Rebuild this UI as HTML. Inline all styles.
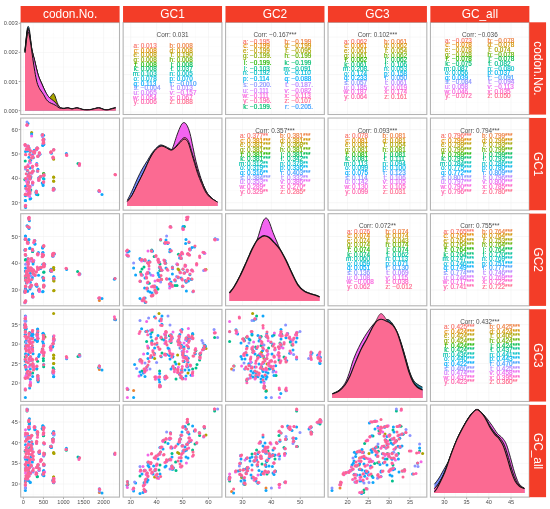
<!DOCTYPE html>
<html><head><meta charset="utf-8"><title>ggpairs</title>
<style>html,body{margin:0;padding:0;background:#fff}svg{display:block}</style>
</head><body>
<svg width="550" height="509" viewBox="0 0 550 509" font-family="Liberation Sans, Arial, sans-serif">
<rect width="550" height="509" fill="#fff"/>
<g><line x1="23.4" y1="22.4" x2="23.4" y2="114.5" stroke="#eeeeee" stroke-width="0.5"/><line x1="33.42" y1="22.4" x2="33.42" y2="114.5" stroke="#f6f6f6" stroke-width="0.3"/><line x1="43.45" y1="22.4" x2="43.45" y2="114.5" stroke="#eeeeee" stroke-width="0.5"/><line x1="53.48" y1="22.4" x2="53.48" y2="114.5" stroke="#f6f6f6" stroke-width="0.3"/><line x1="63.5" y1="22.4" x2="63.5" y2="114.5" stroke="#eeeeee" stroke-width="0.5"/><line x1="73.53" y1="22.4" x2="73.53" y2="114.5" stroke="#f6f6f6" stroke-width="0.3"/><line x1="83.55" y1="22.4" x2="83.55" y2="114.5" stroke="#eeeeee" stroke-width="0.5"/><line x1="93.57" y1="22.4" x2="93.57" y2="114.5" stroke="#f6f6f6" stroke-width="0.3"/><line x1="103.6" y1="22.4" x2="103.6" y2="114.5" stroke="#eeeeee" stroke-width="0.5"/><line x1="113.62" y1="22.4" x2="113.62" y2="114.5" stroke="#f6f6f6" stroke-width="0.3"/><line x1="20.7" y1="110.6" x2="119.5" y2="110.6" stroke="#eeeeee" stroke-width="0.5"/><line x1="20.7" y1="96.05" x2="119.5" y2="96.05" stroke="#f6f6f6" stroke-width="0.3"/><line x1="20.7" y1="81.5" x2="119.5" y2="81.5" stroke="#eeeeee" stroke-width="0.5"/><line x1="20.7" y1="66.95" x2="119.5" y2="66.95" stroke="#f6f6f6" stroke-width="0.3"/><line x1="20.7" y1="52.4" x2="119.5" y2="52.4" stroke="#eeeeee" stroke-width="0.5"/><line x1="20.7" y1="37.85" x2="119.5" y2="37.85" stroke="#f6f6f6" stroke-width="0.3"/><line x1="20.7" y1="23.3" x2="119.5" y2="23.3" stroke="#eeeeee" stroke-width="0.5"/></g>
<g><line x1="130.7" y1="22.4" x2="130.7" y2="114.5" stroke="#eeeeee" stroke-width="0.5"/><line x1="143.66" y1="22.4" x2="143.66" y2="114.5" stroke="#f6f6f6" stroke-width="0.3"/><line x1="156.63" y1="22.4" x2="156.63" y2="114.5" stroke="#eeeeee" stroke-width="0.5"/><line x1="169.59" y1="22.4" x2="169.59" y2="114.5" stroke="#f6f6f6" stroke-width="0.3"/><line x1="182.56" y1="22.4" x2="182.56" y2="114.5" stroke="#eeeeee" stroke-width="0.5"/><line x1="195.52" y1="22.4" x2="195.52" y2="114.5" stroke="#f6f6f6" stroke-width="0.3"/><line x1="208.49" y1="22.4" x2="208.49" y2="114.5" stroke="#eeeeee" stroke-width="0.5"/><line x1="123.14" y1="112.1" x2="221.94" y2="112.1" stroke="#eeeeee" stroke-width="0.5"/><line x1="123.14" y1="102.72" x2="221.94" y2="102.72" stroke="#f6f6f6" stroke-width="0.3"/><line x1="123.14" y1="93.35" x2="221.94" y2="93.35" stroke="#eeeeee" stroke-width="0.5"/><line x1="123.14" y1="83.97" x2="221.94" y2="83.97" stroke="#f6f6f6" stroke-width="0.3"/><line x1="123.14" y1="74.6" x2="221.94" y2="74.6" stroke="#eeeeee" stroke-width="0.5"/><line x1="123.14" y1="65.22" x2="221.94" y2="65.22" stroke="#f6f6f6" stroke-width="0.3"/><line x1="123.14" y1="55.85" x2="221.94" y2="55.85" stroke="#eeeeee" stroke-width="0.5"/><line x1="123.14" y1="46.47" x2="221.94" y2="46.47" stroke="#f6f6f6" stroke-width="0.3"/><line x1="123.14" y1="37.1" x2="221.94" y2="37.1" stroke="#eeeeee" stroke-width="0.5"/><line x1="123.14" y1="27.72" x2="221.94" y2="27.72" stroke="#f6f6f6" stroke-width="0.3"/></g>
<g><line x1="227.95" y1="22.4" x2="227.95" y2="114.5" stroke="#f6f6f6" stroke-width="0.3"/><line x1="242.4" y1="22.4" x2="242.4" y2="114.5" stroke="#eeeeee" stroke-width="0.5"/><line x1="256.85" y1="22.4" x2="256.85" y2="114.5" stroke="#f6f6f6" stroke-width="0.3"/><line x1="271.3" y1="22.4" x2="271.3" y2="114.5" stroke="#eeeeee" stroke-width="0.5"/><line x1="285.75" y1="22.4" x2="285.75" y2="114.5" stroke="#f6f6f6" stroke-width="0.3"/><line x1="300.2" y1="22.4" x2="300.2" y2="114.5" stroke="#eeeeee" stroke-width="0.5"/><line x1="314.65" y1="22.4" x2="314.65" y2="114.5" stroke="#f6f6f6" stroke-width="0.3"/><line x1="225.58" y1="112.1" x2="324.38" y2="112.1" stroke="#eeeeee" stroke-width="0.5"/><line x1="225.58" y1="102.72" x2="324.38" y2="102.72" stroke="#f6f6f6" stroke-width="0.3"/><line x1="225.58" y1="93.35" x2="324.38" y2="93.35" stroke="#eeeeee" stroke-width="0.5"/><line x1="225.58" y1="83.97" x2="324.38" y2="83.97" stroke="#f6f6f6" stroke-width="0.3"/><line x1="225.58" y1="74.6" x2="324.38" y2="74.6" stroke="#eeeeee" stroke-width="0.5"/><line x1="225.58" y1="65.22" x2="324.38" y2="65.22" stroke="#f6f6f6" stroke-width="0.3"/><line x1="225.58" y1="55.85" x2="324.38" y2="55.85" stroke="#eeeeee" stroke-width="0.5"/><line x1="225.58" y1="46.47" x2="324.38" y2="46.47" stroke="#f6f6f6" stroke-width="0.3"/><line x1="225.58" y1="37.1" x2="324.38" y2="37.1" stroke="#eeeeee" stroke-width="0.5"/><line x1="225.58" y1="27.72" x2="324.38" y2="27.72" stroke="#f6f6f6" stroke-width="0.3"/></g>
<g><line x1="337.1" y1="22.4" x2="337.1" y2="114.5" stroke="#f6f6f6" stroke-width="0.3"/><line x1="347.5" y1="22.4" x2="347.5" y2="114.5" stroke="#eeeeee" stroke-width="0.5"/><line x1="357.9" y1="22.4" x2="357.9" y2="114.5" stroke="#f6f6f6" stroke-width="0.3"/><line x1="368.3" y1="22.4" x2="368.3" y2="114.5" stroke="#eeeeee" stroke-width="0.5"/><line x1="378.7" y1="22.4" x2="378.7" y2="114.5" stroke="#f6f6f6" stroke-width="0.3"/><line x1="389.1" y1="22.4" x2="389.1" y2="114.5" stroke="#eeeeee" stroke-width="0.5"/><line x1="399.5" y1="22.4" x2="399.5" y2="114.5" stroke="#f6f6f6" stroke-width="0.3"/><line x1="409.9" y1="22.4" x2="409.9" y2="114.5" stroke="#eeeeee" stroke-width="0.5"/><line x1="420.3" y1="22.4" x2="420.3" y2="114.5" stroke="#f6f6f6" stroke-width="0.3"/><line x1="328.02" y1="112.1" x2="426.82" y2="112.1" stroke="#eeeeee" stroke-width="0.5"/><line x1="328.02" y1="102.72" x2="426.82" y2="102.72" stroke="#f6f6f6" stroke-width="0.3"/><line x1="328.02" y1="93.35" x2="426.82" y2="93.35" stroke="#eeeeee" stroke-width="0.5"/><line x1="328.02" y1="83.97" x2="426.82" y2="83.97" stroke="#f6f6f6" stroke-width="0.3"/><line x1="328.02" y1="74.6" x2="426.82" y2="74.6" stroke="#eeeeee" stroke-width="0.5"/><line x1="328.02" y1="65.22" x2="426.82" y2="65.22" stroke="#f6f6f6" stroke-width="0.3"/><line x1="328.02" y1="55.85" x2="426.82" y2="55.85" stroke="#eeeeee" stroke-width="0.5"/><line x1="328.02" y1="46.47" x2="426.82" y2="46.47" stroke="#f6f6f6" stroke-width="0.3"/><line x1="328.02" y1="37.1" x2="426.82" y2="37.1" stroke="#eeeeee" stroke-width="0.5"/><line x1="328.02" y1="27.72" x2="426.82" y2="27.72" stroke="#f6f6f6" stroke-width="0.3"/></g>
<g><line x1="433.3" y1="22.4" x2="433.3" y2="114.5" stroke="#f6f6f6" stroke-width="0.3"/><line x1="444.4" y1="22.4" x2="444.4" y2="114.5" stroke="#eeeeee" stroke-width="0.5"/><line x1="455.5" y1="22.4" x2="455.5" y2="114.5" stroke="#f6f6f6" stroke-width="0.3"/><line x1="466.6" y1="22.4" x2="466.6" y2="114.5" stroke="#eeeeee" stroke-width="0.5"/><line x1="477.7" y1="22.4" x2="477.7" y2="114.5" stroke="#f6f6f6" stroke-width="0.3"/><line x1="488.8" y1="22.4" x2="488.8" y2="114.5" stroke="#eeeeee" stroke-width="0.5"/><line x1="499.9" y1="22.4" x2="499.9" y2="114.5" stroke="#f6f6f6" stroke-width="0.3"/><line x1="511" y1="22.4" x2="511" y2="114.5" stroke="#eeeeee" stroke-width="0.5"/><line x1="522.1" y1="22.4" x2="522.1" y2="114.5" stroke="#f6f6f6" stroke-width="0.3"/><line x1="430.46" y1="112.1" x2="529.26" y2="112.1" stroke="#eeeeee" stroke-width="0.5"/><line x1="430.46" y1="102.72" x2="529.26" y2="102.72" stroke="#f6f6f6" stroke-width="0.3"/><line x1="430.46" y1="93.35" x2="529.26" y2="93.35" stroke="#eeeeee" stroke-width="0.5"/><line x1="430.46" y1="83.97" x2="529.26" y2="83.97" stroke="#f6f6f6" stroke-width="0.3"/><line x1="430.46" y1="74.6" x2="529.26" y2="74.6" stroke="#eeeeee" stroke-width="0.5"/><line x1="430.46" y1="65.22" x2="529.26" y2="65.22" stroke="#f6f6f6" stroke-width="0.3"/><line x1="430.46" y1="55.85" x2="529.26" y2="55.85" stroke="#eeeeee" stroke-width="0.5"/><line x1="430.46" y1="46.47" x2="529.26" y2="46.47" stroke="#f6f6f6" stroke-width="0.3"/><line x1="430.46" y1="37.1" x2="529.26" y2="37.1" stroke="#eeeeee" stroke-width="0.5"/><line x1="430.46" y1="27.72" x2="529.26" y2="27.72" stroke="#f6f6f6" stroke-width="0.3"/></g>
<g><line x1="23.4" y1="118.05" x2="23.4" y2="210.15" stroke="#eeeeee" stroke-width="0.5"/><line x1="33.42" y1="118.05" x2="33.42" y2="210.15" stroke="#f6f6f6" stroke-width="0.3"/><line x1="43.45" y1="118.05" x2="43.45" y2="210.15" stroke="#eeeeee" stroke-width="0.5"/><line x1="53.48" y1="118.05" x2="53.48" y2="210.15" stroke="#f6f6f6" stroke-width="0.3"/><line x1="63.5" y1="118.05" x2="63.5" y2="210.15" stroke="#eeeeee" stroke-width="0.5"/><line x1="73.53" y1="118.05" x2="73.53" y2="210.15" stroke="#f6f6f6" stroke-width="0.3"/><line x1="83.55" y1="118.05" x2="83.55" y2="210.15" stroke="#eeeeee" stroke-width="0.5"/><line x1="93.57" y1="118.05" x2="93.57" y2="210.15" stroke="#f6f6f6" stroke-width="0.3"/><line x1="103.6" y1="118.05" x2="103.6" y2="210.15" stroke="#eeeeee" stroke-width="0.5"/><line x1="113.62" y1="118.05" x2="113.62" y2="210.15" stroke="#f6f6f6" stroke-width="0.3"/><line x1="20.7" y1="202.7" x2="119.5" y2="202.7" stroke="#eeeeee" stroke-width="0.5"/><line x1="20.7" y1="190.51" x2="119.5" y2="190.51" stroke="#f6f6f6" stroke-width="0.3"/><line x1="20.7" y1="178.33" x2="119.5" y2="178.33" stroke="#eeeeee" stroke-width="0.5"/><line x1="20.7" y1="166.14" x2="119.5" y2="166.14" stroke="#f6f6f6" stroke-width="0.3"/><line x1="20.7" y1="153.96" x2="119.5" y2="153.96" stroke="#eeeeee" stroke-width="0.5"/><line x1="20.7" y1="141.77" x2="119.5" y2="141.77" stroke="#f6f6f6" stroke-width="0.3"/><line x1="20.7" y1="129.59" x2="119.5" y2="129.59" stroke="#eeeeee" stroke-width="0.5"/></g>
<g><line x1="130.7" y1="118.05" x2="130.7" y2="210.15" stroke="#eeeeee" stroke-width="0.5"/><line x1="143.66" y1="118.05" x2="143.66" y2="210.15" stroke="#f6f6f6" stroke-width="0.3"/><line x1="156.63" y1="118.05" x2="156.63" y2="210.15" stroke="#eeeeee" stroke-width="0.5"/><line x1="169.59" y1="118.05" x2="169.59" y2="210.15" stroke="#f6f6f6" stroke-width="0.3"/><line x1="182.56" y1="118.05" x2="182.56" y2="210.15" stroke="#eeeeee" stroke-width="0.5"/><line x1="195.52" y1="118.05" x2="195.52" y2="210.15" stroke="#f6f6f6" stroke-width="0.3"/><line x1="208.49" y1="118.05" x2="208.49" y2="210.15" stroke="#eeeeee" stroke-width="0.5"/><line x1="123.14" y1="202.7" x2="221.94" y2="202.7" stroke="#eeeeee" stroke-width="0.5"/><line x1="123.14" y1="190.51" x2="221.94" y2="190.51" stroke="#f6f6f6" stroke-width="0.3"/><line x1="123.14" y1="178.33" x2="221.94" y2="178.33" stroke="#eeeeee" stroke-width="0.5"/><line x1="123.14" y1="166.14" x2="221.94" y2="166.14" stroke="#f6f6f6" stroke-width="0.3"/><line x1="123.14" y1="153.96" x2="221.94" y2="153.96" stroke="#eeeeee" stroke-width="0.5"/><line x1="123.14" y1="141.77" x2="221.94" y2="141.77" stroke="#f6f6f6" stroke-width="0.3"/><line x1="123.14" y1="129.59" x2="221.94" y2="129.59" stroke="#eeeeee" stroke-width="0.5"/></g>
<g><line x1="227.95" y1="118.05" x2="227.95" y2="210.15" stroke="#f6f6f6" stroke-width="0.3"/><line x1="242.4" y1="118.05" x2="242.4" y2="210.15" stroke="#eeeeee" stroke-width="0.5"/><line x1="256.85" y1="118.05" x2="256.85" y2="210.15" stroke="#f6f6f6" stroke-width="0.3"/><line x1="271.3" y1="118.05" x2="271.3" y2="210.15" stroke="#eeeeee" stroke-width="0.5"/><line x1="285.75" y1="118.05" x2="285.75" y2="210.15" stroke="#f6f6f6" stroke-width="0.3"/><line x1="300.2" y1="118.05" x2="300.2" y2="210.15" stroke="#eeeeee" stroke-width="0.5"/><line x1="314.65" y1="118.05" x2="314.65" y2="210.15" stroke="#f6f6f6" stroke-width="0.3"/><line x1="225.58" y1="202.7" x2="324.38" y2="202.7" stroke="#eeeeee" stroke-width="0.5"/><line x1="225.58" y1="190.51" x2="324.38" y2="190.51" stroke="#f6f6f6" stroke-width="0.3"/><line x1="225.58" y1="178.33" x2="324.38" y2="178.33" stroke="#eeeeee" stroke-width="0.5"/><line x1="225.58" y1="166.14" x2="324.38" y2="166.14" stroke="#f6f6f6" stroke-width="0.3"/><line x1="225.58" y1="153.96" x2="324.38" y2="153.96" stroke="#eeeeee" stroke-width="0.5"/><line x1="225.58" y1="141.77" x2="324.38" y2="141.77" stroke="#f6f6f6" stroke-width="0.3"/><line x1="225.58" y1="129.59" x2="324.38" y2="129.59" stroke="#eeeeee" stroke-width="0.5"/></g>
<g><line x1="337.1" y1="118.05" x2="337.1" y2="210.15" stroke="#f6f6f6" stroke-width="0.3"/><line x1="347.5" y1="118.05" x2="347.5" y2="210.15" stroke="#eeeeee" stroke-width="0.5"/><line x1="357.9" y1="118.05" x2="357.9" y2="210.15" stroke="#f6f6f6" stroke-width="0.3"/><line x1="368.3" y1="118.05" x2="368.3" y2="210.15" stroke="#eeeeee" stroke-width="0.5"/><line x1="378.7" y1="118.05" x2="378.7" y2="210.15" stroke="#f6f6f6" stroke-width="0.3"/><line x1="389.1" y1="118.05" x2="389.1" y2="210.15" stroke="#eeeeee" stroke-width="0.5"/><line x1="399.5" y1="118.05" x2="399.5" y2="210.15" stroke="#f6f6f6" stroke-width="0.3"/><line x1="409.9" y1="118.05" x2="409.9" y2="210.15" stroke="#eeeeee" stroke-width="0.5"/><line x1="420.3" y1="118.05" x2="420.3" y2="210.15" stroke="#f6f6f6" stroke-width="0.3"/><line x1="328.02" y1="202.7" x2="426.82" y2="202.7" stroke="#eeeeee" stroke-width="0.5"/><line x1="328.02" y1="190.51" x2="426.82" y2="190.51" stroke="#f6f6f6" stroke-width="0.3"/><line x1="328.02" y1="178.33" x2="426.82" y2="178.33" stroke="#eeeeee" stroke-width="0.5"/><line x1="328.02" y1="166.14" x2="426.82" y2="166.14" stroke="#f6f6f6" stroke-width="0.3"/><line x1="328.02" y1="153.96" x2="426.82" y2="153.96" stroke="#eeeeee" stroke-width="0.5"/><line x1="328.02" y1="141.77" x2="426.82" y2="141.77" stroke="#f6f6f6" stroke-width="0.3"/><line x1="328.02" y1="129.59" x2="426.82" y2="129.59" stroke="#eeeeee" stroke-width="0.5"/></g>
<g><line x1="433.3" y1="118.05" x2="433.3" y2="210.15" stroke="#f6f6f6" stroke-width="0.3"/><line x1="444.4" y1="118.05" x2="444.4" y2="210.15" stroke="#eeeeee" stroke-width="0.5"/><line x1="455.5" y1="118.05" x2="455.5" y2="210.15" stroke="#f6f6f6" stroke-width="0.3"/><line x1="466.6" y1="118.05" x2="466.6" y2="210.15" stroke="#eeeeee" stroke-width="0.5"/><line x1="477.7" y1="118.05" x2="477.7" y2="210.15" stroke="#f6f6f6" stroke-width="0.3"/><line x1="488.8" y1="118.05" x2="488.8" y2="210.15" stroke="#eeeeee" stroke-width="0.5"/><line x1="499.9" y1="118.05" x2="499.9" y2="210.15" stroke="#f6f6f6" stroke-width="0.3"/><line x1="511" y1="118.05" x2="511" y2="210.15" stroke="#eeeeee" stroke-width="0.5"/><line x1="522.1" y1="118.05" x2="522.1" y2="210.15" stroke="#f6f6f6" stroke-width="0.3"/><line x1="430.46" y1="202.7" x2="529.26" y2="202.7" stroke="#eeeeee" stroke-width="0.5"/><line x1="430.46" y1="190.51" x2="529.26" y2="190.51" stroke="#f6f6f6" stroke-width="0.3"/><line x1="430.46" y1="178.33" x2="529.26" y2="178.33" stroke="#eeeeee" stroke-width="0.5"/><line x1="430.46" y1="166.14" x2="529.26" y2="166.14" stroke="#f6f6f6" stroke-width="0.3"/><line x1="430.46" y1="153.96" x2="529.26" y2="153.96" stroke="#eeeeee" stroke-width="0.5"/><line x1="430.46" y1="141.77" x2="529.26" y2="141.77" stroke="#f6f6f6" stroke-width="0.3"/><line x1="430.46" y1="129.59" x2="529.26" y2="129.59" stroke="#eeeeee" stroke-width="0.5"/></g>
<g><line x1="23.4" y1="213.7" x2="23.4" y2="305.8" stroke="#eeeeee" stroke-width="0.5"/><line x1="33.42" y1="213.7" x2="33.42" y2="305.8" stroke="#f6f6f6" stroke-width="0.3"/><line x1="43.45" y1="213.7" x2="43.45" y2="305.8" stroke="#eeeeee" stroke-width="0.5"/><line x1="53.48" y1="213.7" x2="53.48" y2="305.8" stroke="#f6f6f6" stroke-width="0.3"/><line x1="63.5" y1="213.7" x2="63.5" y2="305.8" stroke="#eeeeee" stroke-width="0.5"/><line x1="73.53" y1="213.7" x2="73.53" y2="305.8" stroke="#f6f6f6" stroke-width="0.3"/><line x1="83.55" y1="213.7" x2="83.55" y2="305.8" stroke="#eeeeee" stroke-width="0.5"/><line x1="93.57" y1="213.7" x2="93.57" y2="305.8" stroke="#f6f6f6" stroke-width="0.3"/><line x1="103.6" y1="213.7" x2="103.6" y2="305.8" stroke="#eeeeee" stroke-width="0.5"/><line x1="113.62" y1="213.7" x2="113.62" y2="305.8" stroke="#f6f6f6" stroke-width="0.3"/><line x1="20.7" y1="303.38" x2="119.5" y2="303.38" stroke="#f6f6f6" stroke-width="0.3"/><line x1="20.7" y1="290" x2="119.5" y2="290" stroke="#eeeeee" stroke-width="0.5"/><line x1="20.7" y1="276.62" x2="119.5" y2="276.62" stroke="#f6f6f6" stroke-width="0.3"/><line x1="20.7" y1="263.25" x2="119.5" y2="263.25" stroke="#eeeeee" stroke-width="0.5"/><line x1="20.7" y1="249.88" x2="119.5" y2="249.88" stroke="#f6f6f6" stroke-width="0.3"/><line x1="20.7" y1="236.5" x2="119.5" y2="236.5" stroke="#eeeeee" stroke-width="0.5"/><line x1="20.7" y1="223.12" x2="119.5" y2="223.12" stroke="#f6f6f6" stroke-width="0.3"/></g>
<g><line x1="130.7" y1="213.7" x2="130.7" y2="305.8" stroke="#eeeeee" stroke-width="0.5"/><line x1="143.66" y1="213.7" x2="143.66" y2="305.8" stroke="#f6f6f6" stroke-width="0.3"/><line x1="156.63" y1="213.7" x2="156.63" y2="305.8" stroke="#eeeeee" stroke-width="0.5"/><line x1="169.59" y1="213.7" x2="169.59" y2="305.8" stroke="#f6f6f6" stroke-width="0.3"/><line x1="182.56" y1="213.7" x2="182.56" y2="305.8" stroke="#eeeeee" stroke-width="0.5"/><line x1="195.52" y1="213.7" x2="195.52" y2="305.8" stroke="#f6f6f6" stroke-width="0.3"/><line x1="208.49" y1="213.7" x2="208.49" y2="305.8" stroke="#eeeeee" stroke-width="0.5"/><line x1="123.14" y1="303.38" x2="221.94" y2="303.38" stroke="#f6f6f6" stroke-width="0.3"/><line x1="123.14" y1="290" x2="221.94" y2="290" stroke="#eeeeee" stroke-width="0.5"/><line x1="123.14" y1="276.62" x2="221.94" y2="276.62" stroke="#f6f6f6" stroke-width="0.3"/><line x1="123.14" y1="263.25" x2="221.94" y2="263.25" stroke="#eeeeee" stroke-width="0.5"/><line x1="123.14" y1="249.88" x2="221.94" y2="249.88" stroke="#f6f6f6" stroke-width="0.3"/><line x1="123.14" y1="236.5" x2="221.94" y2="236.5" stroke="#eeeeee" stroke-width="0.5"/><line x1="123.14" y1="223.12" x2="221.94" y2="223.12" stroke="#f6f6f6" stroke-width="0.3"/></g>
<g><line x1="227.95" y1="213.7" x2="227.95" y2="305.8" stroke="#f6f6f6" stroke-width="0.3"/><line x1="242.4" y1="213.7" x2="242.4" y2="305.8" stroke="#eeeeee" stroke-width="0.5"/><line x1="256.85" y1="213.7" x2="256.85" y2="305.8" stroke="#f6f6f6" stroke-width="0.3"/><line x1="271.3" y1="213.7" x2="271.3" y2="305.8" stroke="#eeeeee" stroke-width="0.5"/><line x1="285.75" y1="213.7" x2="285.75" y2="305.8" stroke="#f6f6f6" stroke-width="0.3"/><line x1="300.2" y1="213.7" x2="300.2" y2="305.8" stroke="#eeeeee" stroke-width="0.5"/><line x1="314.65" y1="213.7" x2="314.65" y2="305.8" stroke="#f6f6f6" stroke-width="0.3"/><line x1="225.58" y1="303.38" x2="324.38" y2="303.38" stroke="#f6f6f6" stroke-width="0.3"/><line x1="225.58" y1="290" x2="324.38" y2="290" stroke="#eeeeee" stroke-width="0.5"/><line x1="225.58" y1="276.62" x2="324.38" y2="276.62" stroke="#f6f6f6" stroke-width="0.3"/><line x1="225.58" y1="263.25" x2="324.38" y2="263.25" stroke="#eeeeee" stroke-width="0.5"/><line x1="225.58" y1="249.88" x2="324.38" y2="249.88" stroke="#f6f6f6" stroke-width="0.3"/><line x1="225.58" y1="236.5" x2="324.38" y2="236.5" stroke="#eeeeee" stroke-width="0.5"/><line x1="225.58" y1="223.12" x2="324.38" y2="223.12" stroke="#f6f6f6" stroke-width="0.3"/></g>
<g><line x1="337.1" y1="213.7" x2="337.1" y2="305.8" stroke="#f6f6f6" stroke-width="0.3"/><line x1="347.5" y1="213.7" x2="347.5" y2="305.8" stroke="#eeeeee" stroke-width="0.5"/><line x1="357.9" y1="213.7" x2="357.9" y2="305.8" stroke="#f6f6f6" stroke-width="0.3"/><line x1="368.3" y1="213.7" x2="368.3" y2="305.8" stroke="#eeeeee" stroke-width="0.5"/><line x1="378.7" y1="213.7" x2="378.7" y2="305.8" stroke="#f6f6f6" stroke-width="0.3"/><line x1="389.1" y1="213.7" x2="389.1" y2="305.8" stroke="#eeeeee" stroke-width="0.5"/><line x1="399.5" y1="213.7" x2="399.5" y2="305.8" stroke="#f6f6f6" stroke-width="0.3"/><line x1="409.9" y1="213.7" x2="409.9" y2="305.8" stroke="#eeeeee" stroke-width="0.5"/><line x1="420.3" y1="213.7" x2="420.3" y2="305.8" stroke="#f6f6f6" stroke-width="0.3"/><line x1="328.02" y1="303.38" x2="426.82" y2="303.38" stroke="#f6f6f6" stroke-width="0.3"/><line x1="328.02" y1="290" x2="426.82" y2="290" stroke="#eeeeee" stroke-width="0.5"/><line x1="328.02" y1="276.62" x2="426.82" y2="276.62" stroke="#f6f6f6" stroke-width="0.3"/><line x1="328.02" y1="263.25" x2="426.82" y2="263.25" stroke="#eeeeee" stroke-width="0.5"/><line x1="328.02" y1="249.88" x2="426.82" y2="249.88" stroke="#f6f6f6" stroke-width="0.3"/><line x1="328.02" y1="236.5" x2="426.82" y2="236.5" stroke="#eeeeee" stroke-width="0.5"/><line x1="328.02" y1="223.12" x2="426.82" y2="223.12" stroke="#f6f6f6" stroke-width="0.3"/></g>
<g><line x1="433.3" y1="213.7" x2="433.3" y2="305.8" stroke="#f6f6f6" stroke-width="0.3"/><line x1="444.4" y1="213.7" x2="444.4" y2="305.8" stroke="#eeeeee" stroke-width="0.5"/><line x1="455.5" y1="213.7" x2="455.5" y2="305.8" stroke="#f6f6f6" stroke-width="0.3"/><line x1="466.6" y1="213.7" x2="466.6" y2="305.8" stroke="#eeeeee" stroke-width="0.5"/><line x1="477.7" y1="213.7" x2="477.7" y2="305.8" stroke="#f6f6f6" stroke-width="0.3"/><line x1="488.8" y1="213.7" x2="488.8" y2="305.8" stroke="#eeeeee" stroke-width="0.5"/><line x1="499.9" y1="213.7" x2="499.9" y2="305.8" stroke="#f6f6f6" stroke-width="0.3"/><line x1="511" y1="213.7" x2="511" y2="305.8" stroke="#eeeeee" stroke-width="0.5"/><line x1="522.1" y1="213.7" x2="522.1" y2="305.8" stroke="#f6f6f6" stroke-width="0.3"/><line x1="430.46" y1="303.38" x2="529.26" y2="303.38" stroke="#f6f6f6" stroke-width="0.3"/><line x1="430.46" y1="290" x2="529.26" y2="290" stroke="#eeeeee" stroke-width="0.5"/><line x1="430.46" y1="276.62" x2="529.26" y2="276.62" stroke="#f6f6f6" stroke-width="0.3"/><line x1="430.46" y1="263.25" x2="529.26" y2="263.25" stroke="#eeeeee" stroke-width="0.5"/><line x1="430.46" y1="249.88" x2="529.26" y2="249.88" stroke="#f6f6f6" stroke-width="0.3"/><line x1="430.46" y1="236.5" x2="529.26" y2="236.5" stroke="#eeeeee" stroke-width="0.5"/><line x1="430.46" y1="223.12" x2="529.26" y2="223.12" stroke="#f6f6f6" stroke-width="0.3"/></g>
<g><line x1="23.4" y1="309.35" x2="23.4" y2="401.45" stroke="#eeeeee" stroke-width="0.5"/><line x1="33.42" y1="309.35" x2="33.42" y2="401.45" stroke="#f6f6f6" stroke-width="0.3"/><line x1="43.45" y1="309.35" x2="43.45" y2="401.45" stroke="#eeeeee" stroke-width="0.5"/><line x1="53.48" y1="309.35" x2="53.48" y2="401.45" stroke="#f6f6f6" stroke-width="0.3"/><line x1="63.5" y1="309.35" x2="63.5" y2="401.45" stroke="#eeeeee" stroke-width="0.5"/><line x1="73.53" y1="309.35" x2="73.53" y2="401.45" stroke="#f6f6f6" stroke-width="0.3"/><line x1="83.55" y1="309.35" x2="83.55" y2="401.45" stroke="#eeeeee" stroke-width="0.5"/><line x1="93.57" y1="309.35" x2="93.57" y2="401.45" stroke="#f6f6f6" stroke-width="0.3"/><line x1="103.6" y1="309.35" x2="103.6" y2="401.45" stroke="#eeeeee" stroke-width="0.5"/><line x1="113.62" y1="309.35" x2="113.62" y2="401.45" stroke="#f6f6f6" stroke-width="0.3"/><line x1="20.7" y1="392.73" x2="119.5" y2="392.73" stroke="#f6f6f6" stroke-width="0.3"/><line x1="20.7" y1="383" x2="119.5" y2="383" stroke="#eeeeee" stroke-width="0.5"/><line x1="20.7" y1="373.27" x2="119.5" y2="373.27" stroke="#f6f6f6" stroke-width="0.3"/><line x1="20.7" y1="363.55" x2="119.5" y2="363.55" stroke="#eeeeee" stroke-width="0.5"/><line x1="20.7" y1="353.82" x2="119.5" y2="353.82" stroke="#f6f6f6" stroke-width="0.3"/><line x1="20.7" y1="344.1" x2="119.5" y2="344.1" stroke="#eeeeee" stroke-width="0.5"/><line x1="20.7" y1="334.38" x2="119.5" y2="334.38" stroke="#f6f6f6" stroke-width="0.3"/><line x1="20.7" y1="324.65" x2="119.5" y2="324.65" stroke="#eeeeee" stroke-width="0.5"/><line x1="20.7" y1="314.93" x2="119.5" y2="314.93" stroke="#f6f6f6" stroke-width="0.3"/></g>
<g><line x1="130.7" y1="309.35" x2="130.7" y2="401.45" stroke="#eeeeee" stroke-width="0.5"/><line x1="143.66" y1="309.35" x2="143.66" y2="401.45" stroke="#f6f6f6" stroke-width="0.3"/><line x1="156.63" y1="309.35" x2="156.63" y2="401.45" stroke="#eeeeee" stroke-width="0.5"/><line x1="169.59" y1="309.35" x2="169.59" y2="401.45" stroke="#f6f6f6" stroke-width="0.3"/><line x1="182.56" y1="309.35" x2="182.56" y2="401.45" stroke="#eeeeee" stroke-width="0.5"/><line x1="195.52" y1="309.35" x2="195.52" y2="401.45" stroke="#f6f6f6" stroke-width="0.3"/><line x1="208.49" y1="309.35" x2="208.49" y2="401.45" stroke="#eeeeee" stroke-width="0.5"/><line x1="123.14" y1="392.73" x2="221.94" y2="392.73" stroke="#f6f6f6" stroke-width="0.3"/><line x1="123.14" y1="383" x2="221.94" y2="383" stroke="#eeeeee" stroke-width="0.5"/><line x1="123.14" y1="373.27" x2="221.94" y2="373.27" stroke="#f6f6f6" stroke-width="0.3"/><line x1="123.14" y1="363.55" x2="221.94" y2="363.55" stroke="#eeeeee" stroke-width="0.5"/><line x1="123.14" y1="353.82" x2="221.94" y2="353.82" stroke="#f6f6f6" stroke-width="0.3"/><line x1="123.14" y1="344.1" x2="221.94" y2="344.1" stroke="#eeeeee" stroke-width="0.5"/><line x1="123.14" y1="334.38" x2="221.94" y2="334.38" stroke="#f6f6f6" stroke-width="0.3"/><line x1="123.14" y1="324.65" x2="221.94" y2="324.65" stroke="#eeeeee" stroke-width="0.5"/><line x1="123.14" y1="314.93" x2="221.94" y2="314.93" stroke="#f6f6f6" stroke-width="0.3"/></g>
<g><line x1="227.95" y1="309.35" x2="227.95" y2="401.45" stroke="#f6f6f6" stroke-width="0.3"/><line x1="242.4" y1="309.35" x2="242.4" y2="401.45" stroke="#eeeeee" stroke-width="0.5"/><line x1="256.85" y1="309.35" x2="256.85" y2="401.45" stroke="#f6f6f6" stroke-width="0.3"/><line x1="271.3" y1="309.35" x2="271.3" y2="401.45" stroke="#eeeeee" stroke-width="0.5"/><line x1="285.75" y1="309.35" x2="285.75" y2="401.45" stroke="#f6f6f6" stroke-width="0.3"/><line x1="300.2" y1="309.35" x2="300.2" y2="401.45" stroke="#eeeeee" stroke-width="0.5"/><line x1="314.65" y1="309.35" x2="314.65" y2="401.45" stroke="#f6f6f6" stroke-width="0.3"/><line x1="225.58" y1="392.73" x2="324.38" y2="392.73" stroke="#f6f6f6" stroke-width="0.3"/><line x1="225.58" y1="383" x2="324.38" y2="383" stroke="#eeeeee" stroke-width="0.5"/><line x1="225.58" y1="373.27" x2="324.38" y2="373.27" stroke="#f6f6f6" stroke-width="0.3"/><line x1="225.58" y1="363.55" x2="324.38" y2="363.55" stroke="#eeeeee" stroke-width="0.5"/><line x1="225.58" y1="353.82" x2="324.38" y2="353.82" stroke="#f6f6f6" stroke-width="0.3"/><line x1="225.58" y1="344.1" x2="324.38" y2="344.1" stroke="#eeeeee" stroke-width="0.5"/><line x1="225.58" y1="334.38" x2="324.38" y2="334.38" stroke="#f6f6f6" stroke-width="0.3"/><line x1="225.58" y1="324.65" x2="324.38" y2="324.65" stroke="#eeeeee" stroke-width="0.5"/><line x1="225.58" y1="314.93" x2="324.38" y2="314.93" stroke="#f6f6f6" stroke-width="0.3"/></g>
<g><line x1="337.1" y1="309.35" x2="337.1" y2="401.45" stroke="#f6f6f6" stroke-width="0.3"/><line x1="347.5" y1="309.35" x2="347.5" y2="401.45" stroke="#eeeeee" stroke-width="0.5"/><line x1="357.9" y1="309.35" x2="357.9" y2="401.45" stroke="#f6f6f6" stroke-width="0.3"/><line x1="368.3" y1="309.35" x2="368.3" y2="401.45" stroke="#eeeeee" stroke-width="0.5"/><line x1="378.7" y1="309.35" x2="378.7" y2="401.45" stroke="#f6f6f6" stroke-width="0.3"/><line x1="389.1" y1="309.35" x2="389.1" y2="401.45" stroke="#eeeeee" stroke-width="0.5"/><line x1="399.5" y1="309.35" x2="399.5" y2="401.45" stroke="#f6f6f6" stroke-width="0.3"/><line x1="409.9" y1="309.35" x2="409.9" y2="401.45" stroke="#eeeeee" stroke-width="0.5"/><line x1="420.3" y1="309.35" x2="420.3" y2="401.45" stroke="#f6f6f6" stroke-width="0.3"/><line x1="328.02" y1="392.73" x2="426.82" y2="392.73" stroke="#f6f6f6" stroke-width="0.3"/><line x1="328.02" y1="383" x2="426.82" y2="383" stroke="#eeeeee" stroke-width="0.5"/><line x1="328.02" y1="373.27" x2="426.82" y2="373.27" stroke="#f6f6f6" stroke-width="0.3"/><line x1="328.02" y1="363.55" x2="426.82" y2="363.55" stroke="#eeeeee" stroke-width="0.5"/><line x1="328.02" y1="353.82" x2="426.82" y2="353.82" stroke="#f6f6f6" stroke-width="0.3"/><line x1="328.02" y1="344.1" x2="426.82" y2="344.1" stroke="#eeeeee" stroke-width="0.5"/><line x1="328.02" y1="334.38" x2="426.82" y2="334.38" stroke="#f6f6f6" stroke-width="0.3"/><line x1="328.02" y1="324.65" x2="426.82" y2="324.65" stroke="#eeeeee" stroke-width="0.5"/><line x1="328.02" y1="314.93" x2="426.82" y2="314.93" stroke="#f6f6f6" stroke-width="0.3"/></g>
<g><line x1="433.3" y1="309.35" x2="433.3" y2="401.45" stroke="#f6f6f6" stroke-width="0.3"/><line x1="444.4" y1="309.35" x2="444.4" y2="401.45" stroke="#eeeeee" stroke-width="0.5"/><line x1="455.5" y1="309.35" x2="455.5" y2="401.45" stroke="#f6f6f6" stroke-width="0.3"/><line x1="466.6" y1="309.35" x2="466.6" y2="401.45" stroke="#eeeeee" stroke-width="0.5"/><line x1="477.7" y1="309.35" x2="477.7" y2="401.45" stroke="#f6f6f6" stroke-width="0.3"/><line x1="488.8" y1="309.35" x2="488.8" y2="401.45" stroke="#eeeeee" stroke-width="0.5"/><line x1="499.9" y1="309.35" x2="499.9" y2="401.45" stroke="#f6f6f6" stroke-width="0.3"/><line x1="511" y1="309.35" x2="511" y2="401.45" stroke="#eeeeee" stroke-width="0.5"/><line x1="522.1" y1="309.35" x2="522.1" y2="401.45" stroke="#f6f6f6" stroke-width="0.3"/><line x1="430.46" y1="392.73" x2="529.26" y2="392.73" stroke="#f6f6f6" stroke-width="0.3"/><line x1="430.46" y1="383" x2="529.26" y2="383" stroke="#eeeeee" stroke-width="0.5"/><line x1="430.46" y1="373.27" x2="529.26" y2="373.27" stroke="#f6f6f6" stroke-width="0.3"/><line x1="430.46" y1="363.55" x2="529.26" y2="363.55" stroke="#eeeeee" stroke-width="0.5"/><line x1="430.46" y1="353.82" x2="529.26" y2="353.82" stroke="#f6f6f6" stroke-width="0.3"/><line x1="430.46" y1="344.1" x2="529.26" y2="344.1" stroke="#eeeeee" stroke-width="0.5"/><line x1="430.46" y1="334.38" x2="529.26" y2="334.38" stroke="#f6f6f6" stroke-width="0.3"/><line x1="430.46" y1="324.65" x2="529.26" y2="324.65" stroke="#eeeeee" stroke-width="0.5"/><line x1="430.46" y1="314.93" x2="529.26" y2="314.93" stroke="#f6f6f6" stroke-width="0.3"/></g>
<g><line x1="23.4" y1="405" x2="23.4" y2="497.1" stroke="#eeeeee" stroke-width="0.5"/><line x1="33.42" y1="405" x2="33.42" y2="497.1" stroke="#f6f6f6" stroke-width="0.3"/><line x1="43.45" y1="405" x2="43.45" y2="497.1" stroke="#eeeeee" stroke-width="0.5"/><line x1="53.48" y1="405" x2="53.48" y2="497.1" stroke="#f6f6f6" stroke-width="0.3"/><line x1="63.5" y1="405" x2="63.5" y2="497.1" stroke="#eeeeee" stroke-width="0.5"/><line x1="73.53" y1="405" x2="73.53" y2="497.1" stroke="#f6f6f6" stroke-width="0.3"/><line x1="83.55" y1="405" x2="83.55" y2="497.1" stroke="#eeeeee" stroke-width="0.5"/><line x1="93.57" y1="405" x2="93.57" y2="497.1" stroke="#f6f6f6" stroke-width="0.3"/><line x1="103.6" y1="405" x2="103.6" y2="497.1" stroke="#eeeeee" stroke-width="0.5"/><line x1="113.62" y1="405" x2="113.62" y2="497.1" stroke="#f6f6f6" stroke-width="0.3"/><line x1="20.7" y1="494.33" x2="119.5" y2="494.33" stroke="#f6f6f6" stroke-width="0.3"/><line x1="20.7" y1="484" x2="119.5" y2="484" stroke="#eeeeee" stroke-width="0.5"/><line x1="20.7" y1="473.67" x2="119.5" y2="473.67" stroke="#f6f6f6" stroke-width="0.3"/><line x1="20.7" y1="463.33" x2="119.5" y2="463.33" stroke="#eeeeee" stroke-width="0.5"/><line x1="20.7" y1="453" x2="119.5" y2="453" stroke="#f6f6f6" stroke-width="0.3"/><line x1="20.7" y1="442.66" x2="119.5" y2="442.66" stroke="#eeeeee" stroke-width="0.5"/><line x1="20.7" y1="432.32" x2="119.5" y2="432.32" stroke="#f6f6f6" stroke-width="0.3"/><line x1="20.7" y1="421.99" x2="119.5" y2="421.99" stroke="#eeeeee" stroke-width="0.5"/><line x1="20.7" y1="411.65" x2="119.5" y2="411.65" stroke="#f6f6f6" stroke-width="0.3"/></g>
<g><line x1="130.7" y1="405" x2="130.7" y2="497.1" stroke="#eeeeee" stroke-width="0.5"/><line x1="143.66" y1="405" x2="143.66" y2="497.1" stroke="#f6f6f6" stroke-width="0.3"/><line x1="156.63" y1="405" x2="156.63" y2="497.1" stroke="#eeeeee" stroke-width="0.5"/><line x1="169.59" y1="405" x2="169.59" y2="497.1" stroke="#f6f6f6" stroke-width="0.3"/><line x1="182.56" y1="405" x2="182.56" y2="497.1" stroke="#eeeeee" stroke-width="0.5"/><line x1="195.52" y1="405" x2="195.52" y2="497.1" stroke="#f6f6f6" stroke-width="0.3"/><line x1="208.49" y1="405" x2="208.49" y2="497.1" stroke="#eeeeee" stroke-width="0.5"/><line x1="123.14" y1="494.33" x2="221.94" y2="494.33" stroke="#f6f6f6" stroke-width="0.3"/><line x1="123.14" y1="484" x2="221.94" y2="484" stroke="#eeeeee" stroke-width="0.5"/><line x1="123.14" y1="473.67" x2="221.94" y2="473.67" stroke="#f6f6f6" stroke-width="0.3"/><line x1="123.14" y1="463.33" x2="221.94" y2="463.33" stroke="#eeeeee" stroke-width="0.5"/><line x1="123.14" y1="453" x2="221.94" y2="453" stroke="#f6f6f6" stroke-width="0.3"/><line x1="123.14" y1="442.66" x2="221.94" y2="442.66" stroke="#eeeeee" stroke-width="0.5"/><line x1="123.14" y1="432.32" x2="221.94" y2="432.32" stroke="#f6f6f6" stroke-width="0.3"/><line x1="123.14" y1="421.99" x2="221.94" y2="421.99" stroke="#eeeeee" stroke-width="0.5"/><line x1="123.14" y1="411.65" x2="221.94" y2="411.65" stroke="#f6f6f6" stroke-width="0.3"/></g>
<g><line x1="227.95" y1="405" x2="227.95" y2="497.1" stroke="#f6f6f6" stroke-width="0.3"/><line x1="242.4" y1="405" x2="242.4" y2="497.1" stroke="#eeeeee" stroke-width="0.5"/><line x1="256.85" y1="405" x2="256.85" y2="497.1" stroke="#f6f6f6" stroke-width="0.3"/><line x1="271.3" y1="405" x2="271.3" y2="497.1" stroke="#eeeeee" stroke-width="0.5"/><line x1="285.75" y1="405" x2="285.75" y2="497.1" stroke="#f6f6f6" stroke-width="0.3"/><line x1="300.2" y1="405" x2="300.2" y2="497.1" stroke="#eeeeee" stroke-width="0.5"/><line x1="314.65" y1="405" x2="314.65" y2="497.1" stroke="#f6f6f6" stroke-width="0.3"/><line x1="225.58" y1="494.33" x2="324.38" y2="494.33" stroke="#f6f6f6" stroke-width="0.3"/><line x1="225.58" y1="484" x2="324.38" y2="484" stroke="#eeeeee" stroke-width="0.5"/><line x1="225.58" y1="473.67" x2="324.38" y2="473.67" stroke="#f6f6f6" stroke-width="0.3"/><line x1="225.58" y1="463.33" x2="324.38" y2="463.33" stroke="#eeeeee" stroke-width="0.5"/><line x1="225.58" y1="453" x2="324.38" y2="453" stroke="#f6f6f6" stroke-width="0.3"/><line x1="225.58" y1="442.66" x2="324.38" y2="442.66" stroke="#eeeeee" stroke-width="0.5"/><line x1="225.58" y1="432.32" x2="324.38" y2="432.32" stroke="#f6f6f6" stroke-width="0.3"/><line x1="225.58" y1="421.99" x2="324.38" y2="421.99" stroke="#eeeeee" stroke-width="0.5"/><line x1="225.58" y1="411.65" x2="324.38" y2="411.65" stroke="#f6f6f6" stroke-width="0.3"/></g>
<g><line x1="337.1" y1="405" x2="337.1" y2="497.1" stroke="#f6f6f6" stroke-width="0.3"/><line x1="347.5" y1="405" x2="347.5" y2="497.1" stroke="#eeeeee" stroke-width="0.5"/><line x1="357.9" y1="405" x2="357.9" y2="497.1" stroke="#f6f6f6" stroke-width="0.3"/><line x1="368.3" y1="405" x2="368.3" y2="497.1" stroke="#eeeeee" stroke-width="0.5"/><line x1="378.7" y1="405" x2="378.7" y2="497.1" stroke="#f6f6f6" stroke-width="0.3"/><line x1="389.1" y1="405" x2="389.1" y2="497.1" stroke="#eeeeee" stroke-width="0.5"/><line x1="399.5" y1="405" x2="399.5" y2="497.1" stroke="#f6f6f6" stroke-width="0.3"/><line x1="409.9" y1="405" x2="409.9" y2="497.1" stroke="#eeeeee" stroke-width="0.5"/><line x1="420.3" y1="405" x2="420.3" y2="497.1" stroke="#f6f6f6" stroke-width="0.3"/><line x1="328.02" y1="494.33" x2="426.82" y2="494.33" stroke="#f6f6f6" stroke-width="0.3"/><line x1="328.02" y1="484" x2="426.82" y2="484" stroke="#eeeeee" stroke-width="0.5"/><line x1="328.02" y1="473.67" x2="426.82" y2="473.67" stroke="#f6f6f6" stroke-width="0.3"/><line x1="328.02" y1="463.33" x2="426.82" y2="463.33" stroke="#eeeeee" stroke-width="0.5"/><line x1="328.02" y1="453" x2="426.82" y2="453" stroke="#f6f6f6" stroke-width="0.3"/><line x1="328.02" y1="442.66" x2="426.82" y2="442.66" stroke="#eeeeee" stroke-width="0.5"/><line x1="328.02" y1="432.32" x2="426.82" y2="432.32" stroke="#f6f6f6" stroke-width="0.3"/><line x1="328.02" y1="421.99" x2="426.82" y2="421.99" stroke="#eeeeee" stroke-width="0.5"/><line x1="328.02" y1="411.65" x2="426.82" y2="411.65" stroke="#f6f6f6" stroke-width="0.3"/></g>
<g><line x1="433.3" y1="405" x2="433.3" y2="497.1" stroke="#f6f6f6" stroke-width="0.3"/><line x1="444.4" y1="405" x2="444.4" y2="497.1" stroke="#eeeeee" stroke-width="0.5"/><line x1="455.5" y1="405" x2="455.5" y2="497.1" stroke="#f6f6f6" stroke-width="0.3"/><line x1="466.6" y1="405" x2="466.6" y2="497.1" stroke="#eeeeee" stroke-width="0.5"/><line x1="477.7" y1="405" x2="477.7" y2="497.1" stroke="#f6f6f6" stroke-width="0.3"/><line x1="488.8" y1="405" x2="488.8" y2="497.1" stroke="#eeeeee" stroke-width="0.5"/><line x1="499.9" y1="405" x2="499.9" y2="497.1" stroke="#f6f6f6" stroke-width="0.3"/><line x1="511" y1="405" x2="511" y2="497.1" stroke="#eeeeee" stroke-width="0.5"/><line x1="522.1" y1="405" x2="522.1" y2="497.1" stroke="#f6f6f6" stroke-width="0.3"/><line x1="430.46" y1="494.33" x2="529.26" y2="494.33" stroke="#f6f6f6" stroke-width="0.3"/><line x1="430.46" y1="484" x2="529.26" y2="484" stroke="#eeeeee" stroke-width="0.5"/><line x1="430.46" y1="473.67" x2="529.26" y2="473.67" stroke="#f6f6f6" stroke-width="0.3"/><line x1="430.46" y1="463.33" x2="529.26" y2="463.33" stroke="#eeeeee" stroke-width="0.5"/><line x1="430.46" y1="453" x2="529.26" y2="453" stroke="#f6f6f6" stroke-width="0.3"/><line x1="430.46" y1="442.66" x2="529.26" y2="442.66" stroke="#eeeeee" stroke-width="0.5"/><line x1="430.46" y1="432.32" x2="529.26" y2="432.32" stroke="#f6f6f6" stroke-width="0.3"/><line x1="430.46" y1="421.99" x2="529.26" y2="421.99" stroke="#eeeeee" stroke-width="0.5"/><line x1="430.46" y1="411.65" x2="529.26" y2="411.65" stroke="#f6f6f6" stroke-width="0.3"/></g>
<g>
<path d="M25,50C25.17,48.33 25.63,43.47 26,40C26.37,36.53 26.83,31.47 27.2,29.2C27.57,26.93 27.83,26.33 28.2,26.4C28.57,26.47 28.97,27.17 29.4,29.6C29.83,32.03 30.37,37.6 30.8,41C31.23,44.4 31.37,46.67 32,50C32.63,53.33 33.57,56.73 34.6,61C35.63,65.27 36.97,71.67 38.2,75.6C39.43,79.53 40.77,81.73 42,84.6C43.23,87.47 44.4,90.43 45.6,92.8C46.8,95.17 48.13,97.37 49.2,98.8C50.27,100.23 51.03,100.6 52,101.4C52.97,102.2 54.1,102.83 55,103.6C55.9,104.37 56.53,105.27 57.4,106C58.27,106.73 59.1,107.57 60.2,108C61.3,108.43 62.7,108.6 64,108.6C65.3,108.6 66.67,107.93 68,108C69.33,108.07 70.5,109 72,109C73.5,109 75.33,107.93 77,108C78.67,108.07 80.33,109.1 82,109.4C83.67,109.7 85.33,109.8 87,109.8C88.67,109.8 90.33,109.67 92,109.4C93.67,109.13 95.67,108.4 97,108.2C98.33,108 98.83,107.97 100,108.2C101.17,108.43 102.67,109.33 104,109.6C105.33,109.87 106.67,109.93 108,109.8C109.33,109.67 110.73,109.1 112,108.8C113.27,108.5 115,108.13 115.6,108L115.6,110.4L25,110.4Z" fill="#1C9FE8"/><path d="M25,50C25.17,48.33 25.63,43.47 26,40C26.37,36.53 26.83,31.47 27.2,29.2C27.57,26.93 27.83,26.33 28.2,26.4C28.57,26.47 28.97,27.17 29.4,29.6C29.83,32.03 30.37,37.6 30.8,41C31.23,44.4 31.37,46.67 32,50C32.63,53.33 33.57,56.73 34.6,61C35.63,65.27 36.97,71.67 38.2,75.6C39.43,79.53 40.77,81.73 42,84.6C43.23,87.47 44.4,90.43 45.6,92.8C46.8,95.17 48.13,97.37 49.2,98.8C50.27,100.23 51.03,100.6 52,101.4C52.97,102.2 54.1,102.83 55,103.6C55.9,104.37 56.53,105.27 57.4,106C58.27,106.73 59.1,107.57 60.2,108C61.3,108.43 62.7,108.6 64,108.6C65.3,108.6 66.67,107.93 68,108C69.33,108.07 70.5,109 72,109C73.5,109 75.33,107.93 77,108C78.67,108.07 80.33,109.1 82,109.4C83.67,109.7 85.33,109.8 87,109.8C88.67,109.8 90.33,109.67 92,109.4C93.67,109.13 95.67,108.4 97,108.2C98.33,108 98.83,107.97 100,108.2C101.17,108.43 102.67,109.33 104,109.6C105.33,109.87 106.67,109.93 108,109.8C109.33,109.67 110.73,109.1 112,108.8C113.27,108.5 115,108.13 115.6,108" fill="none" stroke="#141414" stroke-width="0.9" stroke-linejoin="round"/>
<path d="M25,52C25.17,50.4 25.63,45.73 26,42.4C26.37,39.07 26.83,34.27 27.2,32C27.57,29.73 27.83,28.73 28.2,28.8C28.57,28.87 29,30.4 29.4,32.4C29.8,34.4 30.2,38 30.6,40.8C31,43.6 31.13,45.97 31.8,49.2C32.47,52.43 33.53,55.93 34.6,60.2C35.67,64.47 36.97,70.83 38.2,74.8C39.43,78.77 40.77,81.1 42,84C43.23,86.9 44.43,89.93 45.6,92.2C46.77,94.47 47.97,97.13 49,97.6C50.03,98.07 51.07,95.7 51.8,95C52.53,94.3 52.87,93.23 53.4,93.4C53.93,93.57 54.47,94.77 55,96C55.53,97.23 56.1,99.4 56.6,100.8C57.1,102.2 57.37,103.27 58,104.4C58.63,105.53 59.4,106.9 60.4,107.6C61.4,108.3 62.73,108.53 64,108.6C65.27,108.67 66.67,107.93 68,108C69.33,108.07 70.5,109 72,109C73.5,109 75.33,107.93 77,108C78.67,108.07 80.33,109.1 82,109.4C83.67,109.7 85.33,109.8 87,109.8C88.67,109.8 90.33,109.67 92,109.4C93.67,109.13 95.67,108.4 97,108.2C98.33,108 98.83,107.97 100,108.2C101.17,108.43 102.67,109.33 104,109.6C105.33,109.87 106.67,109.93 108,109.8C109.33,109.67 110.73,109.1 112,108.8C113.27,108.5 115,108.13 115.6,108L115.6,110.4L25,110.4Z" fill="#A8A400"/><path d="M25,52C25.17,50.4 25.63,45.73 26,42.4C26.37,39.07 26.83,34.27 27.2,32C27.57,29.73 27.83,28.73 28.2,28.8C28.57,28.87 29,30.4 29.4,32.4C29.8,34.4 30.2,38 30.6,40.8C31,43.6 31.13,45.97 31.8,49.2C32.47,52.43 33.53,55.93 34.6,60.2C35.67,64.47 36.97,70.83 38.2,74.8C39.43,78.77 40.77,81.1 42,84C43.23,86.9 44.43,89.93 45.6,92.2C46.77,94.47 47.97,97.13 49,97.6C50.03,98.07 51.07,95.7 51.8,95C52.53,94.3 52.87,93.23 53.4,93.4C53.93,93.57 54.47,94.77 55,96C55.53,97.23 56.1,99.4 56.6,100.8C57.1,102.2 57.37,103.27 58,104.4C58.63,105.53 59.4,106.9 60.4,107.6C61.4,108.3 62.73,108.53 64,108.6C65.27,108.67 66.67,107.93 68,108C69.33,108.07 70.5,109 72,109C73.5,109 75.33,107.93 77,108C78.67,108.07 80.33,109.1 82,109.4C83.67,109.7 85.33,109.8 87,109.8C88.67,109.8 90.33,109.67 92,109.4C93.67,109.13 95.67,108.4 97,108.2C98.33,108 98.83,107.97 100,108.2C101.17,108.43 102.67,109.33 104,109.6C105.33,109.87 106.67,109.93 108,109.8C109.33,109.67 110.73,109.1 112,108.8C113.27,108.5 115,108.13 115.6,108" fill="none" stroke="#141414" stroke-width="0.9" stroke-linejoin="round"/>
<path d="M25,51.6C25.17,50.07 25.63,45.6 26,42.4C26.37,39.2 26.83,34.53 27.2,32.4C27.57,30.27 27.83,29.47 28.2,29.6C28.57,29.73 29,31.3 29.4,33.2C29.8,35.1 30.2,38.3 30.6,41C31,43.7 31.13,46.17 31.8,49.4C32.47,52.63 33.53,56.13 34.6,60.4C35.67,64.67 36.97,71.03 38.2,75C39.43,78.97 40.77,81.37 42,84.2C43.23,87.03 44.4,89.8 45.6,92C46.8,94.2 48.13,96.13 49.2,97.4C50.27,98.67 51.03,98.83 52,99.6C52.97,100.37 54.1,101.1 55,102C55.9,102.9 56.53,104.07 57.4,105C58.27,105.93 59.1,107.07 60.2,107.6C61.3,108.13 62.7,108.2 64,108.2C65.3,108.2 66.67,107.5 68,107.6C69.33,107.7 70.5,108.8 72,108.8C73.5,108.8 75.33,107.53 77,107.6C78.67,107.67 80.33,108.83 82,109.2C83.67,109.57 85.33,109.8 87,109.8C88.67,109.8 90.33,109.53 92,109.2C93.67,108.87 95.67,108.03 97,107.8C98.33,107.57 98.83,107.53 100,107.8C101.17,108.07 102.67,109.1 104,109.4C105.33,109.7 106.67,109.77 108,109.6C109.33,109.43 110.73,108.77 112,108.4C113.27,108.03 115,107.57 115.6,107.4L115.6,110.4L25,110.4Z" fill="#F364F0"/><path d="M25,51.6C25.17,50.07 25.63,45.6 26,42.4C26.37,39.2 26.83,34.53 27.2,32.4C27.57,30.27 27.83,29.47 28.2,29.6C28.57,29.73 29,31.3 29.4,33.2C29.8,35.1 30.2,38.3 30.6,41C31,43.7 31.13,46.17 31.8,49.4C32.47,52.63 33.53,56.13 34.6,60.4C35.67,64.67 36.97,71.03 38.2,75C39.43,78.97 40.77,81.37 42,84.2C43.23,87.03 44.4,89.8 45.6,92C46.8,94.2 48.13,96.13 49.2,97.4C50.27,98.67 51.03,98.83 52,99.6C52.97,100.37 54.1,101.1 55,102C55.9,102.9 56.53,104.07 57.4,105C58.27,105.93 59.1,107.07 60.2,107.6C61.3,108.13 62.7,108.2 64,108.2C65.3,108.2 66.67,107.5 68,107.6C69.33,107.7 70.5,108.8 72,108.8C73.5,108.8 75.33,107.53 77,107.6C78.67,107.67 80.33,108.83 82,109.2C83.67,109.57 85.33,109.8 87,109.8C88.67,109.8 90.33,109.53 92,109.2C93.67,108.87 95.67,108.03 97,107.8C98.33,107.57 98.83,107.53 100,107.8C101.17,108.07 102.67,109.1 104,109.4C105.33,109.7 106.67,109.77 108,109.6C109.33,109.43 110.73,108.77 112,108.4C113.27,108.03 115,107.57 115.6,107.4" fill="none" stroke="#141414" stroke-width="0.9" stroke-linejoin="round"/>
<path d="M25,53C25.17,51.43 25.63,46.63 26,43.6C26.37,40.57 26.83,36.73 27.2,34.8C27.57,32.87 27.83,31.8 28.2,32C28.57,32.2 28.93,33.7 29.4,36C29.87,38.3 30.43,42.03 31,45.8C31.57,49.57 32.17,54.33 32.8,58.6C33.43,62.87 34.1,67.43 34.8,71.4C35.5,75.37 36.2,79.5 37,82.4C37.8,85.3 38.7,87.07 39.6,88.8C40.5,90.53 41.6,91.6 42.4,92.8C43.2,94 43.73,94.87 44.4,96C45.07,97.13 45.57,98.53 46.4,99.6C47.23,100.67 48.23,101.63 49.4,102.4C50.57,103.17 52.2,103.6 53.4,104.2C54.6,104.8 55.6,105.37 56.6,106C57.6,106.63 58.17,107.57 59.4,108C60.63,108.43 62.57,108.6 64,108.6C65.43,108.6 66.67,107.93 68,108C69.33,108.07 70.5,109 72,109C73.5,109 75.33,107.93 77,108C78.67,108.07 80.33,109.1 82,109.4C83.67,109.7 85.33,109.8 87,109.8C88.67,109.8 90.33,109.67 92,109.4C93.67,109.13 95.67,108.4 97,108.2C98.33,108 98.83,107.97 100,108.2C101.17,108.43 102.67,109.33 104,109.6C105.33,109.87 106.67,109.93 108,109.8C109.33,109.67 110.73,109.1 112,108.8C113.27,108.5 115,108.13 115.6,108L115.6,110.4L25,110.4Z" fill="#FB6A92"/><path d="M25,53C25.17,51.43 25.63,46.63 26,43.6C26.37,40.57 26.83,36.73 27.2,34.8C27.57,32.87 27.83,31.8 28.2,32C28.57,32.2 28.93,33.7 29.4,36C29.87,38.3 30.43,42.03 31,45.8C31.57,49.57 32.17,54.33 32.8,58.6C33.43,62.87 34.1,67.43 34.8,71.4C35.5,75.37 36.2,79.5 37,82.4C37.8,85.3 38.7,87.07 39.6,88.8C40.5,90.53 41.6,91.6 42.4,92.8C43.2,94 43.73,94.87 44.4,96C45.07,97.13 45.57,98.53 46.4,99.6C47.23,100.67 48.23,101.63 49.4,102.4C50.57,103.17 52.2,103.6 53.4,104.2C54.6,104.8 55.6,105.37 56.6,106C57.6,106.63 58.17,107.57 59.4,108C60.63,108.43 62.57,108.6 64,108.6C65.43,108.6 66.67,107.93 68,108C69.33,108.07 70.5,109 72,109C73.5,109 75.33,107.93 77,108C78.67,108.07 80.33,109.1 82,109.4C83.67,109.7 85.33,109.8 87,109.8C88.67,109.8 90.33,109.67 92,109.4C93.67,109.13 95.67,108.4 97,108.2C98.33,108 98.83,107.97 100,108.2C101.17,108.43 102.67,109.33 104,109.6C105.33,109.87 106.67,109.93 108,109.8C109.33,109.67 110.73,109.1 112,108.8C113.27,108.5 115,108.13 115.6,108" fill="none" stroke="#141414" stroke-width="1.0" stroke-linejoin="round"/>
<path d="M25,51.6C25.17,50 25.63,45.33 26,42C26.37,38.67 26.83,33.93 27.2,31.6C27.57,29.27 28.03,28.6 28.2,28" fill="none" stroke="#141414" stroke-width="1.3"/>
</g>
<g>
<path d="M127.4,200.2C128.1,198.8 129.97,195.33 131.6,191.8C133.23,188.27 135.43,182.8 137.2,179C138.97,175.2 140.5,172.07 142.2,169C143.9,165.93 145.67,163.4 147.4,160.6C149.13,157.8 150.67,154.7 152.6,152.2C154.53,149.7 157.27,146.73 159,145.6C160.73,144.47 161.33,144.97 163,145.4C164.67,145.83 167.5,147.53 169,148.2C170.5,148.87 170.83,149.6 172,149.4C173.17,149.2 174.67,148.17 176,147C177.33,145.83 178.67,143.9 180,142.4C181.33,140.9 182.83,138.63 184,138C185.17,137.37 186.17,137.77 187,138.6C187.83,139.43 188.1,140.53 189,143C189.9,145.47 191.3,150 192.4,153.4C193.5,156.8 194.57,160.07 195.6,163.4C196.63,166.73 197.43,170.07 198.6,173.4C199.77,176.73 201.27,180.3 202.6,183.4C203.93,186.5 205.27,189.73 206.6,192C207.93,194.27 209.37,195.67 210.6,197C211.83,198.33 212.87,199.17 214,200C215.13,200.83 216.83,201.67 217.4,202L217.4,206L127.4,206Z" fill="#6F83F5"/><path d="M127.4,200.2C128.1,198.8 129.97,195.33 131.6,191.8C133.23,188.27 135.43,182.8 137.2,179C138.97,175.2 140.5,172.07 142.2,169C143.9,165.93 145.67,163.4 147.4,160.6C149.13,157.8 150.67,154.7 152.6,152.2C154.53,149.7 157.27,146.73 159,145.6C160.73,144.47 161.33,144.97 163,145.4C164.67,145.83 167.5,147.53 169,148.2C170.5,148.87 170.83,149.6 172,149.4C173.17,149.2 174.67,148.17 176,147C177.33,145.83 178.67,143.9 180,142.4C181.33,140.9 182.83,138.63 184,138C185.17,137.37 186.17,137.77 187,138.6C187.83,139.43 188.1,140.53 189,143C189.9,145.47 191.3,150 192.4,153.4C193.5,156.8 194.57,160.07 195.6,163.4C196.63,166.73 197.43,170.07 198.6,173.4C199.77,176.73 201.27,180.3 202.6,183.4C203.93,186.5 205.27,189.73 206.6,192C207.93,194.27 209.37,195.67 210.6,197C211.83,198.33 212.87,199.17 214,200C215.13,200.83 216.83,201.67 217.4,202" fill="none" stroke="#141414" stroke-width="0.9" stroke-linejoin="round"/>
<path d="M127.4,201.4C128.17,200.4 130.23,198.4 132,195.4C133.77,192.4 136,187.4 138,183.4C140,179.4 142,175.57 144,171.4C146,167.23 148.17,161.9 150,158.4C151.83,154.9 153.33,152.4 155,150.4C156.67,148.4 158.5,147.03 160,146.4C161.5,145.77 162.5,146.1 164,146.6C165.5,147.1 167.67,148.93 169,149.4C170.33,149.87 170.67,151.8 172,149.4C173.33,147 175.5,139 177,135C178.5,131 179.83,127.47 181,125.4C182.17,123.33 183,122.6 184,122.6C185,122.6 186,123.6 187,125.4C188,127.2 189,129.73 190,133.4C191,137.07 192,142.73 193,147.4C194,152.07 194.83,156.73 196,161.4C197.17,166.07 198.67,171.13 200,175.4C201.33,179.67 202.77,184 204,187C205.23,190 206.23,191.67 207.4,193.4C208.57,195.13 209.9,196.3 211,197.4C212.1,198.5 212.93,199.23 214,200C215.07,200.77 216.83,201.67 217.4,202L217.4,206L127.4,206Z" fill="#F364F0"/><path d="M127.4,201.4C128.17,200.4 130.23,198.4 132,195.4C133.77,192.4 136,187.4 138,183.4C140,179.4 142,175.57 144,171.4C146,167.23 148.17,161.9 150,158.4C151.83,154.9 153.33,152.4 155,150.4C156.67,148.4 158.5,147.03 160,146.4C161.5,145.77 162.5,146.1 164,146.6C165.5,147.1 167.67,148.93 169,149.4C170.33,149.87 170.67,151.8 172,149.4C173.33,147 175.5,139 177,135C178.5,131 179.83,127.47 181,125.4C182.17,123.33 183,122.6 184,122.6C185,122.6 186,123.6 187,125.4C188,127.2 189,129.73 190,133.4C191,137.07 192,142.73 193,147.4C194,152.07 194.83,156.73 196,161.4C197.17,166.07 198.67,171.13 200,175.4C201.33,179.67 202.77,184 204,187C205.23,190 206.23,191.67 207.4,193.4C208.57,195.13 209.9,196.3 211,197.4C212.1,198.5 212.93,199.23 214,200C215.07,200.77 216.83,201.67 217.4,202" fill="none" stroke="#141414" stroke-width="0.9" stroke-linejoin="round"/>
<path d="M127.4,201.4C128.17,200.4 130.23,198.4 132,195.4C133.77,192.4 136,187.4 138,183.4C140,179.4 142,175.57 144,171.4C146,167.23 148.17,161.9 150,158.4C151.83,154.9 153.33,152.4 155,150.4C156.67,148.4 158.5,147.03 160,146.4C161.5,145.77 162.5,146.1 164,146.6C165.5,147.1 167.67,148.87 169,149.4C170.33,149.93 170.83,150.33 172,149.8C173.17,149.27 174.67,147.6 176,146.2C177.33,144.8 178.87,142.7 180,141.4C181.13,140.1 182,139.03 182.8,138.4C183.6,137.77 184.1,137.53 184.8,137.6C185.5,137.67 186.27,137.9 187,138.8C187.73,139.7 188.33,140.63 189.2,143C190.07,145.37 191.2,149.67 192.2,153C193.2,156.33 194.17,159.6 195.2,163C196.23,166.4 197.2,170 198.4,173.4C199.6,176.8 201.07,180.3 202.4,183.4C203.73,186.5 205.1,189.73 206.4,192C207.7,194.27 208.93,195.67 210.2,197C211.47,198.33 212.8,199.17 214,200C215.2,200.83 216.83,201.67 217.4,202L217.4,206L127.4,206Z" fill="#FF63B0"/><path d="M127.4,201.4C128.17,200.4 130.23,198.4 132,195.4C133.77,192.4 136,187.4 138,183.4C140,179.4 142,175.57 144,171.4C146,167.23 148.17,161.9 150,158.4C151.83,154.9 153.33,152.4 155,150.4C156.67,148.4 158.5,147.03 160,146.4C161.5,145.77 162.5,146.1 164,146.6C165.5,147.1 167.67,148.87 169,149.4C170.33,149.93 170.83,150.33 172,149.8C173.17,149.27 174.67,147.6 176,146.2C177.33,144.8 178.87,142.7 180,141.4C181.13,140.1 182,139.03 182.8,138.4C183.6,137.77 184.1,137.53 184.8,137.6C185.5,137.67 186.27,137.9 187,138.8C187.73,139.7 188.33,140.63 189.2,143C190.07,145.37 191.2,149.67 192.2,153C193.2,156.33 194.17,159.6 195.2,163C196.23,166.4 197.2,170 198.4,173.4C199.6,176.8 201.07,180.3 202.4,183.4C203.73,186.5 205.1,189.73 206.4,192C207.7,194.27 208.93,195.67 210.2,197C211.47,198.33 212.8,199.17 214,200C215.2,200.83 216.83,201.67 217.4,202" fill="none" stroke="#141414" stroke-width="0.9" stroke-linejoin="round"/>
<path d="M127.4,201.4C128.17,200.4 130.23,198.4 132,195.4C133.77,192.4 136,187.4 138,183.4C140,179.4 142,175.57 144,171.4C146,167.23 148.17,161.9 150,158.4C151.83,154.9 153.33,152.4 155,150.4C156.67,148.4 158.5,147.03 160,146.4C161.5,145.77 162.5,146.1 164,146.6C165.5,147.1 167.67,148.83 169,149.4C170.33,149.97 170.83,150.4 172,150C173.17,149.6 174.67,148.23 176,147C177.33,145.77 178.87,143.8 180,142.6C181.13,141.4 182,140.37 182.8,139.8C183.6,139.23 184.13,139.1 184.8,139.2C185.47,139.3 186.13,139.57 186.8,140.4C187.47,141.23 188,142.03 188.8,144.2C189.6,146.37 190.63,150.2 191.6,153.4C192.57,156.6 193.6,160.07 194.6,163.4C195.6,166.73 196.43,170.07 197.6,173.4C198.77,176.73 200.27,180.3 201.6,183.4C202.93,186.5 204.27,189.73 205.6,192C206.93,194.27 208.2,195.67 209.6,197C211,198.33 212.7,199.17 214,200C215.3,200.83 216.83,201.67 217.4,202L217.4,206L127.4,206Z" fill="#FB6A92"/><path d="M127.4,201.4C128.17,200.4 130.23,198.4 132,195.4C133.77,192.4 136,187.4 138,183.4C140,179.4 142,175.57 144,171.4C146,167.23 148.17,161.9 150,158.4C151.83,154.9 153.33,152.4 155,150.4C156.67,148.4 158.5,147.03 160,146.4C161.5,145.77 162.5,146.1 164,146.6C165.5,147.1 167.67,148.83 169,149.4C170.33,149.97 170.83,150.4 172,150C173.17,149.6 174.67,148.23 176,147C177.33,145.77 178.87,143.8 180,142.6C181.13,141.4 182,140.37 182.8,139.8C183.6,139.23 184.13,139.1 184.8,139.2C185.47,139.3 186.13,139.57 186.8,140.4C187.47,141.23 188,142.03 188.8,144.2C189.6,146.37 190.63,150.2 191.6,153.4C192.57,156.6 193.6,160.07 194.6,163.4C195.6,166.73 196.43,170.07 197.6,173.4C198.77,176.73 200.27,180.3 201.6,183.4C202.93,186.5 204.27,189.73 205.6,192C206.93,194.27 208.2,195.67 209.6,197C211,198.33 212.7,199.17 214,200C215.3,200.83 216.83,201.67 217.4,202" fill="none" stroke="#141414" stroke-width="1.0" stroke-linejoin="round"/>
</g>
<g>
<path d="M229.4,292.6C230.17,291.6 232.23,289.43 234,286.6C235.77,283.77 238,279.6 240,275.6C242,271.6 244,267.03 246,262.6C248,258.17 250.17,252.77 252,249C253.83,245.23 255.67,243.1 257,240C258.33,236.9 259,233.5 260,230.4C261,227.3 262,223.47 263,221.4C264,219.33 265,218 266,218C267,218 267.83,219 269,221.4C270.17,223.8 271.67,228.97 273,232.4C274.33,235.83 275.83,239.23 277,242C278.17,244.77 278.5,246 280,249C281.5,252 284,256 286,260C288,264 290,268.9 292,273C294,277.1 296,281.67 298,284.6C300,287.53 302,289.13 304,290.6C306,292.07 308,292.63 310,293.4C312,294.17 314.4,294.63 316,295.2C317.6,295.77 319,296.53 319.6,296.8L319.6,301L229.4,301Z" fill="#F364F0"/><path d="M229.4,292.6C230.17,291.6 232.23,289.43 234,286.6C235.77,283.77 238,279.6 240,275.6C242,271.6 244,267.03 246,262.6C248,258.17 250.17,252.77 252,249C253.83,245.23 255.67,243.1 257,240C258.33,236.9 259,233.5 260,230.4C261,227.3 262,223.47 263,221.4C264,219.33 265,218 266,218C267,218 267.83,219 269,221.4C270.17,223.8 271.67,228.97 273,232.4C274.33,235.83 275.83,239.23 277,242C278.17,244.77 278.5,246 280,249C281.5,252 284,256 286,260C288,264 290,268.9 292,273C294,277.1 296,281.67 298,284.6C300,287.53 302,289.13 304,290.6C306,292.07 308,292.63 310,293.4C312,294.17 314.4,294.63 316,295.2C317.6,295.77 319,296.53 319.6,296.8" fill="none" stroke="#141414" stroke-width="0.9" stroke-linejoin="round"/>
<path d="M229.4,293C230.17,292 232.23,289.83 234,287C235.77,284.17 238,280 240,276C242,272 244,267.43 246,263C248,258.57 250.17,253.17 252,249.4C253.83,245.63 255.33,242.57 257,240.4C258.67,238.23 260.67,237.17 262,236.4C263.33,235.63 263.83,235.63 265,235.8C266.17,235.97 267.5,236.3 269,237.4C270.5,238.5 272.17,240.4 274,242.4C275.83,244.4 278,246.4 280,249.4C282,252.4 284,256.4 286,260.4C288,264.4 290,269.3 292,273.4C294,277.5 296,282.07 298,285C300,287.93 302,289.57 304,291C306,292.43 308,292.87 310,293.6C312,294.33 314.4,294.83 316,295.4C317.6,295.97 319,296.73 319.6,297L319.6,301L229.4,301Z" fill="#FB6A92"/><path d="M229.4,293C230.17,292 232.23,289.83 234,287C235.77,284.17 238,280 240,276C242,272 244,267.43 246,263C248,258.57 250.17,253.17 252,249.4C253.83,245.63 255.33,242.57 257,240.4C258.67,238.23 260.67,237.17 262,236.4C263.33,235.63 263.83,235.63 265,235.8C266.17,235.97 267.5,236.3 269,237.4C270.5,238.5 272.17,240.4 274,242.4C275.83,244.4 278,246.4 280,249.4C282,252.4 284,256.4 286,260.4C288,264.4 290,269.3 292,273.4C294,277.5 296,282.07 298,285C300,287.93 302,289.57 304,291C306,292.43 308,292.87 310,293.6C312,294.33 314.4,294.83 316,295.4C317.6,295.97 319,296.73 319.6,297" fill="none" stroke="#141414" stroke-width="1.35" stroke-linejoin="round"/>
</g>
<g>
<path d="M332.4,394C333.5,393.5 336.9,392.5 339,391C341.1,389.5 343.17,387.5 345,385C346.83,382.5 348.33,379.6 350,376C351.67,372.4 353.17,367.83 355,363.4C356.83,358.97 359,353.57 361,349.4C363,345.23 365,342.23 367,338.4C369,334.57 371.33,329.33 373,326.4C374.67,323.47 375.67,322 377,320.8C378.33,319.6 379.67,319.4 381,319.2C382.33,319 383.67,319.47 385,319.6C386.33,319.73 387.67,319.2 389,320C390.33,320.8 391.67,322.4 393,324.4C394.33,326.4 395.6,328.73 397,332C398.4,335.27 399.97,339.67 401.4,344C402.83,348.33 404.23,353.4 405.6,358C406.97,362.6 408.27,367.87 409.6,371.6C410.93,375.33 412.2,378.23 413.6,380.4C415,382.57 416.53,383.5 418,384.6C419.47,385.7 421.67,386.6 422.4,387L422.4,398L332.4,398Z" fill="#1A7FA0"/><path d="M332.4,394C333.5,393.5 336.9,392.5 339,391C341.1,389.5 343.17,387.5 345,385C346.83,382.5 348.33,379.6 350,376C351.67,372.4 353.17,367.83 355,363.4C356.83,358.97 359,353.57 361,349.4C363,345.23 365,342.23 367,338.4C369,334.57 371.33,329.33 373,326.4C374.67,323.47 375.67,322 377,320.8C378.33,319.6 379.67,319.4 381,319.2C382.33,319 383.67,319.47 385,319.6C386.33,319.73 387.67,319.2 389,320C390.33,320.8 391.67,322.4 393,324.4C394.33,326.4 395.6,328.73 397,332C398.4,335.27 399.97,339.67 401.4,344C402.83,348.33 404.23,353.4 405.6,358C406.97,362.6 408.27,367.87 409.6,371.6C410.93,375.33 412.2,378.23 413.6,380.4C415,382.57 416.53,383.5 418,384.6C419.47,385.7 421.67,386.6 422.4,387" fill="none" stroke="#141414" stroke-width="0.9" stroke-linejoin="round"/>
<path d="M332.4,393.6C333.5,393.03 336.9,391.93 339,390.2C341.1,388.47 343.33,385.97 345,383.2C346.67,380.43 347.6,377.53 349,373.6C350.4,369.67 351.8,363.93 353.4,359.6C355,355.27 356.73,351.43 358.6,347.6C360.47,343.77 362.37,340.2 364.6,336.6C366.83,333 369.93,328.63 372,326C374.07,323.37 375.5,321.93 377,320.8C378.5,319.67 379.67,319.27 381,319.2C382.33,319.13 383.67,319.87 385,320.4C386.33,320.93 387.67,321.57 389,322.4C390.33,323.23 391.6,323.73 393,325.4C394.4,327.07 395.97,329.23 397.4,332.4C398.83,335.57 400.23,340.07 401.6,344.4C402.97,348.73 404.27,353.73 405.6,358.4C406.93,363.07 408.27,368.47 409.6,372.4C410.93,376.33 412.27,379.57 413.6,382C414.93,384.43 416.13,385.73 417.6,387C419.07,388.27 421.6,389.17 422.4,389.6L422.4,398L332.4,398Z" fill="#F364F0"/><path d="M332.4,393.6C333.5,393.03 336.9,391.93 339,390.2C341.1,388.47 343.33,385.97 345,383.2C346.67,380.43 347.6,377.53 349,373.6C350.4,369.67 351.8,363.93 353.4,359.6C355,355.27 356.73,351.43 358.6,347.6C360.47,343.77 362.37,340.2 364.6,336.6C366.83,333 369.93,328.63 372,326C374.07,323.37 375.5,321.93 377,320.8C378.5,319.67 379.67,319.27 381,319.2C382.33,319.13 383.67,319.87 385,320.4C386.33,320.93 387.67,321.57 389,322.4C390.33,323.23 391.6,323.73 393,325.4C394.4,327.07 395.97,329.23 397.4,332.4C398.83,335.57 400.23,340.07 401.6,344.4C402.97,348.73 404.27,353.73 405.6,358.4C406.93,363.07 408.27,368.47 409.6,372.4C410.93,376.33 412.27,379.57 413.6,382C414.93,384.43 416.13,385.73 417.6,387C419.07,388.27 421.6,389.17 422.4,389.6" fill="none" stroke="#141414" stroke-width="0.9" stroke-linejoin="round"/>
<path d="M332.4,394C333.5,393.5 336.9,392.5 339,391C341.1,389.5 343.17,387.5 345,385C346.83,382.5 348.33,379.6 350,376C351.67,372.4 353.17,367.83 355,363.4C356.83,358.97 359,353.57 361,349.4C363,345.23 365,342.23 367,338.4C369,334.57 371.5,329.33 373,326.4C374.5,323.47 375,322.67 376,320.8C377,318.93 378.1,316.4 379,315.2C379.9,314 380.57,313.47 381.4,313.6C382.23,313.73 383.07,314.87 384,316C384.93,317.13 386,319.27 387,320.4C388,321.53 389,321.97 390,322.8C391,323.63 391.83,323.8 393,325.4C394.17,327 395.67,329.23 397,332.4C398.33,335.57 399.67,340.07 401,344.4C402.33,348.73 403.67,353.73 405,358.4C406.33,363.07 407.67,368.47 409,372.4C410.33,376.33 411.67,379.57 413,382C414.33,384.43 415.43,385.67 417,387C418.57,388.33 421.5,389.5 422.4,390L422.4,398L332.4,398Z" fill="#FA68A6"/><path d="M332.4,394C333.5,393.5 336.9,392.5 339,391C341.1,389.5 343.17,387.5 345,385C346.83,382.5 348.33,379.6 350,376C351.67,372.4 353.17,367.83 355,363.4C356.83,358.97 359,353.57 361,349.4C363,345.23 365,342.23 367,338.4C369,334.57 371.5,329.33 373,326.4C374.5,323.47 375,322.67 376,320.8C377,318.93 378.1,316.4 379,315.2C379.9,314 380.57,313.47 381.4,313.6C382.23,313.73 383.07,314.87 384,316C384.93,317.13 386,319.27 387,320.4C388,321.53 389,321.97 390,322.8C391,323.63 391.83,323.8 393,325.4C394.17,327 395.67,329.23 397,332.4C398.33,335.57 399.67,340.07 401,344.4C402.33,348.73 403.67,353.73 405,358.4C406.33,363.07 407.67,368.47 409,372.4C410.33,376.33 411.67,379.57 413,382C414.33,384.43 415.43,385.67 417,387C418.57,388.33 421.5,389.5 422.4,390" fill="none" stroke="#141414" stroke-width="0.6" stroke-linejoin="round"/>
<path d="M332.4,394C333.5,393.5 336.9,392.5 339,391C341.1,389.5 343.17,387.5 345,385C346.83,382.5 348.33,379.6 350,376C351.67,372.4 353.17,367.83 355,363.4C356.83,358.97 359,353.57 361,349.4C363,345.23 365,342.23 367,338.4C369,334.57 371.33,329.33 373,326.4C374.67,323.47 375.67,322 377,320.8C378.33,319.6 379.67,319.27 381,319.2C382.33,319.13 383.67,319.87 385,320.4C386.33,320.93 387.67,321.57 389,322.4C390.33,323.23 391.67,323.73 393,325.4C394.33,327.07 395.67,329.23 397,332.4C398.33,335.57 399.67,340.07 401,344.4C402.33,348.73 403.67,353.73 405,358.4C406.33,363.07 407.67,368.47 409,372.4C410.33,376.33 411.67,379.57 413,382C414.33,384.43 415.43,385.67 417,387C418.57,388.33 421.5,389.5 422.4,390L422.4,398L332.4,398Z" fill="#FB6A92"/><path d="M332.4,394C333.5,393.5 336.9,392.5 339,391C341.1,389.5 343.17,387.5 345,385C346.83,382.5 348.33,379.6 350,376C351.67,372.4 353.17,367.83 355,363.4C356.83,358.97 359,353.57 361,349.4C363,345.23 365,342.23 367,338.4C369,334.57 371.33,329.33 373,326.4C374.67,323.47 375.67,322 377,320.8C378.33,319.6 379.67,319.27 381,319.2C382.33,319.13 383.67,319.87 385,320.4C386.33,320.93 387.67,321.57 389,322.4C390.33,323.23 391.67,323.73 393,325.4C394.33,327.07 395.67,329.23 397,332.4C398.33,335.57 399.67,340.07 401,344.4C402.33,348.73 403.67,353.73 405,358.4C406.33,363.07 407.67,368.47 409,372.4C410.33,376.33 411.67,379.57 413,382C414.33,384.43 415.43,385.67 417,387C418.57,388.33 421.5,389.5 422.4,390" fill="none" stroke="#141414" stroke-width="1.1" stroke-linejoin="round"/>
</g>
<g>
<path d="M434.4,484.2C435.17,483.17 437.23,480.8 439,478C440.77,475.2 443.33,470.37 445,467.4C446.67,464.43 447.67,463 449,460.2C450.33,457.4 451.67,454.07 453,450.6C454.33,447.13 455.33,443.27 457,439.4C458.67,435.53 461,431.07 463,427.4C465,423.73 467.17,420.07 469,417.4C470.83,414.73 472.6,412.67 474,411.4C475.4,410.13 476.23,409.63 477.4,409.8C478.57,409.97 479.73,411.13 481,412.4C482.27,413.67 483.5,415.07 485,417.4C486.5,419.73 488.33,423.73 490,426.4C491.67,429.07 493.33,431.4 495,433.4C496.67,435.4 498.5,436.4 500,438.4C501.5,440.4 502.67,442.23 504,445.4C505.33,448.57 506.67,453.13 508,457.4C509.33,461.67 510.67,467.07 512,471C513.33,474.93 514.67,478.5 516,481C517.33,483.5 518.6,484.77 520,486C521.4,487.23 523.67,488 524.4,488.4L524.4,493L434.4,493Z" fill="#6F83F5"/><path d="M434.4,484.2C435.17,483.17 437.23,480.8 439,478C440.77,475.2 443.33,470.37 445,467.4C446.67,464.43 447.67,463 449,460.2C450.33,457.4 451.67,454.07 453,450.6C454.33,447.13 455.33,443.27 457,439.4C458.67,435.53 461,431.07 463,427.4C465,423.73 467.17,420.07 469,417.4C470.83,414.73 472.6,412.67 474,411.4C475.4,410.13 476.23,409.63 477.4,409.8C478.57,409.97 479.73,411.13 481,412.4C482.27,413.67 483.5,415.07 485,417.4C486.5,419.73 488.33,423.73 490,426.4C491.67,429.07 493.33,431.4 495,433.4C496.67,435.4 498.5,436.4 500,438.4C501.5,440.4 502.67,442.23 504,445.4C505.33,448.57 506.67,453.13 508,457.4C509.33,461.67 510.67,467.07 512,471C513.33,474.93 514.67,478.5 516,481C517.33,483.5 518.6,484.77 520,486C521.4,487.23 523.67,488 524.4,488.4" fill="none" stroke="#141414" stroke-width="0.9" stroke-linejoin="round"/>
<path d="M434.4,488.6C435.17,487.67 437.23,485.93 439,483C440.77,480.07 443,475.83 445,471C447,466.17 449,459.33 451,454C453,448.67 455,443.5 457,439C459,434.5 461,430.67 463,427C465,423.33 467.17,419.67 469,417C470.83,414.33 472.6,412.27 474,411C475.4,409.73 476.23,409.23 477.4,409.4C478.57,409.57 479.57,410.67 481,412C482.43,413.33 484.17,415.17 486,417.4C487.83,419.63 490.1,422.73 492,425.4C493.9,428.07 495.67,431.3 497.4,433.4C499.13,435.5 500.9,436.17 502.4,438C503.9,439.83 505.07,441.17 506.4,444.4C507.73,447.63 509.07,452.8 510.4,457.4C511.73,462 513.07,467.8 514.4,472C515.73,476.2 517.23,480.23 518.4,482.6C519.57,484.97 520.4,485.27 521.4,486.2C522.4,487.13 523.9,487.87 524.4,488.2L524.4,493L434.4,493Z" fill="#F364F0"/><path d="M434.4,488.6C435.17,487.67 437.23,485.93 439,483C440.77,480.07 443,475.83 445,471C447,466.17 449,459.33 451,454C453,448.67 455,443.5 457,439C459,434.5 461,430.67 463,427C465,423.33 467.17,419.67 469,417C470.83,414.33 472.6,412.27 474,411C475.4,409.73 476.23,409.23 477.4,409.4C478.57,409.57 479.57,410.67 481,412C482.43,413.33 484.17,415.17 486,417.4C487.83,419.63 490.1,422.73 492,425.4C493.9,428.07 495.67,431.3 497.4,433.4C499.13,435.5 500.9,436.17 502.4,438C503.9,439.83 505.07,441.17 506.4,444.4C507.73,447.63 509.07,452.8 510.4,457.4C511.73,462 513.07,467.8 514.4,472C515.73,476.2 517.23,480.23 518.4,482.6C519.57,484.97 520.4,485.27 521.4,486.2C522.4,487.13 523.9,487.87 524.4,488.2" fill="none" stroke="#141414" stroke-width="0.9" stroke-linejoin="round"/>
<path d="M434.4,488.6C435.17,487.67 437.23,485.9 439,483C440.77,480.1 443,476 445,471.2C447,466.4 449,459.53 451,454.2C453,448.87 455,443.7 457,439.2C459,434.7 461,430.87 463,427.2C465,423.53 467.17,419.87 469,417.2C470.83,414.53 472.6,412.47 474,411.2C475.4,409.93 476.23,409.43 477.4,409.6C478.57,409.77 479.7,410.9 481,412.2C482.3,413.5 483.67,415.07 485.2,417.4C486.73,419.73 488.53,423.57 490.2,426.2C491.87,428.83 493.53,431.2 495.2,433.2C496.87,435.2 498.67,436.2 500.2,438.2C501.73,440.2 503.03,442 504.4,445.2C505.77,448.4 507.07,453.07 508.4,457.4C509.73,461.73 511.07,467.23 512.4,471.2C513.73,475.17 515.1,478.73 516.4,481.2C517.7,483.67 518.87,484.8 520.2,486C521.53,487.2 523.7,488 524.4,488.4L524.4,493L434.4,493Z" fill="#FF63B0"/><path d="M434.4,488.6C435.17,487.67 437.23,485.9 439,483C440.77,480.1 443,476 445,471.2C447,466.4 449,459.53 451,454.2C453,448.87 455,443.7 457,439.2C459,434.7 461,430.87 463,427.2C465,423.53 467.17,419.87 469,417.2C470.83,414.53 472.6,412.47 474,411.2C475.4,409.93 476.23,409.43 477.4,409.6C478.57,409.77 479.7,410.9 481,412.2C482.3,413.5 483.67,415.07 485.2,417.4C486.73,419.73 488.53,423.57 490.2,426.2C491.87,428.83 493.53,431.2 495.2,433.2C496.87,435.2 498.67,436.2 500.2,438.2C501.73,440.2 503.03,442 504.4,445.2C505.77,448.4 507.07,453.07 508.4,457.4C509.73,461.73 511.07,467.23 512.4,471.2C513.73,475.17 515.1,478.73 516.4,481.2C517.7,483.67 518.87,484.8 520.2,486C521.53,487.2 523.7,488 524.4,488.4" fill="none" stroke="#141414" stroke-width="1.0" stroke-linejoin="round"/>
<path d="M434.4,491.8C434.77,491.33 435.77,490.33 436.6,489C437.43,487.67 438,486.67 439.4,483.8C440.8,480.93 443.07,476.67 445,471.8C446.93,466.93 449,460 451,454.6C453,449.2 455,443.93 457,439.4C459,434.87 461,431.07 463,427.4C465,423.73 467.17,420.07 469,417.4C470.83,414.73 472.6,412.67 474,411.4C475.4,410.13 476.23,409.63 477.4,409.8C478.57,409.97 479.73,411.1 481,412.4C482.27,413.7 483.57,415.23 485,417.6C486.43,419.97 488.03,423.9 489.6,426.6C491.17,429.3 492.8,431.77 494.4,433.8C496,435.83 497.73,436.8 499.2,438.8C500.67,440.8 501.87,442.63 503.2,445.8C504.53,448.97 505.87,453.53 507.2,457.8C508.53,462.07 509.87,467.5 511.2,471.4C512.53,475.3 513.83,478.73 515.2,481.2C516.57,483.67 517.87,484.97 519.4,486.2C520.93,487.43 523.57,488.2 524.4,488.6L524.4,493L434.4,493Z" fill="#FB6A92"/><path d="M434.4,491.8C434.77,491.33 435.77,490.33 436.6,489C437.43,487.67 438,486.67 439.4,483.8C440.8,480.93 443.07,476.67 445,471.8C446.93,466.93 449,460 451,454.6C453,449.2 455,443.93 457,439.4C459,434.87 461,431.07 463,427.4C465,423.73 467.17,420.07 469,417.4C470.83,414.73 472.6,412.67 474,411.4C475.4,410.13 476.23,409.63 477.4,409.8C478.57,409.97 479.73,411.1 481,412.4C482.27,413.7 483.57,415.23 485,417.6C486.43,419.97 488.03,423.9 489.6,426.6C491.17,429.3 492.8,431.77 494.4,433.8C496,435.83 497.73,436.8 499.2,438.8C500.67,440.8 501.87,442.63 503.2,445.8C504.53,448.97 505.87,453.53 507.2,457.8C508.53,462.07 509.87,467.5 511.2,471.4C512.53,475.3 513.83,478.73 515.2,481.2C516.57,483.67 517.87,484.97 519.4,486.2C520.93,487.43 523.57,488.2 524.4,488.6" fill="none" stroke="#141414" stroke-width="1.1" stroke-linejoin="round"/>
</g>
<g><g fill="#ABA300"><circle cx="53.7" cy="177.2" r="1.5"/><circle cx="53.7" cy="181.33" r="1.5"/><circle cx="53.7" cy="158.91" r="1.5"/><circle cx="31.6" cy="132.6" r="1.5"/><circle cx="53.6" cy="159" r="1.5"/><circle cx="53.6" cy="177" r="1.5"/><circle cx="53.6" cy="181" r="1.5"/></g><g fill="#3DB53A"><circle cx="43.66" cy="173.49" r="1.5"/><circle cx="43.6" cy="173.6" r="1.5"/></g><g fill="#00BE8A"><circle cx="28.48" cy="146.96" r="1.5"/><circle cx="34.64" cy="152.74" r="1.5"/><circle cx="33.13" cy="170.9" r="1.5"/><circle cx="31.7" cy="172.96" r="1.5"/><circle cx="30.08" cy="177.67" r="1.5"/><circle cx="24.82" cy="179.6" r="1.5"/><circle cx="30.09" cy="178.5" r="1.5"/><circle cx="28" cy="181.95" r="1.5"/><circle cx="28.17" cy="189.31" r="1.5"/><circle cx="29.22" cy="192.51" r="1.5"/><circle cx="25.23" cy="161.11" r="1.5"/><circle cx="30.73" cy="189.99" r="1.5"/><circle cx="37.88" cy="194.67" r="1.5"/><circle cx="78" cy="163.6" r="1.5"/><circle cx="30.6" cy="190" r="1.5"/></g><g fill="#00BBDA"><circle cx="43.38" cy="178.58" r="1.5"/><circle cx="53.7" cy="188.21" r="1.5"/><circle cx="44" cy="179" r="1.5"/><circle cx="54" cy="189.6" r="1.5"/><circle cx="37" cy="194.6" r="1.5"/></g><g fill="#0FA6FA"><circle cx="25.52" cy="145.73" r="1.5"/><circle cx="27.82" cy="146.06" r="1.5"/><circle cx="29.09" cy="147.99" r="1.5"/><circle cx="30.22" cy="151.38" r="1.5"/><circle cx="34.21" cy="150.36" r="1.5"/><circle cx="36.99" cy="148.03" r="1.5"/><circle cx="36.54" cy="149.81" r="1.5"/><circle cx="34.36" cy="152.56" r="1.5"/><circle cx="39.25" cy="153.8" r="1.5"/><circle cx="39.51" cy="153.54" r="1.5"/><circle cx="38.29" cy="155.92" r="1.5"/><circle cx="33.35" cy="157.66" r="1.5"/><circle cx="30.59" cy="160.19" r="1.5"/><circle cx="29.77" cy="161.94" r="1.5"/><circle cx="27.4" cy="170.81" r="1.5"/><circle cx="37.44" cy="171.21" r="1.5"/><circle cx="29.24" cy="173.21" r="1.5"/><circle cx="28.14" cy="175.12" r="1.5"/><circle cx="30.42" cy="177.39" r="1.5"/><circle cx="30.93" cy="176.7" r="1.5"/><circle cx="25.49" cy="179.08" r="1.5"/><circle cx="29.71" cy="178.67" r="1.5"/><circle cx="28.02" cy="182.79" r="1.5"/><circle cx="28.48" cy="182.19" r="1.5"/><circle cx="32.44" cy="183" r="1.5"/><circle cx="27.74" cy="185.15" r="1.5"/><circle cx="29.8" cy="186.57" r="1.5"/><circle cx="25.93" cy="188.69" r="1.5"/><circle cx="27.84" cy="189.33" r="1.5"/><circle cx="28.86" cy="189.58" r="1.5"/><circle cx="25.45" cy="195.19" r="1.5"/><circle cx="36.45" cy="194.17" r="1.5"/><circle cx="40.82" cy="176.53" r="1.5"/><circle cx="43.22" cy="182.13" r="1.5"/><circle cx="53.69" cy="189.9" r="1.5"/><circle cx="53.29" cy="188.54" r="1.5"/><circle cx="43.34" cy="138.91" r="1.5"/><circle cx="43.86" cy="144.58" r="1.5"/><circle cx="27.98" cy="123.59" r="1.5"/><circle cx="42.11" cy="134.68" r="1.5"/><circle cx="43.57" cy="139.82" r="1.5"/><circle cx="53.65" cy="149.8" r="1.5"/><circle cx="99.06" cy="191.62" r="1.5"/><circle cx="99.12" cy="190.98" r="1.5"/><circle cx="38.83" cy="177.71" r="1.5"/><circle cx="35.86" cy="192.58" r="1.5"/><circle cx="29.88" cy="194.04" r="1.5"/><circle cx="25.44" cy="195.69" r="1.5"/><circle cx="25.59" cy="207.41" r="1.5"/><circle cx="25.5" cy="151.48" r="1.5"/><circle cx="27.57" cy="151.07" r="1.5"/><circle cx="32.38" cy="154.78" r="1.5"/><circle cx="39.94" cy="154.23" r="1.5"/><circle cx="28.94" cy="157.26" r="1.5"/><circle cx="36.78" cy="163.45" r="1.5"/><circle cx="30.32" cy="167.99" r="1.5"/><circle cx="37.88" cy="169.36" r="1.5"/><circle cx="25.5" cy="186.14" r="1.5"/><circle cx="28.25" cy="193.02" r="1.5"/><circle cx="30.73" cy="198.52" r="1.5"/><circle cx="25.5" cy="200.59" r="1.5"/><circle cx="36.23" cy="190.96" r="1.5"/><circle cx="38.98" cy="177.89" r="1.5"/><circle cx="42.28" cy="183.12" r="1.5"/><circle cx="43.11" cy="185.46" r="1.5"/><circle cx="51.36" cy="153.13" r="1.5"/><circle cx="42.7" cy="145.57" r="1.5"/><circle cx="31.6" cy="134" r="1.5"/><circle cx="43.6" cy="135.2" r="1.5"/><circle cx="43" cy="145" r="1.5"/><circle cx="66.4" cy="153.6" r="1.5"/><circle cx="102" cy="194.4" r="1.5"/><circle cx="43" cy="184" r="1.5"/><circle cx="38.6" cy="180" r="1.5"/><circle cx="25.4" cy="200.6" r="1.5"/><circle cx="30" cy="199" r="1.5"/></g><g fill="#8B93FF"><circle cx="25.54" cy="145.3" r="1.5"/><circle cx="36.77" cy="148.21" r="1.5"/><circle cx="28.17" cy="189.67" r="1.5"/><circle cx="43.55" cy="139.51" r="1.5"/><circle cx="42.44" cy="136.51" r="1.5"/><circle cx="44.14" cy="139.52" r="1.5"/><circle cx="79.21" cy="165.12" r="1.5"/><circle cx="30.03" cy="190.74" r="1.5"/><circle cx="25.5" cy="168.95" r="1.5"/><circle cx="27.57" cy="179.27" r="1.5"/><circle cx="32.65" cy="184.77" r="1.5"/><circle cx="27" cy="122" r="1.5"/></g><g fill="#F266E6"><circle cx="25.13" cy="144.89" r="1.5"/><circle cx="28.44" cy="146.1" r="1.5"/><circle cx="37.2" cy="148.63" r="1.5"/><circle cx="36.37" cy="164.24" r="1.5"/><circle cx="28.02" cy="164.76" r="1.5"/><circle cx="32.86" cy="171.48" r="1.5"/><circle cx="37.64" cy="171.12" r="1.5"/><circle cx="31.96" cy="173.21" r="1.5"/><circle cx="28.59" cy="175.92" r="1.5"/><circle cx="29.96" cy="176.56" r="1.5"/><circle cx="32.61" cy="182.12" r="1.5"/><circle cx="30.21" cy="187.12" r="1.5"/><circle cx="25.67" cy="205.28" r="1.5"/><circle cx="26.92" cy="125.16" r="1.5"/><circle cx="38.94" cy="178.94" r="1.5"/><circle cx="36.52" cy="191.95" r="1.5"/><circle cx="30.32" cy="162.76" r="1.5"/><circle cx="26.19" cy="181.33" r="1.5"/><circle cx="26.88" cy="190.96" r="1.5"/><circle cx="29.63" cy="196.46" r="1.5"/><circle cx="31.6" cy="136" r="1.5"/><circle cx="99.6" cy="191.6" r="1.5"/></g><g fill="#FF63B6"><circle cx="24.9" cy="144.75" r="1.5"/><circle cx="25.31" cy="145.87" r="1.5"/><circle cx="27.49" cy="147.71" r="1.5"/><circle cx="26.41" cy="149.48" r="1.5"/><circle cx="28.56" cy="148.64" r="1.5"/><circle cx="28.43" cy="149.61" r="1.5"/><circle cx="30.36" cy="150.46" r="1.5"/><circle cx="33.69" cy="151.57" r="1.5"/><circle cx="33.36" cy="152.46" r="1.5"/><circle cx="37.75" cy="148.36" r="1.5"/><circle cx="36.22" cy="149.64" r="1.5"/><circle cx="25.87" cy="154.82" r="1.5"/><circle cx="30.34" cy="155.03" r="1.5"/><circle cx="34.5" cy="153.15" r="1.5"/><circle cx="34.78" cy="152.06" r="1.5"/><circle cx="39.74" cy="154.1" r="1.5"/><circle cx="39.36" cy="152.79" r="1.5"/><circle cx="37.8" cy="156.14" r="1.5"/><circle cx="37.74" cy="156.5" r="1.5"/><circle cx="31.75" cy="157.63" r="1.5"/><circle cx="32.76" cy="155.92" r="1.5"/><circle cx="36.42" cy="164.51" r="1.5"/><circle cx="36.86" cy="164.92" r="1.5"/><circle cx="25.64" cy="167.47" r="1.5"/><circle cx="28.49" cy="166.66" r="1.5"/><circle cx="32.72" cy="166.2" r="1.5"/><circle cx="32.41" cy="167.43" r="1.5"/><circle cx="32.65" cy="171.14" r="1.5"/><circle cx="28.93" cy="174.9" r="1.5"/><circle cx="27.87" cy="176.48" r="1.5"/><circle cx="25.9" cy="178.44" r="1.5"/><circle cx="30.13" cy="179.26" r="1.5"/><circle cx="28.05" cy="183.15" r="1.5"/><circle cx="32.92" cy="183.06" r="1.5"/><circle cx="32.81" cy="182.33" r="1.5"/><circle cx="27.19" cy="183.92" r="1.5"/><circle cx="29.61" cy="185.91" r="1.5"/><circle cx="29.52" cy="187.19" r="1.5"/><circle cx="26.18" cy="188.53" r="1.5"/><circle cx="28.22" cy="189.19" r="1.5"/><circle cx="28.79" cy="189.16" r="1.5"/><circle cx="29.32" cy="189.3" r="1.5"/><circle cx="25.46" cy="193.93" r="1.5"/><circle cx="25.33" cy="205.65" r="1.5"/><circle cx="25.48" cy="205.86" r="1.5"/><circle cx="36.45" cy="191.14" r="1.5"/><circle cx="43.83" cy="175.62" r="1.5"/><circle cx="43.92" cy="175.64" r="1.5"/><circle cx="40.5" cy="176.3" r="1.5"/><circle cx="38.63" cy="180.58" r="1.5"/><circle cx="43.56" cy="182.21" r="1.5"/><circle cx="43.71" cy="181.83" r="1.5"/><circle cx="53.23" cy="190.25" r="1.5"/><circle cx="53.78" cy="189.39" r="1.5"/><circle cx="50.71" cy="152.56" r="1.5"/><circle cx="51.1" cy="152.15" r="1.5"/><circle cx="53.94" cy="149.78" r="1.5"/><circle cx="43.21" cy="140.77" r="1.5"/><circle cx="43.49" cy="142.62" r="1.5"/><circle cx="27.15" cy="125.25" r="1.5"/><circle cx="42.23" cy="135.14" r="1.5"/><circle cx="42.78" cy="139.88" r="1.5"/><circle cx="42.98" cy="143.31" r="1.5"/><circle cx="43.84" cy="143" r="1.5"/><circle cx="53.39" cy="157.67" r="1.5"/><circle cx="52.88" cy="158.04" r="1.5"/><circle cx="66.7" cy="154.77" r="1.5"/><circle cx="66.81" cy="155.41" r="1.5"/><circle cx="79.38" cy="165.54" r="1.5"/><circle cx="79.57" cy="163.4" r="1.5"/><circle cx="115.3" cy="174.79" r="1.5"/><circle cx="115.39" cy="174.66" r="1.5"/><circle cx="99.19" cy="190.78" r="1.5"/><circle cx="44.13" cy="174.85" r="1.5"/><circle cx="38.9" cy="178.67" r="1.5"/><circle cx="38.6" cy="179.32" r="1.5"/><circle cx="53.98" cy="189.14" r="1.5"/><circle cx="29.96" cy="193.41" r="1.5"/><circle cx="28.19" cy="193.22" r="1.5"/><circle cx="27.6" cy="195.23" r="1.5"/><circle cx="25.48" cy="206.37" r="1.5"/></g><g fill="#FB6593"><circle cx="25.23" cy="144.6" r="1.5"/><circle cx="28.25" cy="146.25" r="1.5"/><circle cx="26.19" cy="149" r="1.5"/><circle cx="28.94" cy="148.73" r="1.5"/><circle cx="30.32" cy="151.07" r="1.5"/><circle cx="33.76" cy="151.48" r="1.5"/><circle cx="37.19" cy="147.63" r="1.5"/><circle cx="36.51" cy="149" r="1.5"/><circle cx="25.5" cy="154.51" r="1.5"/><circle cx="29.63" cy="154.23" r="1.5"/><circle cx="34.44" cy="152.44" r="1.5"/><circle cx="39.26" cy="152.86" r="1.5"/><circle cx="37.88" cy="155.88" r="1.5"/><circle cx="31.69" cy="157.94" r="1.5"/><circle cx="33.07" cy="157.26" r="1.5"/><circle cx="29.63" cy="160.7" r="1.5"/><circle cx="36.78" cy="165.24" r="1.5"/><circle cx="25.5" cy="166.89" r="1.5"/><circle cx="27.57" cy="166.2" r="1.5"/><circle cx="32.38" cy="166.2" r="1.5"/><circle cx="27.57" cy="170.32" r="1.5"/><circle cx="33.07" cy="171.01" r="1.5"/><circle cx="37.88" cy="171.01" r="1.5"/><circle cx="26.19" cy="173.76" r="1.5"/><circle cx="29.63" cy="173.08" r="1.5"/><circle cx="31.69" cy="172.39" r="1.5"/><circle cx="28.25" cy="175.83" r="1.5"/><circle cx="30.32" cy="176.51" r="1.5"/><circle cx="25.5" cy="178.58" r="1.5"/><circle cx="29.63" cy="178.58" r="1.5"/><circle cx="28.25" cy="181.74" r="1.5"/><circle cx="32.65" cy="182.7" r="1.5"/><circle cx="27.57" cy="185.46" r="1.5"/><circle cx="29.63" cy="186.14" r="1.5"/><circle cx="26.19" cy="188.21" r="1.5"/><circle cx="28.25" cy="188.89" r="1.5"/><circle cx="28.94" cy="190.27" r="1.5"/><circle cx="29.63" cy="192.33" r="1.5"/><circle cx="25.23" cy="194.4" r="1.5"/><circle cx="25.5" cy="206.09" r="1.5"/><circle cx="36.51" cy="192.75" r="1.5"/><circle cx="43.66" cy="175.14" r="1.5"/><circle cx="40.63" cy="176.51" r="1.5"/><circle cx="39.26" cy="179.95" r="1.5"/><circle cx="43.38" cy="182.02" r="1.5"/><circle cx="53.29" cy="189.58" r="1.5"/><circle cx="50.95" cy="151.76" r="1.5"/><circle cx="53.7" cy="149.69" r="1.5"/><circle cx="53.01" cy="157.26" r="1.5"/><circle cx="43.38" cy="139.38" r="1.5"/><circle cx="43.66" cy="142.81" r="1.5"/><circle cx="27" cy="124.6" r="1.5"/><circle cx="42.6" cy="134.4" r="1.5"/><circle cx="43.6" cy="139" r="1.5"/><circle cx="43.6" cy="142" r="1.5"/><circle cx="51" cy="152" r="1.5"/><circle cx="53.6" cy="150" r="1.5"/><circle cx="53" cy="157" r="1.5"/><circle cx="66.4" cy="155" r="1.5"/><circle cx="79.4" cy="164.2" r="1.5"/><circle cx="115" cy="174.6" r="1.5"/><circle cx="99" cy="190.6" r="1.5"/><circle cx="43.6" cy="175" r="1.5"/><circle cx="39" cy="178" r="1.5"/><circle cx="53.6" cy="188.6" r="1.5"/><circle cx="36.4" cy="191.6" r="1.5"/><circle cx="30" cy="192" r="1.5"/><circle cx="25.4" cy="194.6" r="1.5"/><circle cx="28" cy="194" r="1.5"/><circle cx="25.4" cy="206" r="1.5"/></g></g>
<g><g fill="#EA8331"><circle cx="99.4" cy="300.4" r="1.5"/></g><g fill="#ABA300"><circle cx="53.7" cy="267.76" r="1.5"/><circle cx="53.7" cy="269.83" r="1.5"/><circle cx="53.7" cy="280.83" r="1.5"/><circle cx="53.7" cy="290.87" r="1.5"/><circle cx="53.6" cy="267.6" r="1.5"/><circle cx="53.6" cy="269.6" r="1.5"/><circle cx="54" cy="281" r="1.5"/><circle cx="54" cy="290.6" r="1.5"/></g><g fill="#00BE8A"><circle cx="43.61" cy="246.35" r="1.5"/><circle cx="31.39" cy="258.65" r="1.5"/><circle cx="27.47" cy="261.69" r="1.5"/><circle cx="43.74" cy="264.54" r="1.5"/><circle cx="28.1" cy="268.12" r="1.5"/><circle cx="33.17" cy="273.6" r="1.5"/><circle cx="36.22" cy="284.2" r="1.5"/><circle cx="52.59" cy="255.96" r="1.5"/><circle cx="43.57" cy="286.53" r="1.5"/><circle cx="99.26" cy="298.18" r="1.5"/><circle cx="32.65" cy="251.53" r="1.5"/><circle cx="25.5" cy="259.51" r="1.5"/><circle cx="43.66" cy="272.17" r="1.5"/><circle cx="25.5" cy="278.08" r="1.5"/><circle cx="32.6" cy="251.6" r="1.5"/><circle cx="25.4" cy="260" r="1.5"/><circle cx="77.6" cy="271.6" r="1.5"/><circle cx="44" cy="272" r="1.5"/></g><g fill="#0FA6FA"><circle cx="25.64" cy="239.59" r="1.5"/><circle cx="34.79" cy="240.72" r="1.5"/><circle cx="43.02" cy="246.23" r="1.5"/><circle cx="25.1" cy="249.43" r="1.5"/><circle cx="32.37" cy="250.72" r="1.5"/><circle cx="25.78" cy="255.35" r="1.5"/><circle cx="38.38" cy="252.51" r="1.5"/><circle cx="42.73" cy="255.08" r="1.5"/><circle cx="54.45" cy="254.07" r="1.5"/><circle cx="53.02" cy="256.37" r="1.5"/><circle cx="27.71" cy="258.74" r="1.5"/><circle cx="27.74" cy="262.49" r="1.5"/><circle cx="32.73" cy="261.86" r="1.5"/><circle cx="33.47" cy="261.79" r="1.5"/><circle cx="42.87" cy="264.19" r="1.5"/><circle cx="43.7" cy="266.4" r="1.5"/><circle cx="40.71" cy="267.34" r="1.5"/><circle cx="38.08" cy="268.41" r="1.5"/><circle cx="27.51" cy="267.69" r="1.5"/><circle cx="31.25" cy="268.16" r="1.5"/><circle cx="50.72" cy="270.3" r="1.5"/><circle cx="50.6" cy="270.69" r="1.5"/><circle cx="25.4" cy="271.05" r="1.5"/><circle cx="26.08" cy="271.97" r="1.5"/><circle cx="31.69" cy="270.58" r="1.5"/><circle cx="33.23" cy="273.39" r="1.5"/><circle cx="26.03" cy="275.33" r="1.5"/><circle cx="28.3" cy="275.91" r="1.5"/><circle cx="34.98" cy="275.51" r="1.5"/><circle cx="53.8" cy="278.59" r="1.5"/><circle cx="53.29" cy="278.83" r="1.5"/><circle cx="43.34" cy="278.4" r="1.5"/><circle cx="25.89" cy="280.99" r="1.5"/><circle cx="31.98" cy="279.02" r="1.5"/><circle cx="26.32" cy="282.89" r="1.5"/><circle cx="31.16" cy="285.19" r="1.5"/><circle cx="36.01" cy="285.2" r="1.5"/><circle cx="38.45" cy="289.89" r="1.5"/><circle cx="25.14" cy="290.21" r="1.5"/><circle cx="25.3" cy="291.35" r="1.5"/><circle cx="25.83" cy="301.02" r="1.5"/><circle cx="28.68" cy="218.21" r="1.5"/><circle cx="29.42" cy="220.65" r="1.5"/><circle cx="26.98" cy="225.85" r="1.5"/><circle cx="27.56" cy="226.21" r="1.5"/><circle cx="28.81" cy="227.62" r="1.5"/><circle cx="25.07" cy="239.23" r="1.5"/><circle cx="28.26" cy="242.41" r="1.5"/><circle cx="34.77" cy="240.78" r="1.5"/><circle cx="24.96" cy="250.31" r="1.5"/><circle cx="32.73" cy="250.24" r="1.5"/><circle cx="43.01" cy="255.14" r="1.5"/><circle cx="44.59" cy="264.14" r="1.5"/><circle cx="40.64" cy="268.42" r="1.5"/><circle cx="38.53" cy="269.33" r="1.5"/><circle cx="51.08" cy="269.36" r="1.5"/><circle cx="79.91" cy="273.98" r="1.5"/><circle cx="114.91" cy="278.6" r="1.5"/><circle cx="54.14" cy="278.55" r="1.5"/><circle cx="42.84" cy="277.28" r="1.5"/><circle cx="43.92" cy="286.35" r="1.5"/><circle cx="39.07" cy="290.74" r="1.5"/><circle cx="25.48" cy="286.65" r="1.5"/><circle cx="24.67" cy="292.06" r="1.5"/><circle cx="29.74" cy="286.98" r="1.5"/><circle cx="32.67" cy="297.06" r="1.5"/><circle cx="24.99" cy="302.86" r="1.5"/><circle cx="25.5" cy="236.13" r="1.5"/><circle cx="28.94" cy="239.57" r="1.5"/><circle cx="34.86" cy="244.1" r="1.5"/><circle cx="42.7" cy="247.82" r="1.5"/><circle cx="29.63" cy="248.51" r="1.5"/><circle cx="42.7" cy="252.63" r="1.5"/><circle cx="33.07" cy="263.91" r="1.5"/><circle cx="25.5" cy="268.04" r="1.5"/><circle cx="51.36" cy="271.61" r="1.5"/><circle cx="30.32" cy="273.27" r="1.5"/><circle cx="38.57" cy="275.33" r="1.5"/><circle cx="32.38" cy="277.39" r="1.5"/><circle cx="53.7" cy="276.7" r="1.5"/><circle cx="43.66" cy="280.14" r="1.5"/><circle cx="30.32" cy="282.21" r="1.5"/><circle cx="25.5" cy="288.4" r="1.5"/><circle cx="31" cy="287.02" r="1.5"/><circle cx="36.78" cy="286.33" r="1.5"/><circle cx="42.7" cy="291.83" r="1.5"/><circle cx="27.57" cy="291.15" r="1.5"/><circle cx="32.65" cy="293.9" r="1.5"/><circle cx="29" cy="228.4" r="1.5"/><circle cx="25.4" cy="236" r="1.5"/><circle cx="28.6" cy="240" r="1.5"/><circle cx="35" cy="244" r="1.5"/><circle cx="42.6" cy="248" r="1.5"/><circle cx="30" cy="248" r="1.5"/><circle cx="43" cy="252.4" r="1.5"/><circle cx="51" cy="271.2" r="1.5"/><circle cx="66.6" cy="269.6" r="1.5"/><circle cx="114.4" cy="279.2" r="1.5"/><circle cx="54" cy="277" r="1.5"/><circle cx="43.6" cy="280" r="1.5"/><circle cx="37" cy="286" r="1.5"/><circle cx="43" cy="291.6" r="1.5"/><circle cx="25.4" cy="289" r="1.5"/><circle cx="27.4" cy="291" r="1.5"/><circle cx="30" cy="289" r="1.5"/><circle cx="32.6" cy="294" r="1.5"/><circle cx="102" cy="298.4" r="1.5"/></g><g fill="#8B93FF"><circle cx="39.21" cy="289.33" r="1.5"/><circle cx="25.5" cy="264.32" r="1.5"/><circle cx="31" cy="276.02" r="1.5"/></g><g fill="#F266E6"><circle cx="25.38" cy="254.42" r="1.5"/><circle cx="38.36" cy="254.08" r="1.5"/><circle cx="42.45" cy="254.59" r="1.5"/><circle cx="53.08" cy="256" r="1.5"/><circle cx="27.17" cy="262.13" r="1.5"/><circle cx="33.79" cy="260.31" r="1.5"/><circle cx="27.9" cy="265.44" r="1.5"/><circle cx="28.58" cy="267.8" r="1.5"/><circle cx="33.8" cy="270.74" r="1.5"/><circle cx="53.94" cy="278.8" r="1.5"/><circle cx="28.88" cy="281.73" r="1.5"/><circle cx="25.76" cy="238.75" r="1.5"/><circle cx="27.46" cy="243.33" r="1.5"/><circle cx="25.61" cy="249.73" r="1.5"/><circle cx="41.17" cy="267.17" r="1.5"/><circle cx="79.19" cy="274.8" r="1.5"/><circle cx="98.71" cy="297.95" r="1.5"/><circle cx="30.32" cy="260.89" r="1.5"/><circle cx="39.26" cy="291.15" r="1.5"/><circle cx="39.4" cy="291.4" r="1.5"/></g><g fill="#FF63B6"><circle cx="25.41" cy="238.82" r="1.5"/><circle cx="28.05" cy="243.41" r="1.5"/><circle cx="27.57" cy="243.07" r="1.5"/><circle cx="33.57" cy="242.38" r="1.5"/><circle cx="25.76" cy="249.42" r="1.5"/><circle cx="25.37" cy="250.15" r="1.5"/><circle cx="32.39" cy="249.99" r="1.5"/><circle cx="32.5" cy="249.18" r="1.5"/><circle cx="25.4" cy="254.79" r="1.5"/><circle cx="25.2" cy="254.77" r="1.5"/><circle cx="37.79" cy="254.95" r="1.5"/><circle cx="42.21" cy="253.98" r="1.5"/><circle cx="42.06" cy="256.85" r="1.5"/><circle cx="54.1" cy="253.15" r="1.5"/><circle cx="28.35" cy="258.87" r="1.5"/><circle cx="31.49" cy="258.57" r="1.5"/><circle cx="27.82" cy="262.33" r="1.5"/><circle cx="28.45" cy="263.28" r="1.5"/><circle cx="43.63" cy="264.92" r="1.5"/><circle cx="43.44" cy="266.26" r="1.5"/><circle cx="44.15" cy="266.65" r="1.5"/><circle cx="40.63" cy="267.6" r="1.5"/><circle cx="37.24" cy="267.01" r="1.5"/><circle cx="28.33" cy="268.65" r="1.5"/><circle cx="27.97" cy="267.31" r="1.5"/><circle cx="31.42" cy="268.82" r="1.5"/><circle cx="30.73" cy="267.73" r="1.5"/><circle cx="51.52" cy="271.19" r="1.5"/><circle cx="26.34" cy="272.28" r="1.5"/><circle cx="26.66" cy="270.83" r="1.5"/><circle cx="29.26" cy="269.99" r="1.5"/><circle cx="28.95" cy="270.98" r="1.5"/><circle cx="33.19" cy="269.6" r="1.5"/><circle cx="36.46" cy="271.82" r="1.5"/><circle cx="27.17" cy="272.78" r="1.5"/><circle cx="26.99" cy="274.38" r="1.5"/><circle cx="33.7" cy="274.42" r="1.5"/><circle cx="25.22" cy="276.01" r="1.5"/><circle cx="28.62" cy="274.73" r="1.5"/><circle cx="28.73" cy="276.21" r="1.5"/><circle cx="35.12" cy="275.43" r="1.5"/><circle cx="28.61" cy="278.5" r="1.5"/><circle cx="25.63" cy="279.54" r="1.5"/><circle cx="29" cy="280.36" r="1.5"/><circle cx="28.52" cy="280.62" r="1.5"/><circle cx="27.15" cy="282.98" r="1.5"/><circle cx="25.65" cy="287.01" r="1.5"/><circle cx="26.06" cy="286.48" r="1.5"/><circle cx="31.62" cy="285.15" r="1.5"/><circle cx="31.1" cy="285.83" r="1.5"/><circle cx="36.01" cy="284.57" r="1.5"/><circle cx="25.16" cy="290.59" r="1.5"/><circle cx="33.02" cy="296.73" r="1.5"/><circle cx="25.73" cy="300.94" r="1.5"/><circle cx="25.45" cy="301.67" r="1.5"/><circle cx="28.84" cy="218.28" r="1.5"/><circle cx="29.11" cy="217.33" r="1.5"/><circle cx="29.01" cy="227.34" r="1.5"/><circle cx="26.02" cy="239.39" r="1.5"/><circle cx="27.4" cy="242.58" r="1.5"/><circle cx="34.25" cy="240.61" r="1.5"/><circle cx="43.93" cy="245.79" r="1.5"/><circle cx="43.41" cy="246.37" r="1.5"/><circle cx="32.54" cy="250.19" r="1.5"/><circle cx="37.47" cy="254.21" r="1.5"/><circle cx="43.26" cy="255.55" r="1.5"/><circle cx="52.65" cy="253.83" r="1.5"/><circle cx="53.17" cy="253.46" r="1.5"/><circle cx="52.48" cy="254.67" r="1.5"/><circle cx="44.12" cy="264.77" r="1.5"/><circle cx="44.27" cy="265.35" r="1.5"/><circle cx="43.55" cy="266.66" r="1.5"/><circle cx="40.91" cy="267.83" r="1.5"/><circle cx="37.86" cy="269.45" r="1.5"/><circle cx="38.15" cy="269.25" r="1.5"/><circle cx="51.55" cy="270.41" r="1.5"/><circle cx="66.02" cy="268.22" r="1.5"/><circle cx="79.09" cy="274.48" r="1.5"/><circle cx="44.1" cy="285.24" r="1.5"/><circle cx="36.78" cy="285.09" r="1.5"/><circle cx="35.99" cy="284.14" r="1.5"/><circle cx="25.06" cy="292.45" r="1.5"/><circle cx="30.09" cy="287.32" r="1.5"/><circle cx="30.07" cy="286.68" r="1.5"/><circle cx="33.02" cy="296.94" r="1.5"/><circle cx="99.73" cy="297.87" r="1.5"/><circle cx="24.8" cy="302.41" r="1.5"/></g><g fill="#FB6593"><circle cx="25.5" cy="239.15" r="1.5"/><circle cx="27.57" cy="242.32" r="1.5"/><circle cx="34.44" cy="240.94" r="1.5"/><circle cx="43.66" cy="245.76" r="1.5"/><circle cx="25.5" cy="249.61" r="1.5"/><circle cx="32.38" cy="249.61" r="1.5"/><circle cx="25.5" cy="254.7" r="1.5"/><circle cx="37.61" cy="253.73" r="1.5"/><circle cx="42.7" cy="254.7" r="1.5"/><circle cx="42.7" cy="256.48" r="1.5"/><circle cx="53.7" cy="253.32" r="1.5"/><circle cx="53.01" cy="255.11" r="1.5"/><circle cx="28.25" cy="258.82" r="1.5"/><circle cx="31.69" cy="258.82" r="1.5"/><circle cx="27.57" cy="261.57" r="1.5"/><circle cx="33.07" cy="261.57" r="1.5"/><circle cx="28.25" cy="264.32" r="1.5"/><circle cx="43.66" cy="263.91" r="1.5"/><circle cx="43.66" cy="266.39" r="1.5"/><circle cx="40.63" cy="267.49" r="1.5"/><circle cx="37.88" cy="268.04" r="1.5"/><circle cx="28.25" cy="267.49" r="1.5"/><circle cx="31" cy="268.04" r="1.5"/><circle cx="50.95" cy="270.51" r="1.5"/><circle cx="26.19" cy="271.2" r="1.5"/><circle cx="28.94" cy="270.51" r="1.5"/><circle cx="31.69" cy="271.2" r="1.5"/><circle cx="33.76" cy="270.51" r="1.5"/><circle cx="36.23" cy="271.89" r="1.5"/><circle cx="26.88" cy="273.27" r="1.5"/><circle cx="33.07" cy="273.27" r="1.5"/><circle cx="25.5" cy="276.02" r="1.5"/><circle cx="28.25" cy="275.33" r="1.5"/><circle cx="35.13" cy="274.64" r="1.5"/><circle cx="28.25" cy="278.08" r="1.5"/><circle cx="53.7" cy="278.49" r="1.5"/><circle cx="43.66" cy="278.08" r="1.5"/><circle cx="25.5" cy="280.14" r="1.5"/><circle cx="28.94" cy="280.14" r="1.5"/><circle cx="31.69" cy="279.46" r="1.5"/><circle cx="26.88" cy="282.21" r="1.5"/><circle cx="25.5" cy="286.33" r="1.5"/><circle cx="31" cy="284.96" r="1.5"/><circle cx="36.51" cy="284.27" r="1.5"/><circle cx="43.66" cy="284.96" r="1.5"/><circle cx="43.66" cy="287.02" r="1.5"/><circle cx="38.98" cy="289.08" r="1.5"/><circle cx="25.5" cy="291.15" r="1.5"/><circle cx="32.65" cy="295.96" r="1.5"/><circle cx="25.5" cy="300.78" r="1.5"/><circle cx="29" cy="217.6" r="1.5"/><circle cx="29" cy="219.6" r="1.5"/><circle cx="27.4" cy="226.4" r="1.5"/><circle cx="29" cy="227" r="1.5"/><circle cx="25.4" cy="239.6" r="1.5"/><circle cx="27.4" cy="242" r="1.5"/><circle cx="34.4" cy="241" r="1.5"/><circle cx="43.6" cy="246" r="1.5"/><circle cx="25.4" cy="250" r="1.5"/><circle cx="32.6" cy="250" r="1.5"/><circle cx="37.4" cy="254" r="1.5"/><circle cx="43.6" cy="255" r="1.5"/><circle cx="53.6" cy="253.6" r="1.5"/><circle cx="52.6" cy="255.6" r="1.5"/><circle cx="25.4" cy="255" r="1.5"/><circle cx="44" cy="263.6" r="1.5"/><circle cx="44" cy="266" r="1.5"/><circle cx="41" cy="267.6" r="1.5"/><circle cx="38" cy="269" r="1.5"/><circle cx="51" cy="270" r="1.5"/><circle cx="66.4" cy="268.6" r="1.5"/><circle cx="79.4" cy="273.6" r="1.5"/><circle cx="115" cy="278.6" r="1.5"/><circle cx="53.6" cy="278.4" r="1.5"/><circle cx="43.6" cy="278" r="1.5"/><circle cx="43.6" cy="285.6" r="1.5"/><circle cx="43.6" cy="287" r="1.5"/><circle cx="36.4" cy="284.4" r="1.5"/><circle cx="39" cy="290" r="1.5"/><circle cx="25.4" cy="286" r="1.5"/><circle cx="25" cy="292" r="1.5"/><circle cx="30" cy="287" r="1.5"/><circle cx="32.6" cy="296.4" r="1.5"/><circle cx="99" cy="298" r="1.5"/><circle cx="25" cy="302" r="1.5"/></g></g>
<g><g fill="#EA8331"><circle cx="99.4" cy="369.6" r="1.5"/></g><g fill="#ABA300"><circle cx="53.7" cy="355.14" r="1.5"/><circle cx="53.7" cy="357.89" r="1.5"/><circle cx="53.7" cy="363.39" r="1.5"/><circle cx="53.6" cy="313.6" r="1.5"/><circle cx="45" cy="337" r="1.5"/><circle cx="53.6" cy="355" r="1.5"/><circle cx="53.6" cy="358.6" r="1.5"/><circle cx="53.6" cy="363.6" r="1.5"/></g><g fill="#3DB53A"><circle cx="44.07" cy="336.57" r="1.5"/></g><g fill="#00BE8A"><circle cx="25.29" cy="325.28" r="1.5"/><circle cx="25.35" cy="328.15" r="1.5"/><circle cx="25.4" cy="330.2" r="1.5"/><circle cx="25.62" cy="336.11" r="1.5"/><circle cx="26.53" cy="355.9" r="1.5"/><circle cx="25.36" cy="356.87" r="1.5"/><circle cx="25.95" cy="367.77" r="1.5"/><circle cx="31.86" cy="347.21" r="1.5"/><circle cx="32.55" cy="360.11" r="1.5"/><circle cx="42.51" cy="351.23" r="1.5"/><circle cx="42.31" cy="349.07" r="1.5"/><circle cx="53.09" cy="367.83" r="1.5"/><circle cx="43.97" cy="334.82" r="1.5"/><circle cx="79.57" cy="354.43" r="1.5"/><circle cx="98.75" cy="367.41" r="1.5"/><circle cx="38.17" cy="380.4" r="1.5"/><circle cx="25.5" cy="342.07" r="1.5"/><circle cx="32.65" cy="373.02" r="1.5"/><circle cx="37.61" cy="361.33" r="1.5"/><circle cx="36.78" cy="368.89" r="1.5"/><circle cx="43.38" cy="358.58" r="1.5"/><circle cx="43.38" cy="360.64" r="1.5"/><circle cx="43.66" cy="366.83" r="1.5"/><circle cx="53.7" cy="369.58" r="1.5"/><circle cx="78" cy="356.4" r="1.5"/><circle cx="53.6" cy="369.6" r="1.5"/></g><g fill="#0FA6FA"><circle cx="25.86" cy="320.97" r="1.5"/><circle cx="25.48" cy="324.96" r="1.5"/><circle cx="26.28" cy="328.7" r="1.5"/><circle cx="25.15" cy="334.41" r="1.5"/><circle cx="25.67" cy="335.04" r="1.5"/><circle cx="26.29" cy="340.3" r="1.5"/><circle cx="26.15" cy="337.7" r="1.5"/><circle cx="26.3" cy="344.53" r="1.5"/><circle cx="25.57" cy="346.22" r="1.5"/><circle cx="25.18" cy="361.03" r="1.5"/><circle cx="26.19" cy="361.78" r="1.5"/><circle cx="25.75" cy="366.23" r="1.5"/><circle cx="25.13" cy="365.29" r="1.5"/><circle cx="26.72" cy="373.78" r="1.5"/><circle cx="29.51" cy="332.49" r="1.5"/><circle cx="30.61" cy="356.72" r="1.5"/><circle cx="30.34" cy="364.97" r="1.5"/><circle cx="29.97" cy="373.84" r="1.5"/><circle cx="30.25" cy="373.42" r="1.5"/><circle cx="31.55" cy="335.41" r="1.5"/><circle cx="32.8" cy="337.52" r="1.5"/><circle cx="32.58" cy="347.74" r="1.5"/><circle cx="32.64" cy="364.37" r="1.5"/><circle cx="37.45" cy="332.89" r="1.5"/><circle cx="37.74" cy="332.12" r="1.5"/><circle cx="37.03" cy="334.53" r="1.5"/><circle cx="37.14" cy="335.89" r="1.5"/><circle cx="37.84" cy="338.3" r="1.5"/><circle cx="37.54" cy="340.85" r="1.5"/><circle cx="36.79" cy="368.5" r="1.5"/><circle cx="37.58" cy="375.53" r="1.5"/><circle cx="43.66" cy="336.02" r="1.5"/><circle cx="42.3" cy="349.68" r="1.5"/><circle cx="43.67" cy="364.62" r="1.5"/><circle cx="53.56" cy="336.5" r="1.5"/><circle cx="53.31" cy="343.2" r="1.5"/><circle cx="50.71" cy="347.08" r="1.5"/><circle cx="53.11" cy="373.45" r="1.5"/><circle cx="52.91" cy="372.06" r="1.5"/><circle cx="115.59" cy="319.75" r="1.5"/><circle cx="25.2" cy="320.67" r="1.5"/><circle cx="25.26" cy="328.47" r="1.5"/><circle cx="24.55" cy="325.04" r="1.5"/><circle cx="32.46" cy="333.18" r="1.5"/><circle cx="43.75" cy="337.18" r="1.5"/><circle cx="53.4" cy="340.07" r="1.5"/><circle cx="53.87" cy="339.38" r="1.5"/><circle cx="50.79" cy="347.06" r="1.5"/><circle cx="66.6" cy="358.8" r="1.5"/><circle cx="79.57" cy="355.92" r="1.5"/><circle cx="99.25" cy="365.98" r="1.5"/><circle cx="53.56" cy="371.16" r="1.5"/><circle cx="25.2" cy="389.72" r="1.5"/><circle cx="29.6" cy="388.06" r="1.5"/><circle cx="38.13" cy="381.83" r="1.5"/><circle cx="37.73" cy="379.88" r="1.5"/><circle cx="25.5" cy="353.76" r="1.5"/><circle cx="26.19" cy="369.58" r="1.5"/><circle cx="29.63" cy="335.19" r="1.5"/><circle cx="28.25" cy="354.45" r="1.5"/><circle cx="30.32" cy="360.64" r="1.5"/><circle cx="30.32" cy="368.89" r="1.5"/><circle cx="30.32" cy="379.21" r="1.5"/><circle cx="33.07" cy="334.51" r="1.5"/><circle cx="33.07" cy="353.76" r="1.5"/><circle cx="32.65" cy="376.46" r="1.5"/><circle cx="37.61" cy="329" r="1.5"/><circle cx="35.13" cy="340.01" r="1.5"/><circle cx="37.19" cy="341.38" r="1.5"/><circle cx="39.26" cy="354.45" r="1.5"/><circle cx="38.57" cy="356.51" r="1.5"/><circle cx="37.88" cy="377.83" r="1.5"/><circle cx="43.11" cy="333.13" r="1.5"/><circle cx="42.7" cy="341.38" r="1.5"/><circle cx="43.38" cy="343.45" r="1.5"/><circle cx="53.7" cy="340.01" r="1.5"/><circle cx="52.74" cy="346.2" r="1.5"/><circle cx="53.7" cy="376.87" r="1.5"/><circle cx="114.6" cy="319.6" r="1.5"/><circle cx="25.4" cy="316" r="1.5"/><circle cx="37.6" cy="329.6" r="1.5"/><circle cx="43" cy="333.6" r="1.5"/><circle cx="54" cy="340.4" r="1.5"/><circle cx="52.6" cy="347" r="1.5"/><circle cx="102" cy="370" r="1.5"/><circle cx="53.6" cy="376.4" r="1.5"/><circle cx="25.4" cy="397.6" r="1.5"/><circle cx="38" cy="378.4" r="1.5"/></g><g fill="#8B93FF"><circle cx="26.01" cy="342.03" r="1.5"/><circle cx="26.15" cy="349.79" r="1.5"/><circle cx="30.03" cy="357.86" r="1.5"/><circle cx="43.54" cy="354.62" r="1.5"/><circle cx="50.9" cy="349.81" r="1.5"/><circle cx="79.14" cy="355.08" r="1.5"/><circle cx="25.5" cy="320.75" r="1.5"/><circle cx="53.29" cy="373.71" r="1.5"/><circle cx="25" cy="321" r="1.5"/><circle cx="66.6" cy="358" r="1.5"/><circle cx="80" cy="356" r="1.5"/><circle cx="99.4" cy="367.6" r="1.5"/><circle cx="53.6" cy="373" r="1.5"/></g><g fill="#F266E6"><circle cx="25.63" cy="316.69" r="1.5"/><circle cx="25.38" cy="326.21" r="1.5"/><circle cx="27.17" cy="374.54" r="1.5"/><circle cx="25.88" cy="375.69" r="1.5"/><circle cx="30.91" cy="341.98" r="1.5"/><circle cx="28.77" cy="340.77" r="1.5"/><circle cx="28.39" cy="346.37" r="1.5"/><circle cx="28.84" cy="349.01" r="1.5"/><circle cx="30.96" cy="358.05" r="1.5"/><circle cx="31.98" cy="342.71" r="1.5"/><circle cx="33.42" cy="365.18" r="1.5"/><circle cx="37.66" cy="336.77" r="1.5"/><circle cx="38.18" cy="378.7" r="1.5"/><circle cx="42.58" cy="350.64" r="1.5"/><circle cx="43.54" cy="351.96" r="1.5"/><circle cx="50.87" cy="350.21" r="1.5"/><circle cx="53.87" cy="371.82" r="1.5"/><circle cx="53.49" cy="340.26" r="1.5"/><circle cx="53.44" cy="370.82" r="1.5"/><circle cx="30.32" cy="347.57" r="1.5"/><circle cx="28.94" cy="366.83" r="1.5"/><circle cx="30.32" cy="381.96" r="1.5"/><circle cx="30.6" cy="383" r="1.5"/></g><g fill="#FF63B6"><circle cx="25.01" cy="323.8" r="1.5"/><circle cx="26.15" cy="326.71" r="1.5"/><circle cx="25.37" cy="331.45" r="1.5"/><circle cx="25.33" cy="332.51" r="1.5"/><circle cx="25.2" cy="336.26" r="1.5"/><circle cx="25.22" cy="336.36" r="1.5"/><circle cx="26.85" cy="345.84" r="1.5"/><circle cx="26.02" cy="345.46" r="1.5"/><circle cx="25.63" cy="348.87" r="1.5"/><circle cx="26.31" cy="350.05" r="1.5"/><circle cx="26.35" cy="355.56" r="1.5"/><circle cx="25.12" cy="359.36" r="1.5"/><circle cx="25.71" cy="367.13" r="1.5"/><circle cx="27.26" cy="371.58" r="1.5"/><circle cx="24.98" cy="377.72" r="1.5"/><circle cx="28.96" cy="334.78" r="1.5"/><circle cx="27.38" cy="337.15" r="1.5"/><circle cx="29.94" cy="339.66" r="1.5"/><circle cx="29.95" cy="343.54" r="1.5"/><circle cx="29.59" cy="341.65" r="1.5"/><circle cx="27.83" cy="346.2" r="1.5"/><circle cx="28.63" cy="346.8" r="1.5"/><circle cx="28.48" cy="349.7" r="1.5"/><circle cx="28.95" cy="351.69" r="1.5"/><circle cx="30.27" cy="352.57" r="1.5"/><circle cx="30.45" cy="360.56" r="1.5"/><circle cx="28.77" cy="360.07" r="1.5"/><circle cx="30.05" cy="375.01" r="1.5"/><circle cx="29.21" cy="374.75" r="1.5"/><circle cx="28" cy="378.02" r="1.5"/><circle cx="30.18" cy="384.33" r="1.5"/><circle cx="32.41" cy="331.76" r="1.5"/><circle cx="31.75" cy="338.41" r="1.5"/><circle cx="31.71" cy="349.62" r="1.5"/><circle cx="32.15" cy="348.53" r="1.5"/><circle cx="32.79" cy="350.91" r="1.5"/><circle cx="32.53" cy="360.17" r="1.5"/><circle cx="33.25" cy="363.89" r="1.5"/><circle cx="32.74" cy="366.9" r="1.5"/><circle cx="33.85" cy="367.39" r="1.5"/><circle cx="34" cy="368.66" r="1.5"/><circle cx="37.62" cy="334.22" r="1.5"/><circle cx="36.93" cy="335.81" r="1.5"/><circle cx="37.03" cy="333.63" r="1.5"/><circle cx="37.97" cy="338.26" r="1.5"/><circle cx="36.63" cy="359.03" r="1.5"/><circle cx="36.61" cy="358.39" r="1.5"/><circle cx="36.91" cy="365.89" r="1.5"/><circle cx="37.75" cy="377.46" r="1.5"/><circle cx="43.77" cy="337.19" r="1.5"/><circle cx="43.37" cy="339.3" r="1.5"/><circle cx="43.57" cy="345.35" r="1.5"/><circle cx="42.9" cy="349.47" r="1.5"/><circle cx="41.52" cy="352.22" r="1.5"/><circle cx="42.01" cy="352.04" r="1.5"/><circle cx="44.16" cy="352.1" r="1.5"/><circle cx="44.01" cy="352.85" r="1.5"/><circle cx="43.61" cy="353.31" r="1.5"/><circle cx="54.01" cy="339.17" r="1.5"/><circle cx="53.72" cy="340.46" r="1.5"/><circle cx="53.16" cy="343.2" r="1.5"/><circle cx="51.02" cy="346.02" r="1.5"/><circle cx="53.35" cy="372.45" r="1.5"/><circle cx="53.24" cy="371.89" r="1.5"/><circle cx="114.43" cy="316.78" r="1.5"/><circle cx="24.7" cy="327.3" r="1.5"/><circle cx="32.52" cy="330.47" r="1.5"/><circle cx="43.39" cy="337.66" r="1.5"/><circle cx="43.38" cy="335.77" r="1.5"/><circle cx="53.95" cy="335.82" r="1.5"/><circle cx="50.22" cy="347.3" r="1.5"/><circle cx="66.84" cy="357.82" r="1.5"/><circle cx="99.28" cy="365.98" r="1.5"/><circle cx="53.17" cy="369.99" r="1.5"/><circle cx="53.03" cy="372.74" r="1.5"/><circle cx="25.3" cy="388.78" r="1.5"/><circle cx="29.99" cy="384.93" r="1.5"/><circle cx="37.87" cy="375.88" r="1.5"/></g><g fill="#FB6593"><circle cx="25.5" cy="318.69" r="1.5"/><circle cx="25.5" cy="324.88" r="1.5"/><circle cx="25.5" cy="327.63" r="1.5"/><circle cx="25.5" cy="331.76" r="1.5"/><circle cx="25.5" cy="335.88" r="1.5"/><circle cx="26.19" cy="338.63" r="1.5"/><circle cx="26.19" cy="345.51" r="1.5"/><circle cx="25.5" cy="348.26" r="1.5"/><circle cx="26.19" cy="351.01" r="1.5"/><circle cx="26.19" cy="356.51" r="1.5"/><circle cx="25.5" cy="359.27" r="1.5"/><circle cx="26.19" cy="362.02" r="1.5"/><circle cx="25.5" cy="366.14" r="1.5"/><circle cx="26.88" cy="373.02" r="1.5"/><circle cx="25.5" cy="378.52" r="1.5"/><circle cx="28.94" cy="333.13" r="1.5"/><circle cx="28.25" cy="337.26" r="1.5"/><circle cx="30.32" cy="338.63" r="1.5"/><circle cx="28.94" cy="341.38" r="1.5"/><circle cx="30.32" cy="343.45" r="1.5"/><circle cx="28.25" cy="345.51" r="1.5"/><circle cx="28.94" cy="350.32" r="1.5"/><circle cx="30.32" cy="352.39" r="1.5"/><circle cx="30.32" cy="356.51" r="1.5"/><circle cx="28.94" cy="358.58" r="1.5"/><circle cx="28.25" cy="362.7" r="1.5"/><circle cx="30.32" cy="364.77" r="1.5"/><circle cx="28.25" cy="370.96" r="1.5"/><circle cx="30.32" cy="372.33" r="1.5"/><circle cx="28.94" cy="375.08" r="1.5"/><circle cx="27.57" cy="377.15" r="1.5"/><circle cx="30.32" cy="385.4" r="1.5"/><circle cx="32.65" cy="330.38" r="1.5"/><circle cx="32.38" cy="338.63" r="1.5"/><circle cx="33.07" cy="342.07" r="1.5"/><circle cx="32.38" cy="345.51" r="1.5"/><circle cx="32.65" cy="348.95" r="1.5"/><circle cx="32.38" cy="359.27" r="1.5"/><circle cx="32.65" cy="363.39" r="1.5"/><circle cx="33.07" cy="366.14" r="1.5"/><circle cx="33.48" cy="369.99" r="1.5"/><circle cx="37.88" cy="331.07" r="1.5"/><circle cx="37.19" cy="334.51" r="1.5"/><circle cx="37.88" cy="338.63" r="1.5"/><circle cx="36.23" cy="359.27" r="1.5"/><circle cx="36.78" cy="366.14" r="1.5"/><circle cx="37.88" cy="375.77" r="1.5"/><circle cx="43.38" cy="335.19" r="1.5"/><circle cx="43.38" cy="338.63" r="1.5"/><circle cx="43.38" cy="346.2" r="1.5"/><circle cx="42.7" cy="348.95" r="1.5"/><circle cx="42.01" cy="351.01" r="1.5"/><circle cx="43.66" cy="353.08" r="1.5"/><circle cx="43.66" cy="355.83" r="1.5"/><circle cx="43.66" cy="364.77" r="1.5"/><circle cx="53.7" cy="338.36" r="1.5"/><circle cx="53.01" cy="343.45" r="1.5"/><circle cx="50.95" cy="348.54" r="1.5"/><circle cx="53.29" cy="371.65" r="1.5"/><circle cx="115" cy="319" r="1.5"/><circle cx="25" cy="318.4" r="1.5"/><circle cx="25" cy="325.6" r="1.5"/><circle cx="32.6" cy="331" r="1.5"/><circle cx="43.6" cy="337" r="1.5"/><circle cx="53.6" cy="338.4" r="1.5"/><circle cx="53" cy="344" r="1.5"/><circle cx="51" cy="348.6" r="1.5"/><circle cx="66.4" cy="356.4" r="1.5"/><circle cx="79.4" cy="355" r="1.5"/><circle cx="99.4" cy="366" r="1.5"/><circle cx="53" cy="371" r="1.5"/><circle cx="25.4" cy="390" r="1.5"/><circle cx="30" cy="386" r="1.5"/><circle cx="38" cy="376" r="1.5"/><circle cx="38" cy="380" r="1.5"/></g></g>
<g><g fill="#EA8331"><circle cx="99.4" cy="492.4" r="1.5"/></g><g fill="#ABA300"><circle cx="53.7" cy="453.01" r="1.5"/><circle cx="53.7" cy="477.08" r="1.5"/><circle cx="53.6" cy="452.6" r="1.5"/><circle cx="54" cy="453.6" r="1.5"/><circle cx="53.6" cy="477" r="1.5"/></g><g fill="#00BE8A"><circle cx="28.83" cy="422.03" r="1.5"/><circle cx="42.83" cy="429.45" r="1.5"/><circle cx="52.8" cy="438.96" r="1.5"/><circle cx="25.25" cy="451.26" r="1.5"/><circle cx="39.15" cy="451.31" r="1.5"/><circle cx="38.16" cy="464.96" r="1.5"/><circle cx="26.02" cy="468.61" r="1.5"/><circle cx="32.7" cy="471.24" r="1.5"/><circle cx="28.51" cy="476.03" r="1.5"/><circle cx="53.72" cy="482.73" r="1.5"/><circle cx="43.22" cy="427.13" r="1.5"/><circle cx="66.31" cy="450.26" r="1.5"/><circle cx="43.81" cy="464.04" r="1.5"/><circle cx="43.53" cy="474.54" r="1.5"/><circle cx="43.38" cy="435.82" r="1.5"/><circle cx="29.63" cy="448.2" r="1.5"/><circle cx="44.48" cy="453.43" r="1.5"/><circle cx="37.19" cy="476.67" r="1.5"/><circle cx="27" cy="411" r="1.5"/><circle cx="43.6" cy="435.4" r="1.5"/><circle cx="78" cy="457" r="1.5"/><circle cx="44.6" cy="454" r="1.5"/><circle cx="37.4" cy="476.6" r="1.5"/></g><g fill="#0FA6FA"><circle cx="29.38" cy="422.88" r="1.5"/><circle cx="29.21" cy="428.44" r="1.5"/><circle cx="28.82" cy="427.64" r="1.5"/><circle cx="42.12" cy="428.42" r="1.5"/><circle cx="31.7" cy="435.98" r="1.5"/><circle cx="36.99" cy="433.12" r="1.5"/><circle cx="53.61" cy="431.45" r="1.5"/><circle cx="28.51" cy="436.07" r="1.5"/><circle cx="26.82" cy="439.59" r="1.5"/><circle cx="31.68" cy="441.73" r="1.5"/><circle cx="36.43" cy="442.52" r="1.5"/><circle cx="36.51" cy="443.08" r="1.5"/><circle cx="43.91" cy="444.1" r="1.5"/><circle cx="53.13" cy="438.77" r="1.5"/><circle cx="52.68" cy="439.25" r="1.5"/><circle cx="30.81" cy="446.5" r="1.5"/><circle cx="26.36" cy="447.58" r="1.5"/><circle cx="31.95" cy="448.8" r="1.5"/><circle cx="31.75" cy="449.13" r="1.5"/><circle cx="50.7" cy="446.42" r="1.5"/><circle cx="50.76" cy="446.47" r="1.5"/><circle cx="25.42" cy="450.17" r="1.5"/><circle cx="39.27" cy="452.43" r="1.5"/><circle cx="32.19" cy="456.03" r="1.5"/><circle cx="27.86" cy="458.5" r="1.5"/><circle cx="30.21" cy="459.8" r="1.5"/><circle cx="29.86" cy="458.79" r="1.5"/><circle cx="28.62" cy="462.48" r="1.5"/><circle cx="25.53" cy="465.3" r="1.5"/><circle cx="31.5" cy="466.08" r="1.5"/><circle cx="25.79" cy="467.95" r="1.5"/><circle cx="29.47" cy="466.45" r="1.5"/><circle cx="29.72" cy="467.54" r="1.5"/><circle cx="36.9" cy="467.3" r="1.5"/><circle cx="28.76" cy="470.91" r="1.5"/><circle cx="43.58" cy="472.92" r="1.5"/><circle cx="30.4" cy="473.17" r="1.5"/><circle cx="36.58" cy="473.33" r="1.5"/><circle cx="26.48" cy="475.77" r="1.5"/><circle cx="25.62" cy="479.48" r="1.5"/><circle cx="25.88" cy="478.46" r="1.5"/><circle cx="53.48" cy="479.19" r="1.5"/><circle cx="53.59" cy="481.85" r="1.5"/><circle cx="27.51" cy="409.46" r="1.5"/><circle cx="29.39" cy="418.75" r="1.5"/><circle cx="35" cy="427.04" r="1.5"/><circle cx="43.73" cy="427" r="1.5"/><circle cx="52.73" cy="433.3" r="1.5"/><circle cx="53.98" cy="434.91" r="1.5"/><circle cx="50.48" cy="446.74" r="1.5"/><circle cx="51.27" cy="445.92" r="1.5"/><circle cx="66.4" cy="448.32" r="1.5"/><circle cx="114.55" cy="454.08" r="1.5"/><circle cx="79.02" cy="457.46" r="1.5"/><circle cx="39.27" cy="453" r="1.5"/><circle cx="43.69" cy="455.98" r="1.5"/><circle cx="37.42" cy="467.31" r="1.5"/><circle cx="43.88" cy="475.7" r="1.5"/><circle cx="52.84" cy="480.18" r="1.5"/><circle cx="99.27" cy="489" r="1.5"/><circle cx="29.35" cy="424.13" r="1.5"/><circle cx="28.94" cy="429.35" r="1.5"/><circle cx="34.86" cy="429.63" r="1.5"/><circle cx="42.7" cy="425.78" r="1.5"/><circle cx="37.61" cy="433.76" r="1.5"/><circle cx="28.94" cy="442.01" r="1.5"/><circle cx="25.5" cy="444.76" r="1.5"/><circle cx="32.38" cy="444.07" r="1.5"/><circle cx="51.36" cy="447.24" r="1.5"/><circle cx="39.53" cy="453.01" r="1.5"/><circle cx="31" cy="456.86" r="1.5"/><circle cx="25.5" cy="459.2" r="1.5"/><circle cx="27.57" cy="459.89" r="1.5"/><circle cx="32.38" cy="461.95" r="1.5"/><circle cx="28.25" cy="464.7" r="1.5"/><circle cx="43.66" cy="465.12" r="1.5"/><circle cx="39.26" cy="468.14" r="1.5"/><circle cx="43.66" cy="470.62" r="1.5"/><circle cx="42.7" cy="474.33" r="1.5"/><circle cx="53.7" cy="482.59" r="1.5"/><circle cx="25.5" cy="480.52" r="1.5"/><circle cx="28.25" cy="480.52" r="1.5"/><circle cx="30.32" cy="482.59" r="1.5"/><circle cx="25.5" cy="488.09" r="1.5"/><circle cx="29.4" cy="423" r="1.5"/><circle cx="35" cy="429.6" r="1.5"/><circle cx="43" cy="426" r="1.5"/><circle cx="53" cy="441" r="1.5"/><circle cx="51.4" cy="447.4" r="1.5"/><circle cx="39.4" cy="453.4" r="1.5"/><circle cx="44" cy="465.4" r="1.5"/><circle cx="39" cy="470.6" r="1.5"/><circle cx="43.6" cy="471" r="1.5"/><circle cx="43" cy="475" r="1.5"/><circle cx="53.6" cy="482" r="1.5"/><circle cx="102" cy="493" r="1.5"/><circle cx="25.4" cy="482" r="1.5"/><circle cx="25.4" cy="490.6" r="1.5"/><circle cx="30" cy="482" r="1.5"/></g><g fill="#8B93FF"><circle cx="27.4" cy="434.62" r="1.5"/><circle cx="37.39" cy="432.88" r="1.5"/><circle cx="26.45" cy="438.77" r="1.5"/><circle cx="26.91" cy="449.12" r="1.5"/><circle cx="25.02" cy="457.71" r="1.5"/><circle cx="30.87" cy="464.69" r="1.5"/><circle cx="29.17" cy="468.19" r="1.5"/><circle cx="28.43" cy="473.72" r="1.5"/><circle cx="30.13" cy="473.97" r="1.5"/><circle cx="53.3" cy="478.67" r="1.5"/><circle cx="26.93" cy="409.02" r="1.5"/><circle cx="38.9" cy="453" r="1.5"/><circle cx="99.56" cy="488.74" r="1.5"/><circle cx="53.7" cy="434.44" r="1.5"/><circle cx="25.5" cy="436.23" r="1.5"/><circle cx="33.07" cy="471.99" r="1.5"/><circle cx="25.5" cy="485.34" r="1.5"/><circle cx="53.6" cy="434.4" r="1.5"/><circle cx="99.4" cy="491" r="1.5"/><circle cx="25.4" cy="488" r="1.5"/></g><g fill="#F266E6"><circle cx="29.14" cy="426.56" r="1.5"/><circle cx="30.22" cy="438.3" r="1.5"/><circle cx="36.9" cy="441.67" r="1.5"/><circle cx="44.26" cy="443.23" r="1.5"/><circle cx="30.81" cy="444.82" r="1.5"/><circle cx="26.94" cy="445.97" r="1.5"/><circle cx="28.66" cy="451.49" r="1.5"/><circle cx="33.1" cy="451.94" r="1.5"/><circle cx="32.93" cy="455.69" r="1.5"/><circle cx="25.31" cy="464.14" r="1.5"/><circle cx="37.67" cy="465.79" r="1.5"/><circle cx="26.58" cy="467.29" r="1.5"/><circle cx="44.69" cy="472.1" r="1.5"/><circle cx="27.56" cy="478.26" r="1.5"/><circle cx="53.71" cy="480.46" r="1.5"/><circle cx="34.15" cy="427.44" r="1.5"/><circle cx="43.74" cy="432.58" r="1.5"/><circle cx="38.98" cy="451.84" r="1.5"/><circle cx="43.98" cy="455.05" r="1.5"/><circle cx="41.02" cy="459.46" r="1.5"/><circle cx="25.48" cy="484.98" r="1.5"/><circle cx="25.5" cy="429.63" r="1.5"/><circle cx="39.26" cy="470.21" r="1.5"/><circle cx="25.5" cy="472.96" r="1.5"/></g><g fill="#FF63B6"><circle cx="28.7" cy="420.41" r="1.5"/><circle cx="28.63" cy="427.71" r="1.5"/><circle cx="34.6" cy="427.8" r="1.5"/><circle cx="34.17" cy="426.86" r="1.5"/><circle cx="43.43" cy="428.75" r="1.5"/><circle cx="25.38" cy="434.68" r="1.5"/><circle cx="27.35" cy="433.53" r="1.5"/><circle cx="31.72" cy="435.5" r="1.5"/><circle cx="31.76" cy="435.67" r="1.5"/><circle cx="37.49" cy="431.73" r="1.5"/><circle cx="43.47" cy="433.16" r="1.5"/><circle cx="43.53" cy="433.88" r="1.5"/><circle cx="53.51" cy="433.66" r="1.5"/><circle cx="28.4" cy="437.86" r="1.5"/><circle cx="27.98" cy="438.6" r="1.5"/><circle cx="30.18" cy="437.57" r="1.5"/><circle cx="26.99" cy="439.9" r="1.5"/><circle cx="25.65" cy="440.9" r="1.5"/><circle cx="36.59" cy="443.61" r="1.5"/><circle cx="53.15" cy="439.35" r="1.5"/><circle cx="53.06" cy="442.18" r="1.5"/><circle cx="28.5" cy="445.04" r="1.5"/><circle cx="28.26" cy="443.66" r="1.5"/><circle cx="31.25" cy="445.27" r="1.5"/><circle cx="31.27" cy="449.23" r="1.5"/><circle cx="51" cy="446.53" r="1.5"/><circle cx="26.21" cy="450.25" r="1.5"/><circle cx="28.37" cy="451.78" r="1.5"/><circle cx="28.06" cy="450.24" r="1.5"/><circle cx="30.64" cy="448.85" r="1.5"/><circle cx="32.8" cy="452.44" r="1.5"/><circle cx="39.6" cy="450.84" r="1.5"/><circle cx="39.27" cy="451.93" r="1.5"/><circle cx="26.11" cy="453.27" r="1.5"/><circle cx="28.73" cy="454.03" r="1.5"/><circle cx="31.27" cy="454.55" r="1.5"/><circle cx="25.65" cy="457.22" r="1.5"/><circle cx="28.11" cy="457.53" r="1.5"/><circle cx="33.02" cy="456.43" r="1.5"/><circle cx="30.26" cy="459.33" r="1.5"/><circle cx="29.77" cy="460.53" r="1.5"/><circle cx="33.43" cy="459.72" r="1.5"/><circle cx="40.97" cy="460.84" r="1.5"/><circle cx="26.72" cy="462.8" r="1.5"/><circle cx="29.13" cy="462.28" r="1.5"/><circle cx="25.48" cy="464.25" r="1.5"/><circle cx="31.5" cy="465.8" r="1.5"/><circle cx="38.16" cy="464.26" r="1.5"/><circle cx="43.94" cy="464.52" r="1.5"/><circle cx="44.07" cy="464.62" r="1.5"/><circle cx="25.77" cy="468.76" r="1.5"/><circle cx="26.1" cy="469.08" r="1.5"/><circle cx="28.84" cy="468.25" r="1.5"/><circle cx="36.61" cy="467.4" r="1.5"/><circle cx="25.63" cy="470.71" r="1.5"/><circle cx="25.94" cy="469.87" r="1.5"/><circle cx="28.4" cy="469.97" r="1.5"/><circle cx="28.52" cy="470.16" r="1.5"/><circle cx="33.37" cy="468.51" r="1.5"/><circle cx="32.52" cy="470.77" r="1.5"/><circle cx="43.66" cy="472.38" r="1.5"/><circle cx="27.56" cy="473.4" r="1.5"/><circle cx="30.63" cy="473.12" r="1.5"/><circle cx="36.36" cy="473.82" r="1.5"/><circle cx="36.35" cy="473.92" r="1.5"/><circle cx="25.9" cy="475.68" r="1.5"/><circle cx="29.03" cy="476.28" r="1.5"/><circle cx="28.54" cy="475.81" r="1.5"/><circle cx="25.68" cy="479.16" r="1.5"/><circle cx="27.64" cy="479.31" r="1.5"/><circle cx="53.82" cy="478.29" r="1.5"/><circle cx="53.84" cy="478.67" r="1.5"/><circle cx="54.04" cy="481.23" r="1.5"/><circle cx="53.76" cy="482.17" r="1.5"/><circle cx="27.15" cy="410.7" r="1.5"/><circle cx="34.53" cy="426.84" r="1.5"/><circle cx="44.21" cy="427.8" r="1.5"/><circle cx="43.54" cy="433.31" r="1.5"/><circle cx="43.19" cy="434.45" r="1.5"/><circle cx="37.84" cy="432.61" r="1.5"/><circle cx="37.56" cy="432.1" r="1.5"/><circle cx="37.48" cy="437.17" r="1.5"/><circle cx="53.83" cy="433.27" r="1.5"/><circle cx="52.9" cy="440.18" r="1.5"/><circle cx="44.43" cy="443.78" r="1.5"/><circle cx="66.01" cy="449.39" r="1.5"/><circle cx="114.89" cy="454.55" r="1.5"/><circle cx="78.94" cy="459.41" r="1.5"/><circle cx="43.84" cy="455.03" r="1.5"/><circle cx="44.32" cy="453.86" r="1.5"/><circle cx="41.05" cy="459.66" r="1.5"/><circle cx="40.49" cy="461.57" r="1.5"/><circle cx="43.41" cy="464.48" r="1.5"/><circle cx="43.61" cy="465.19" r="1.5"/><circle cx="39.05" cy="468.56" r="1.5"/><circle cx="43.08" cy="474.15" r="1.5"/><circle cx="36.02" cy="474.26" r="1.5"/><circle cx="36.12" cy="472.59" r="1.5"/><circle cx="52.98" cy="481.58" r="1.5"/><circle cx="53.44" cy="481.93" r="1.5"/><circle cx="99.75" cy="489.6" r="1.5"/><circle cx="25.18" cy="485.08" r="1.5"/></g><g fill="#FB6593"><circle cx="28.94" cy="421.38" r="1.5"/><circle cx="28.94" cy="426.88" r="1.5"/><circle cx="34.44" cy="426.88" r="1.5"/><circle cx="43.11" cy="427.57" r="1.5"/><circle cx="43.38" cy="429.63" r="1.5"/><circle cx="25.5" cy="433.07" r="1.5"/><circle cx="27.57" cy="433.76" r="1.5"/><circle cx="31.69" cy="435.13" r="1.5"/><circle cx="37.19" cy="431.69" r="1.5"/><circle cx="43.38" cy="433.07" r="1.5"/><circle cx="53.7" cy="433.07" r="1.5"/><circle cx="28.25" cy="437.19" r="1.5"/><circle cx="30.32" cy="437.88" r="1.5"/><circle cx="26.88" cy="439.26" r="1.5"/><circle cx="25.5" cy="441.32" r="1.5"/><circle cx="31.69" cy="442.01" r="1.5"/><circle cx="36.51" cy="441.32" r="1.5"/><circle cx="36.51" cy="443.11" r="1.5"/><circle cx="43.66" cy="442.7" r="1.5"/><circle cx="53.01" cy="439.26" r="1.5"/><circle cx="53.01" cy="441.32" r="1.5"/><circle cx="28.25" cy="444.76" r="1.5"/><circle cx="31" cy="445.45" r="1.5"/><circle cx="26.19" cy="447.51" r="1.5"/><circle cx="31.69" cy="447.51" r="1.5"/><circle cx="50.95" cy="446.13" r="1.5"/><circle cx="25.5" cy="450.26" r="1.5"/><circle cx="28.25" cy="450.95" r="1.5"/><circle cx="31" cy="450.54" r="1.5"/><circle cx="33.07" cy="451.64" r="1.5"/><circle cx="39.26" cy="451.64" r="1.5"/><circle cx="43.66" cy="453.01" r="1.5"/><circle cx="26.19" cy="453.7" r="1.5"/><circle cx="28.94" cy="454.11" r="1.5"/><circle cx="31.69" cy="454.39" r="1.5"/><circle cx="25.5" cy="456.45" r="1.5"/><circle cx="28.25" cy="457.14" r="1.5"/><circle cx="33.07" cy="456.04" r="1.5"/><circle cx="30.32" cy="459.61" r="1.5"/><circle cx="33.07" cy="459.2" r="1.5"/><circle cx="41.32" cy="459.89" r="1.5"/><circle cx="26.19" cy="461.95" r="1.5"/><circle cx="28.94" cy="462.64" r="1.5"/><circle cx="25.5" cy="464.7" r="1.5"/><circle cx="31" cy="465.12" r="1.5"/><circle cx="37.88" cy="464.7" r="1.5"/><circle cx="43.66" cy="464.02" r="1.5"/><circle cx="26.19" cy="467.46" r="1.5"/><circle cx="29.63" cy="467.46" r="1.5"/><circle cx="36.51" cy="467.46" r="1.5"/><circle cx="25.5" cy="470.21" r="1.5"/><circle cx="28.25" cy="470.21" r="1.5"/><circle cx="33.07" cy="470.21" r="1.5"/><circle cx="43.66" cy="472.96" r="1.5"/><circle cx="28.25" cy="472.96" r="1.5"/><circle cx="30.32" cy="472.96" r="1.5"/><circle cx="36.51" cy="473.65" r="1.5"/><circle cx="26.19" cy="475.71" r="1.5"/><circle cx="28.94" cy="475.71" r="1.5"/><circle cx="25.5" cy="478.46" r="1.5"/><circle cx="27.57" cy="477.77" r="1.5"/><circle cx="53.7" cy="479.15" r="1.5"/><circle cx="53.7" cy="481.21" r="1.5"/><circle cx="25.5" cy="482.59" r="1.5"/><circle cx="27" cy="409.4" r="1.5"/><circle cx="29" cy="420" r="1.5"/><circle cx="28.6" cy="427" r="1.5"/><circle cx="34.4" cy="427" r="1.5"/><circle cx="43.6" cy="428" r="1.5"/><circle cx="43.6" cy="433" r="1.5"/><circle cx="37.6" cy="432" r="1.5"/><circle cx="37.6" cy="435" r="1.5"/><circle cx="53.6" cy="433" r="1.5"/><circle cx="53" cy="439.6" r="1.5"/><circle cx="44" cy="443" r="1.5"/><circle cx="51" cy="446.6" r="1.5"/><circle cx="66.4" cy="449.6" r="1.5"/><circle cx="115" cy="453" r="1.5"/><circle cx="79.6" cy="457.8" r="1.5"/><circle cx="39" cy="452" r="1.5"/><circle cx="44" cy="454" r="1.5"/><circle cx="41" cy="460" r="1.5"/><circle cx="43.6" cy="464.6" r="1.5"/><circle cx="37.6" cy="466" r="1.5"/><circle cx="39" cy="469" r="1.5"/><circle cx="43.6" cy="474" r="1.5"/><circle cx="36.4" cy="473.4" r="1.5"/><circle cx="53.4" cy="479.4" r="1.5"/><circle cx="53" cy="481" r="1.5"/><circle cx="99.4" cy="489" r="1.5"/><circle cx="25.4" cy="485" r="1.5"/></g></g>
<g><g fill="#EA8331"><circle cx="144" cy="300.4" r="1.5"/></g><g fill="#ABA300"><circle cx="178" cy="269" r="1.5"/><circle cx="179" cy="270" r="1.5"/><circle cx="206" cy="269.6" r="1.5"/><circle cx="161.6" cy="279.6" r="1.5"/><circle cx="156" cy="291" r="1.5"/></g><g fill="#00BE8A"><circle cx="187.43" cy="217.76" r="1.5"/><circle cx="160.63" cy="239.99" r="1.5"/><circle cx="151.74" cy="250.07" r="1.5"/><circle cx="178.48" cy="254.27" r="1.5"/><circle cx="188.43" cy="254.24" r="1.5"/><circle cx="154.16" cy="256.49" r="1.5"/><circle cx="144.93" cy="260.85" r="1.5"/><circle cx="165.65" cy="263.17" r="1.5"/><circle cx="159.87" cy="270.48" r="1.5"/><circle cx="149.23" cy="283.22" r="1.5"/><circle cx="156.08" cy="292.48" r="1.5"/><circle cx="142.33" cy="300.42" r="1.5"/><circle cx="184.4" cy="226.4" r="1.5"/><circle cx="160" cy="264" r="1.5"/><circle cx="144" cy="267" r="1.5"/><circle cx="142" cy="269" r="1.5"/><circle cx="140.6" cy="272" r="1.5"/><circle cx="175" cy="285.6" r="1.5"/><circle cx="177" cy="285.6" r="1.5"/><circle cx="158" cy="289" r="1.5"/></g><g fill="#0FA6FA"><circle cx="170.67" cy="226.68" r="1.5"/><circle cx="182.93" cy="227.98" r="1.5"/><circle cx="164.74" cy="243.18" r="1.5"/><circle cx="167.7" cy="243.39" r="1.5"/><circle cx="189" cy="242.42" r="1.5"/><circle cx="215.11" cy="238.83" r="1.5"/><circle cx="194.56" cy="247.05" r="1.5"/><circle cx="190.34" cy="249.79" r="1.5"/><circle cx="169.75" cy="251.83" r="1.5"/><circle cx="127.55" cy="252.06" r="1.5"/><circle cx="128.99" cy="251.21" r="1.5"/><circle cx="127.9" cy="256.03" r="1.5"/><circle cx="152.49" cy="251.14" r="1.5"/><circle cx="151.93" cy="250.69" r="1.5"/><circle cx="204" cy="252.77" r="1.5"/><circle cx="180.31" cy="255.43" r="1.5"/><circle cx="181.28" cy="258.44" r="1.5"/><circle cx="140.23" cy="259.54" r="1.5"/><circle cx="144.01" cy="260.25" r="1.5"/><circle cx="159.18" cy="262.07" r="1.5"/><circle cx="165.08" cy="260.64" r="1.5"/><circle cx="165.13" cy="262.86" r="1.5"/><circle cx="177.1" cy="264.17" r="1.5"/><circle cx="185.59" cy="265.76" r="1.5"/><circle cx="160.67" cy="268.35" r="1.5"/><circle cx="159.41" cy="267.45" r="1.5"/><circle cx="161.8" cy="270.23" r="1.5"/><circle cx="172.54" cy="268.7" r="1.5"/><circle cx="172.39" cy="267.11" r="1.5"/><circle cx="182.95" cy="269.21" r="1.5"/><circle cx="191.93" cy="270.19" r="1.5"/><circle cx="184.79" cy="272.73" r="1.5"/><circle cx="189.86" cy="274.78" r="1.5"/><circle cx="142.33" cy="274.89" r="1.5"/><circle cx="147.95" cy="272.46" r="1.5"/><circle cx="149.19" cy="273.03" r="1.5"/><circle cx="159.5" cy="276.73" r="1.5"/><circle cx="178.08" cy="277.71" r="1.5"/><circle cx="140.43" cy="281.31" r="1.5"/><circle cx="148.07" cy="282.77" r="1.5"/><circle cx="147.57" cy="282.93" r="1.5"/><circle cx="158.28" cy="280.39" r="1.5"/><circle cx="175.33" cy="281.04" r="1.5"/><circle cx="185.31" cy="280.59" r="1.5"/><circle cx="186.18" cy="282.32" r="1.5"/><circle cx="191.6" cy="279.27" r="1.5"/><circle cx="191.15" cy="279.27" r="1.5"/><circle cx="156.52" cy="287.29" r="1.5"/><circle cx="182.41" cy="286.56" r="1.5"/><circle cx="147.32" cy="288.23" r="1.5"/><circle cx="155.01" cy="290.76" r="1.5"/><circle cx="192.95" cy="291.73" r="1.5"/><circle cx="145.07" cy="297.93" r="1.5"/><circle cx="145.31" cy="302.44" r="1.5"/><circle cx="183" cy="226.4" r="1.5"/><circle cx="166" cy="240" r="1.5"/><circle cx="186" cy="239.6" r="1.5"/><circle cx="185.6" cy="243.6" r="1.5"/><circle cx="192" cy="247.6" r="1.5"/><circle cx="170" cy="249.6" r="1.5"/><circle cx="204.4" cy="253.2" r="1.5"/><circle cx="179.6" cy="258" r="1.5"/><circle cx="140" cy="258.6" r="1.5"/><circle cx="149" cy="261" r="1.5"/><circle cx="133.6" cy="268" r="1.5"/><circle cx="166" cy="268" r="1.5"/><circle cx="135.6" cy="275" r="1.5"/><circle cx="158" cy="273" r="1.5"/><circle cx="158.6" cy="275" r="1.5"/><circle cx="172.4" cy="274" r="1.5"/><circle cx="181" cy="278" r="1.5"/><circle cx="145" cy="278" r="1.5"/><circle cx="169.4" cy="279" r="1.5"/><circle cx="188.4" cy="281" r="1.5"/><circle cx="171" cy="282" r="1.5"/><circle cx="170" cy="286" r="1.5"/><circle cx="144.6" cy="288" r="1.5"/><circle cx="148" cy="291" r="1.5"/><circle cx="150" cy="292" r="1.5"/><circle cx="152" cy="293" r="1.5"/><circle cx="186.4" cy="291" r="1.5"/><circle cx="140" cy="298.4" r="1.5"/></g><g fill="#8B93FF"><circle cx="215.19" cy="238.98" r="1.5"/><circle cx="149.83" cy="261.92" r="1.5"/><circle cx="148.11" cy="263.34" r="1.5"/><circle cx="177.28" cy="264.81" r="1.5"/><circle cx="180.04" cy="272.66" r="1.5"/><circle cx="176.55" cy="276.59" r="1.5"/><circle cx="154.61" cy="285.87" r="1.5"/><circle cx="166.6" cy="236" r="1.5"/><circle cx="217.6" cy="239.6" r="1.5"/><circle cx="133.6" cy="263" r="1.5"/><circle cx="203.6" cy="270.6" r="1.5"/><circle cx="151" cy="275" r="1.5"/><circle cx="160.6" cy="282" r="1.5"/></g><g fill="#F266E6"><circle cx="182.91" cy="229.47" r="1.5"/><circle cx="165.3" cy="243.4" r="1.5"/><circle cx="126.64" cy="254.68" r="1.5"/><circle cx="204.83" cy="253.15" r="1.5"/><circle cx="181.69" cy="253.43" r="1.5"/><circle cx="158.48" cy="259.6" r="1.5"/><circle cx="158.84" cy="261.92" r="1.5"/><circle cx="176.91" cy="263.72" r="1.5"/><circle cx="185.6" cy="265.54" r="1.5"/><circle cx="172.44" cy="268.06" r="1.5"/><circle cx="187.77" cy="270.3" r="1.5"/><circle cx="191.58" cy="270.01" r="1.5"/><circle cx="146.96" cy="273.44" r="1.5"/><circle cx="181.81" cy="278.98" r="1.5"/><circle cx="146.66" cy="277.8" r="1.5"/><circle cx="169.79" cy="284.35" r="1.5"/><circle cx="153.65" cy="287.08" r="1.5"/><circle cx="172.21" cy="285.44" r="1.5"/><circle cx="142.11" cy="300.68" r="1.5"/><circle cx="148" cy="251" r="1.5"/><circle cx="141.6" cy="261" r="1.5"/><circle cx="149" cy="269" r="1.5"/><circle cx="153" cy="275.6" r="1.5"/><circle cx="155" cy="281" r="1.5"/><circle cx="169.6" cy="288" r="1.5"/></g><g fill="#FF63B6"><circle cx="188.08" cy="216.98" r="1.5"/><circle cx="186.63" cy="217.2" r="1.5"/><circle cx="186.47" cy="219.84" r="1.5"/><circle cx="170.91" cy="227.19" r="1.5"/><circle cx="169.93" cy="226.98" r="1.5"/><circle cx="183.35" cy="229.59" r="1.5"/><circle cx="165.6" cy="242.87" r="1.5"/><circle cx="165.32" cy="243.12" r="1.5"/><circle cx="168.54" cy="242.82" r="1.5"/><circle cx="215.08" cy="239.93" r="1.5"/><circle cx="215.26" cy="239.42" r="1.5"/><circle cx="189.84" cy="249.93" r="1.5"/><circle cx="189.56" cy="249.1" r="1.5"/><circle cx="171.4" cy="250.86" r="1.5"/><circle cx="126.44" cy="250.96" r="1.5"/><circle cx="128.57" cy="256.02" r="1.5"/><circle cx="151.55" cy="250.97" r="1.5"/><circle cx="202.96" cy="252.3" r="1.5"/><circle cx="182.73" cy="253.9" r="1.5"/><circle cx="181.83" cy="252.14" r="1.5"/><circle cx="179.6" cy="255.68" r="1.5"/><circle cx="187.31" cy="254.07" r="1.5"/><circle cx="189.71" cy="255.07" r="1.5"/><circle cx="155.8" cy="256.43" r="1.5"/><circle cx="199.78" cy="257.54" r="1.5"/><circle cx="181.15" cy="257.87" r="1.5"/><circle cx="141" cy="259.73" r="1.5"/><circle cx="145.13" cy="260.38" r="1.5"/><circle cx="147.47" cy="262.63" r="1.5"/><circle cx="148.62" cy="263.76" r="1.5"/><circle cx="157.82" cy="260.32" r="1.5"/><circle cx="159.05" cy="262.32" r="1.5"/><circle cx="163.9" cy="260.03" r="1.5"/><circle cx="165.11" cy="263.34" r="1.5"/><circle cx="196.61" cy="264.97" r="1.5"/><circle cx="196.73" cy="264.48" r="1.5"/><circle cx="185.09" cy="265.94" r="1.5"/><circle cx="185.2" cy="266.28" r="1.5"/><circle cx="160.48" cy="267.53" r="1.5"/><circle cx="159.66" cy="266.81" r="1.5"/><circle cx="162.02" cy="270.36" r="1.5"/><circle cx="167.77" cy="270.16" r="1.5"/><circle cx="187.28" cy="271.41" r="1.5"/><circle cx="192.69" cy="271.26" r="1.5"/><circle cx="192.02" cy="270.6" r="1.5"/><circle cx="180.55" cy="272.85" r="1.5"/><circle cx="184.28" cy="273.16" r="1.5"/><circle cx="205.39" cy="270.2" r="1.5"/><circle cx="141.45" cy="275.14" r="1.5"/><circle cx="147.41" cy="272.35" r="1.5"/><circle cx="146.4" cy="273.94" r="1.5"/><circle cx="178.37" cy="277.37" r="1.5"/><circle cx="182.36" cy="279.91" r="1.5"/><circle cx="146.09" cy="276.8" r="1.5"/><circle cx="140.04" cy="281.4" r="1.5"/><circle cx="147.31" cy="282.64" r="1.5"/><circle cx="158.82" cy="280.76" r="1.5"/><circle cx="157.55" cy="280.32" r="1.5"/><circle cx="161.38" cy="279.41" r="1.5"/><circle cx="166.61" cy="279.1" r="1.5"/><circle cx="166.53" cy="278.64" r="1.5"/><circle cx="174.65" cy="279.97" r="1.5"/><circle cx="174.92" cy="279.88" r="1.5"/><circle cx="186.39" cy="281.07" r="1.5"/><circle cx="188.17" cy="278.54" r="1.5"/><circle cx="170.45" cy="283.62" r="1.5"/><circle cx="169.31" cy="284.04" r="1.5"/><circle cx="151.48" cy="286.75" r="1.5"/><circle cx="154.36" cy="287.06" r="1.5"/><circle cx="171.72" cy="286.3" r="1.5"/><circle cx="172.55" cy="286.21" r="1.5"/><circle cx="182.94" cy="286.25" r="1.5"/><circle cx="146.81" cy="288.95" r="1.5"/><circle cx="155.4" cy="290.28" r="1.5"/><circle cx="155.28" cy="290.88" r="1.5"/><circle cx="156.75" cy="292.4" r="1.5"/><circle cx="193.16" cy="291.5" r="1.5"/><circle cx="152.71" cy="295.78" r="1.5"/><circle cx="151.22" cy="295.81" r="1.5"/><circle cx="152.39" cy="295.17" r="1.5"/><circle cx="143.87" cy="298.15" r="1.5"/><circle cx="143.45" cy="300.71" r="1.5"/></g><g fill="#FB6593"><circle cx="187.4" cy="217.6" r="1.5"/><circle cx="187.4" cy="219.6" r="1.5"/><circle cx="170.4" cy="226.4" r="1.5"/><circle cx="183" cy="228.4" r="1.5"/><circle cx="160.6" cy="239.6" r="1.5"/><circle cx="165" cy="242.6" r="1.5"/><circle cx="167" cy="242.6" r="1.5"/><circle cx="189" cy="242" r="1.5"/><circle cx="214.6" cy="239.6" r="1.5"/><circle cx="195" cy="246" r="1.5"/><circle cx="189.6" cy="249" r="1.5"/><circle cx="170.6" cy="251" r="1.5"/><circle cx="127.4" cy="250" r="1.5"/><circle cx="127.4" cy="255.6" r="1.5"/><circle cx="151.4" cy="251" r="1.5"/><circle cx="204" cy="252.6" r="1.5"/><circle cx="182" cy="253" r="1.5"/><circle cx="180" cy="255" r="1.5"/><circle cx="188" cy="253.6" r="1.5"/><circle cx="189" cy="255" r="1.5"/><circle cx="156" cy="255.6" r="1.5"/><circle cx="199.6" cy="256" r="1.5"/><circle cx="181" cy="258.6" r="1.5"/><circle cx="142" cy="259.6" r="1.5"/><circle cx="145" cy="259.6" r="1.5"/><circle cx="150" cy="262" r="1.5"/><circle cx="148" cy="263" r="1.5"/><circle cx="158" cy="259" r="1.5"/><circle cx="158.6" cy="262" r="1.5"/><circle cx="164.4" cy="260.4" r="1.5"/><circle cx="165" cy="263" r="1.5"/><circle cx="196.6" cy="263.6" r="1.5"/><circle cx="177.6" cy="264.4" r="1.5"/><circle cx="185" cy="265" r="1.5"/><circle cx="149" cy="266" r="1.5"/><circle cx="160" cy="267" r="1.5"/><circle cx="161" cy="270" r="1.5"/><circle cx="167" cy="269" r="1.5"/><circle cx="172.4" cy="267.6" r="1.5"/><circle cx="183" cy="269" r="1.5"/><circle cx="187" cy="270" r="1.5"/><circle cx="192" cy="270" r="1.5"/><circle cx="180" cy="272" r="1.5"/><circle cx="184" cy="273" r="1.5"/><circle cx="190" cy="274" r="1.5"/><circle cx="205" cy="269.6" r="1.5"/><circle cx="141" cy="274" r="1.5"/><circle cx="148" cy="273" r="1.5"/><circle cx="161" cy="275.6" r="1.5"/><circle cx="178" cy="277" r="1.5"/><circle cx="182" cy="279" r="1.5"/><circle cx="146.6" cy="278" r="1.5"/><circle cx="140" cy="281" r="1.5"/><circle cx="148" cy="282" r="1.5"/><circle cx="158" cy="280" r="1.5"/><circle cx="161" cy="279" r="1.5"/><circle cx="167" cy="279" r="1.5"/><circle cx="175" cy="280" r="1.5"/><circle cx="186" cy="281" r="1.5"/><circle cx="188.4" cy="278.4" r="1.5"/><circle cx="192" cy="279" r="1.5"/><circle cx="170.4" cy="283.6" r="1.5"/><circle cx="153" cy="286" r="1.5"/><circle cx="154.6" cy="286.6" r="1.5"/><circle cx="172" cy="285" r="1.5"/><circle cx="182.6" cy="286" r="1.5"/><circle cx="147" cy="288" r="1.5"/><circle cx="155" cy="290" r="1.5"/><circle cx="156" cy="293" r="1.5"/><circle cx="193.4" cy="291" r="1.5"/><circle cx="151.6" cy="296" r="1.5"/><circle cx="153" cy="295" r="1.5"/><circle cx="144" cy="298" r="1.5"/><circle cx="142.4" cy="300" r="1.5"/><circle cx="146" cy="302" r="1.5"/></g></g>
<g><g fill="#EA8331"><circle cx="133.6" cy="390.4" r="1.5"/></g><g fill="#ABA300"><circle cx="159" cy="313.6" r="1.5"/><circle cx="206" cy="348.6" r="1.5"/><circle cx="177.6" cy="355" r="1.5"/><circle cx="154.6" cy="358.4" r="1.5"/><circle cx="179" cy="364" r="1.5"/><circle cx="188" cy="373" r="1.5"/></g><g fill="#00BE8A"><circle cx="169.43" cy="335.83" r="1.5"/><circle cx="192.66" cy="334.34" r="1.5"/><circle cx="188.09" cy="339.49" r="1.5"/><circle cx="161.03" cy="337.81" r="1.5"/><circle cx="151.99" cy="340.81" r="1.5"/><circle cx="204.4" cy="345.46" r="1.5"/><circle cx="204.88" cy="346.35" r="1.5"/><circle cx="195.89" cy="350.42" r="1.5"/><circle cx="200.13" cy="354.8" r="1.5"/><circle cx="200.56" cy="353.6" r="1.5"/><circle cx="174.62" cy="368.37" r="1.5"/><circle cx="179.52" cy="373.76" r="1.5"/><circle cx="152" cy="332" r="1.5"/><circle cx="214.6" cy="337.6" r="1.5"/><circle cx="162" cy="339" r="1.5"/><circle cx="171" cy="342.6" r="1.5"/><circle cx="146.6" cy="341.6" r="1.5"/><circle cx="199.6" cy="360" r="1.5"/><circle cx="162" cy="353" r="1.5"/><circle cx="142" cy="371" r="1.5"/><circle cx="175" cy="362" r="1.5"/><circle cx="197" cy="364.6" r="1.5"/><circle cx="196" cy="368" r="1.5"/><circle cx="192.6" cy="369" r="1.5"/><circle cx="159.6" cy="371" r="1.5"/><circle cx="176" cy="379" r="1.5"/></g><g fill="#0FA6FA"><circle cx="154.48" cy="316.83" r="1.5"/><circle cx="159.75" cy="320.85" r="1.5"/><circle cx="161.16" cy="319.1" r="1.5"/><circle cx="161.85" cy="324.14" r="1.5"/><circle cx="141.62" cy="328.76" r="1.5"/><circle cx="145.81" cy="331.39" r="1.5"/><circle cx="147.35" cy="330.88" r="1.5"/><circle cx="171.11" cy="334.74" r="1.5"/><circle cx="172.13" cy="338.14" r="1.5"/><circle cx="191.36" cy="338.14" r="1.5"/><circle cx="188.46" cy="337.82" r="1.5"/><circle cx="186.83" cy="337.66" r="1.5"/><circle cx="165.38" cy="335.33" r="1.5"/><circle cx="179.82" cy="334.5" r="1.5"/><circle cx="179.23" cy="337.11" r="1.5"/><circle cx="169.96" cy="339.87" r="1.5"/><circle cx="151.82" cy="341.82" r="1.5"/><circle cx="156.6" cy="344.13" r="1.5"/><circle cx="178.03" cy="341.13" r="1.5"/><circle cx="179.07" cy="341.23" r="1.5"/><circle cx="204.86" cy="345.15" r="1.5"/><circle cx="205.27" cy="346.16" r="1.5"/><circle cx="203.56" cy="347.8" r="1.5"/><circle cx="203.41" cy="349.51" r="1.5"/><circle cx="148.42" cy="347.75" r="1.5"/><circle cx="181.51" cy="347.58" r="1.5"/><circle cx="181.51" cy="345.36" r="1.5"/><circle cx="188.5" cy="348.04" r="1.5"/><circle cx="195.3" cy="353.78" r="1.5"/><circle cx="199.92" cy="353.82" r="1.5"/><circle cx="200.5" cy="353.41" r="1.5"/><circle cx="154.43" cy="353.62" r="1.5"/><circle cx="169.39" cy="355.49" r="1.5"/><circle cx="172.86" cy="356.45" r="1.5"/><circle cx="183.11" cy="353.7" r="1.5"/><circle cx="182.95" cy="350.92" r="1.5"/><circle cx="182.64" cy="354.5" r="1.5"/><circle cx="184.72" cy="356.43" r="1.5"/><circle cx="184.6" cy="356.36" r="1.5"/><circle cx="188.18" cy="358.19" r="1.5"/><circle cx="186.73" cy="356.67" r="1.5"/><circle cx="151.95" cy="357.21" r="1.5"/><circle cx="161.23" cy="356.67" r="1.5"/><circle cx="139.8" cy="359.7" r="1.5"/><circle cx="141.45" cy="361.06" r="1.5"/><circle cx="147.1" cy="366.66" r="1.5"/><circle cx="145.86" cy="369.24" r="1.5"/><circle cx="144.61" cy="369.83" r="1.5"/><circle cx="172.47" cy="366.92" r="1.5"/><circle cx="183.67" cy="361.4" r="1.5"/><circle cx="184.04" cy="361.59" r="1.5"/><circle cx="187.42" cy="367.11" r="1.5"/><circle cx="181.63" cy="370.04" r="1.5"/><circle cx="181.93" cy="371.8" r="1.5"/><circle cx="179.32" cy="374.02" r="1.5"/><circle cx="191.08" cy="375.17" r="1.5"/><circle cx="165.04" cy="376.52" r="1.5"/><circle cx="180.86" cy="377.65" r="1.5"/><circle cx="182.98" cy="378.27" r="1.5"/><circle cx="160.23" cy="385.52" r="1.5"/><circle cx="127.95" cy="389.57" r="1.5"/><circle cx="162" cy="316" r="1.5"/><circle cx="150.6" cy="334" r="1.5"/><circle cx="151" cy="337" r="1.5"/><circle cx="182" cy="329.6" r="1.5"/><circle cx="192.6" cy="333.6" r="1.5"/><circle cx="187" cy="340.4" r="1.5"/><circle cx="158" cy="335.6" r="1.5"/><circle cx="164" cy="340" r="1.5"/><circle cx="168" cy="348" r="1.5"/><circle cx="169" cy="349" r="1.5"/><circle cx="154.6" cy="348" r="1.5"/><circle cx="180" cy="348" r="1.5"/><circle cx="184" cy="347" r="1.5"/><circle cx="147.6" cy="353.6" r="1.5"/><circle cx="166.6" cy="354.6" r="1.5"/><circle cx="172.6" cy="357" r="1.5"/><circle cx="148" cy="358.4" r="1.5"/><circle cx="170" cy="359" r="1.5"/><circle cx="134.6" cy="364.6" r="1.5"/><circle cx="140" cy="372" r="1.5"/><circle cx="143.4" cy="373" r="1.5"/><circle cx="176" cy="364" r="1.5"/><circle cx="171" cy="369" r="1.5"/><circle cx="188" cy="362" r="1.5"/><circle cx="187" cy="366" r="1.5"/><circle cx="185" cy="370" r="1.5"/><circle cx="189" cy="370" r="1.5"/><circle cx="186" cy="376" r="1.5"/><circle cx="141" cy="375" r="1.5"/><circle cx="145" cy="376.4" r="1.5"/><circle cx="159.6" cy="373.6" r="1.5"/><circle cx="159" cy="379.6" r="1.5"/><circle cx="159.6" cy="382" r="1.5"/><circle cx="165" cy="379" r="1.5"/><circle cx="133.6" cy="397.6" r="1.5"/></g><g fill="#8B93FF"><circle cx="214.05" cy="329.56" r="1.5"/><circle cx="185.64" cy="339.84" r="1.5"/><circle cx="166.07" cy="337.57" r="1.5"/><circle cx="203.23" cy="349.27" r="1.5"/><circle cx="182.14" cy="351.48" r="1.5"/><circle cx="184.19" cy="357.87" r="1.5"/><circle cx="168" cy="316" r="1.5"/><circle cx="148.6" cy="318" r="1.5"/><circle cx="140" cy="320.6" r="1.5"/><circle cx="170" cy="325" r="1.5"/><circle cx="217.6" cy="337.6" r="1.5"/><circle cx="202" cy="340.6" r="1.5"/><circle cx="203" cy="343" r="1.5"/><circle cx="145" cy="363" r="1.5"/><circle cx="156.6" cy="362.6" r="1.5"/><circle cx="150" cy="369" r="1.5"/><circle cx="136.6" cy="368.6" r="1.5"/></g><g fill="#F266E6"><circle cx="150.5" cy="330.25" r="1.5"/><circle cx="164.44" cy="334.07" r="1.5"/><circle cx="172.06" cy="337.92" r="1.5"/><circle cx="214.27" cy="332.84" r="1.5"/><circle cx="179.1" cy="336.52" r="1.5"/><circle cx="171.17" cy="341.08" r="1.5"/><circle cx="180.06" cy="342.61" r="1.5"/><circle cx="164.88" cy="343.39" r="1.5"/><circle cx="202.37" cy="349.9" r="1.5"/><circle cx="164.55" cy="354.81" r="1.5"/><circle cx="182.83" cy="352.93" r="1.5"/><circle cx="183.12" cy="357.39" r="1.5"/><circle cx="186.57" cy="357.17" r="1.5"/><circle cx="146.72" cy="369.91" r="1.5"/><circle cx="173.31" cy="367.32" r="1.5"/><circle cx="178.37" cy="367.28" r="1.5"/><circle cx="178.25" cy="372.66" r="1.5"/><circle cx="156.03" cy="376.74" r="1.5"/><circle cx="159.91" cy="386.35" r="1.5"/><circle cx="127.16" cy="388.31" r="1.5"/><circle cx="146.6" cy="321.6" r="1.5"/><circle cx="188.4" cy="328.6" r="1.5"/><circle cx="173" cy="332" r="1.5"/><circle cx="184" cy="343" r="1.5"/><circle cx="147.6" cy="346" r="1.5"/><circle cx="187" cy="351.6" r="1.5"/><circle cx="143.6" cy="354" r="1.5"/><circle cx="192.6" cy="375.6" r="1.5"/><circle cx="185.6" cy="379" r="1.5"/><circle cx="139" cy="376" r="1.5"/><circle cx="157" cy="377.6" r="1.5"/><circle cx="127.4" cy="397.6" r="1.5"/></g><g fill="#FF63B6"><circle cx="161.17" cy="320.67" r="1.5"/><circle cx="160.72" cy="325.29" r="1.5"/><circle cx="139.19" cy="333.51" r="1.5"/><circle cx="147.69" cy="334.84" r="1.5"/><circle cx="152.42" cy="329.83" r="1.5"/><circle cx="180.74" cy="330.32" r="1.5"/><circle cx="166.06" cy="331.99" r="1.5"/><circle cx="165.57" cy="331.8" r="1.5"/><circle cx="166.24" cy="332.4" r="1.5"/><circle cx="171.53" cy="336.43" r="1.5"/><circle cx="171.56" cy="336.44" r="1.5"/><circle cx="171.25" cy="337.51" r="1.5"/><circle cx="215.34" cy="332.72" r="1.5"/><circle cx="192.81" cy="338.75" r="1.5"/><circle cx="188.41" cy="335.21" r="1.5"/><circle cx="186.14" cy="338.98" r="1.5"/><circle cx="191.42" cy="337.61" r="1.5"/><circle cx="188.52" cy="342.38" r="1.5"/><circle cx="189.18" cy="340.5" r="1.5"/><circle cx="161.09" cy="337.79" r="1.5"/><circle cx="179.19" cy="336.24" r="1.5"/><circle cx="179.21" cy="343.34" r="1.5"/><circle cx="169.85" cy="341.28" r="1.5"/><circle cx="156.7" cy="337.92" r="1.5"/><circle cx="151.91" cy="344.61" r="1.5"/><circle cx="178.75" cy="344.79" r="1.5"/><circle cx="178.06" cy="340.35" r="1.5"/><circle cx="178.54" cy="344.84" r="1.5"/><circle cx="165.88" cy="341.15" r="1.5"/><circle cx="204.07" cy="348.54" r="1.5"/><circle cx="203.14" cy="349.2" r="1.5"/><circle cx="159.26" cy="349.22" r="1.5"/><circle cx="180.93" cy="347.73" r="1.5"/><circle cx="186.81" cy="345.36" r="1.5"/><circle cx="187.78" cy="345.9" r="1.5"/><circle cx="182.89" cy="352.09" r="1.5"/><circle cx="195.51" cy="350.08" r="1.5"/><circle cx="195.54" cy="348.39" r="1.5"/><circle cx="200.76" cy="352.75" r="1.5"/><circle cx="200.3" cy="356.98" r="1.5"/><circle cx="200" cy="358.44" r="1.5"/><circle cx="152.87" cy="350.42" r="1.5"/><circle cx="154.22" cy="355.02" r="1.5"/><circle cx="164.88" cy="354.23" r="1.5"/><circle cx="165.67" cy="355.24" r="1.5"/><circle cx="169.36" cy="350.81" r="1.5"/><circle cx="170.26" cy="353.56" r="1.5"/><circle cx="171.7" cy="356.98" r="1.5"/><circle cx="172.92" cy="354.04" r="1.5"/><circle cx="183.58" cy="351.53" r="1.5"/><circle cx="184.27" cy="357.66" r="1.5"/><circle cx="182.76" cy="354.97" r="1.5"/><circle cx="185.79" cy="358.7" r="1.5"/><circle cx="187.51" cy="360.64" r="1.5"/><circle cx="186.9" cy="359.75" r="1.5"/><circle cx="193.74" cy="356.08" r="1.5"/><circle cx="150.24" cy="357.43" r="1.5"/><circle cx="140.01" cy="361.18" r="1.5"/><circle cx="141.86" cy="363.05" r="1.5"/><circle cx="144.83" cy="368.87" r="1.5"/><circle cx="144.97" cy="370.99" r="1.5"/><circle cx="144.62" cy="372.17" r="1.5"/><circle cx="174.43" cy="371.71" r="1.5"/><circle cx="174.69" cy="369.49" r="1.5"/><circle cx="186.54" cy="366.22" r="1.5"/><circle cx="190.35" cy="366.02" r="1.5"/><circle cx="190.52" cy="365.2" r="1.5"/><circle cx="177.42" cy="369.14" r="1.5"/><circle cx="182.23" cy="366.46" r="1.5"/><circle cx="177.53" cy="372.55" r="1.5"/><circle cx="177.75" cy="370.57" r="1.5"/><circle cx="181.19" cy="372.18" r="1.5"/><circle cx="181.5" cy="377.19" r="1.5"/><circle cx="192.26" cy="373.81" r="1.5"/><circle cx="192.79" cy="371.69" r="1.5"/><circle cx="154.98" cy="376.94" r="1.5"/><circle cx="155.47" cy="379.21" r="1.5"/><circle cx="159.37" cy="376.66" r="1.5"/><circle cx="165.62" cy="378.41" r="1.5"/><circle cx="164.77" cy="377.3" r="1.5"/><circle cx="181.4" cy="376.29" r="1.5"/><circle cx="160.48" cy="386.22" r="1.5"/><circle cx="159.76" cy="386.13" r="1.5"/><circle cx="160.39" cy="386.44" r="1.5"/></g><g fill="#FB6593"><circle cx="155.6" cy="318" r="1.5"/><circle cx="161" cy="319" r="1.5"/><circle cx="162" cy="325.4" r="1.5"/><circle cx="140" cy="331.6" r="1.5"/><circle cx="146.6" cy="331.6" r="1.5"/><circle cx="152" cy="330" r="1.5"/><circle cx="181.6" cy="332" r="1.5"/><circle cx="166" cy="331.6" r="1.5"/><circle cx="165.4" cy="335" r="1.5"/><circle cx="170.4" cy="335" r="1.5"/><circle cx="172" cy="337" r="1.5"/><circle cx="214.6" cy="333" r="1.5"/><circle cx="192" cy="336" r="1.5"/><circle cx="189" cy="337" r="1.5"/><circle cx="186" cy="338" r="1.5"/><circle cx="193" cy="338" r="1.5"/><circle cx="189" cy="341" r="1.5"/><circle cx="161" cy="337" r="1.5"/><circle cx="165.4" cy="338" r="1.5"/><circle cx="179" cy="336" r="1.5"/><circle cx="179" cy="339" r="1.5"/><circle cx="171" cy="340" r="1.5"/><circle cx="156" cy="339" r="1.5"/><circle cx="151.6" cy="343" r="1.5"/><circle cx="154.6" cy="344" r="1.5"/><circle cx="157" cy="343" r="1.5"/><circle cx="178" cy="342" r="1.5"/><circle cx="180" cy="343" r="1.5"/><circle cx="166" cy="343" r="1.5"/><circle cx="167" cy="345" r="1.5"/><circle cx="204.4" cy="346" r="1.5"/><circle cx="204" cy="348.6" r="1.5"/><circle cx="203" cy="349.6" r="1.5"/><circle cx="148" cy="348" r="1.5"/><circle cx="158" cy="347" r="1.5"/><circle cx="160" cy="349" r="1.5"/><circle cx="181" cy="346" r="1.5"/><circle cx="188.4" cy="347" r="1.5"/><circle cx="184" cy="349" r="1.5"/><circle cx="195" cy="350" r="1.5"/><circle cx="194.6" cy="353" r="1.5"/><circle cx="200" cy="353.6" r="1.5"/><circle cx="199.6" cy="357" r="1.5"/><circle cx="153" cy="352" r="1.5"/><circle cx="154" cy="354" r="1.5"/><circle cx="165" cy="354" r="1.5"/><circle cx="170" cy="353" r="1.5"/><circle cx="172" cy="355" r="1.5"/><circle cx="183" cy="353" r="1.5"/><circle cx="183" cy="355.6" r="1.5"/><circle cx="185" cy="357.6" r="1.5"/><circle cx="187" cy="359" r="1.5"/><circle cx="193" cy="356" r="1.5"/><circle cx="151" cy="355.6" r="1.5"/><circle cx="160.6" cy="356" r="1.5"/><circle cx="140.6" cy="359.6" r="1.5"/><circle cx="142" cy="361" r="1.5"/><circle cx="149" cy="361.6" r="1.5"/><circle cx="148" cy="365" r="1.5"/><circle cx="146.6" cy="367" r="1.5"/><circle cx="144" cy="369" r="1.5"/><circle cx="145" cy="371" r="1.5"/><circle cx="173" cy="366" r="1.5"/><circle cx="174" cy="369" r="1.5"/><circle cx="183" cy="361" r="1.5"/><circle cx="187" cy="364" r="1.5"/><circle cx="190" cy="365" r="1.5"/><circle cx="178" cy="369.6" r="1.5"/><circle cx="182" cy="369" r="1.5"/><circle cx="178" cy="372" r="1.5"/><circle cx="182" cy="372" r="1.5"/><circle cx="180" cy="375" r="1.5"/><circle cx="192.6" cy="373" r="1.5"/><circle cx="155" cy="377" r="1.5"/><circle cx="159.6" cy="377" r="1.5"/><circle cx="166" cy="376" r="1.5"/><circle cx="167" cy="377.6" r="1.5"/><circle cx="181" cy="377.6" r="1.5"/><circle cx="182.4" cy="379" r="1.5"/><circle cx="159.6" cy="385" r="1.5"/><circle cx="159.6" cy="387" r="1.5"/><circle cx="127.4" cy="389.6" r="1.5"/></g></g>
<g><g fill="#ABA300"><circle cx="206" cy="435" r="1.5"/><circle cx="177.6" cy="452.6" r="1.5"/><circle cx="179" cy="453.4" r="1.5"/><circle cx="154.6" cy="477" r="1.5"/></g><g fill="#00BE8A"><circle cx="199.2" cy="432.77" r="1.5"/><circle cx="180.15" cy="439.18" r="1.5"/><circle cx="186.88" cy="444.38" r="1.5"/><circle cx="169.28" cy="459.74" r="1.5"/><circle cx="150.34" cy="463.53" r="1.5"/><circle cx="172.89" cy="468.88" r="1.5"/><circle cx="144.88" cy="470.21" r="1.5"/><circle cx="127.89" cy="484.6" r="1.5"/><circle cx="144.92" cy="490.71" r="1.5"/><circle cx="214.6" cy="411" r="1.5"/><circle cx="188.4" cy="424" r="1.5"/><circle cx="204.4" cy="428" r="1.5"/><circle cx="199.6" cy="435.4" r="1.5"/><circle cx="165" cy="442" r="1.5"/><circle cx="195" cy="444" r="1.5"/><circle cx="192.6" cy="450" r="1.5"/><circle cx="172" cy="453.4" r="1.5"/><circle cx="175.6" cy="462" r="1.5"/><circle cx="160" cy="465" r="1.5"/><circle cx="159" cy="470" r="1.5"/><circle cx="176" cy="470.6" r="1.5"/><circle cx="140" cy="476" r="1.5"/></g><g fill="#0FA6FA"><circle cx="186.16" cy="428.89" r="1.5"/><circle cx="186.1" cy="428.88" r="1.5"/><circle cx="194.29" cy="430.96" r="1.5"/><circle cx="204.26" cy="426.99" r="1.5"/><circle cx="170.5" cy="432.67" r="1.5"/><circle cx="187.74" cy="432.46" r="1.5"/><circle cx="181" cy="435.49" r="1.5"/><circle cx="169.66" cy="439.16" r="1.5"/><circle cx="180.15" cy="438.85" r="1.5"/><circle cx="179.61" cy="442.36" r="1.5"/><circle cx="190.49" cy="441.49" r="1.5"/><circle cx="188.54" cy="442.42" r="1.5"/><circle cx="187.3" cy="444.04" r="1.5"/><circle cx="196.58" cy="443.1" r="1.5"/><circle cx="159.86" cy="447.39" r="1.5"/><circle cx="182.38" cy="445.53" r="1.5"/><circle cx="182.92" cy="451.04" r="1.5"/><circle cx="184.64" cy="451.02" r="1.5"/><circle cx="186.24" cy="450.2" r="1.5"/><circle cx="160.5" cy="452.04" r="1.5"/><circle cx="158.37" cy="454.81" r="1.5"/><circle cx="155.58" cy="457.69" r="1.5"/><circle cx="147.94" cy="462.39" r="1.5"/><circle cx="171.76" cy="465.9" r="1.5"/><circle cx="172.28" cy="469.35" r="1.5"/><circle cx="173.38" cy="467.72" r="1.5"/><circle cx="144.56" cy="470.25" r="1.5"/><circle cx="154.99" cy="470.87" r="1.5"/><circle cx="155.21" cy="469.43" r="1.5"/><circle cx="146.71" cy="479.37" r="1.5"/><circle cx="157.88" cy="477.53" r="1.5"/><circle cx="127.56" cy="481.81" r="1.5"/><circle cx="127.01" cy="485.27" r="1.5"/><circle cx="144.08" cy="482.72" r="1.5"/><circle cx="145.81" cy="491.1" r="1.5"/><circle cx="185" cy="426.6" r="1.5"/><circle cx="192.6" cy="426" r="1.5"/><circle cx="182" cy="432" r="1.5"/><circle cx="189" cy="434" r="1.5"/><circle cx="168" cy="443.4" r="1.5"/><circle cx="178" cy="444" r="1.5"/><circle cx="163" cy="449" r="1.5"/><circle cx="172" cy="448" r="1.5"/><circle cx="185" cy="447" r="1.5"/><circle cx="158" cy="459" r="1.5"/><circle cx="172" cy="457" r="1.5"/><circle cx="186" cy="457" r="1.5"/><circle cx="188" cy="458" r="1.5"/><circle cx="181" cy="461" r="1.5"/><circle cx="148" cy="465.4" r="1.5"/><circle cx="149" cy="467" r="1.5"/><circle cx="153.6" cy="466" r="1.5"/><circle cx="166" cy="466" r="1.5"/><circle cx="165" cy="467" r="1.5"/><circle cx="142" cy="474" r="1.5"/><circle cx="153" cy="474" r="1.5"/><circle cx="160" cy="474" r="1.5"/><circle cx="148" cy="480" r="1.5"/><circle cx="135.6" cy="483" r="1.5"/><circle cx="147" cy="482" r="1.5"/><circle cx="133.6" cy="491" r="1.5"/><circle cx="143" cy="492.6" r="1.5"/><circle cx="140" cy="493.4" r="1.5"/></g><g fill="#8B93FF"><circle cx="163.31" cy="440.21" r="1.5"/><circle cx="169.42" cy="438.75" r="1.5"/><circle cx="182.28" cy="445.94" r="1.5"/><circle cx="159.89" cy="454.24" r="1.5"/><circle cx="166.75" cy="461.44" r="1.5"/><circle cx="144.12" cy="470.46" r="1.5"/><circle cx="147.01" cy="473.1" r="1.5"/><circle cx="217.6" cy="409" r="1.5"/><circle cx="166.6" cy="432" r="1.5"/><circle cx="203.6" cy="437" r="1.5"/><circle cx="140" cy="466.6" r="1.5"/><circle cx="170" cy="469" r="1.5"/><circle cx="134.6" cy="482" r="1.5"/></g><g fill="#F266E6"><circle cx="163.02" cy="441.5" r="1.5"/><circle cx="169.36" cy="438.13" r="1.5"/><circle cx="189.74" cy="438.04" r="1.5"/><circle cx="171.26" cy="446.66" r="1.5"/><circle cx="159.49" cy="453.96" r="1.5"/><circle cx="156.08" cy="456.18" r="1.5"/><circle cx="167.54" cy="460.41" r="1.5"/><circle cx="170.68" cy="459.17" r="1.5"/><circle cx="157.04" cy="464.17" r="1.5"/><circle cx="140.24" cy="471.15" r="1.5"/><circle cx="146.16" cy="474.5" r="1.5"/><circle cx="158.65" cy="478.5" r="1.5"/><circle cx="144.87" cy="484.62" r="1.5"/><circle cx="132.91" cy="489.31" r="1.5"/><circle cx="148" cy="455" r="1.5"/><circle cx="186.4" cy="463" r="1.5"/><circle cx="143" cy="466.6" r="1.5"/><circle cx="127.4" cy="487.4" r="1.5"/></g><g fill="#FF63B6"><circle cx="214.36" cy="409" r="1.5"/><circle cx="187.43" cy="419.14" r="1.5"/><circle cx="187" cy="422.47" r="1.5"/><circle cx="187.29" cy="421.95" r="1.5"/><circle cx="182.84" cy="427.62" r="1.5"/><circle cx="195.3" cy="429.7" r="1.5"/><circle cx="195.25" cy="431.05" r="1.5"/><circle cx="204.29" cy="427.22" r="1.5"/><circle cx="204.42" cy="426.55" r="1.5"/><circle cx="170.65" cy="433.94" r="1.5"/><circle cx="187.85" cy="432.14" r="1.5"/><circle cx="181.7" cy="435.2" r="1.5"/><circle cx="199.61" cy="433.35" r="1.5"/><circle cx="199.63" cy="432.82" r="1.5"/><circle cx="203.9" cy="436.52" r="1.5"/><circle cx="166.31" cy="439.15" r="1.5"/><circle cx="162.69" cy="440.68" r="1.5"/><circle cx="170.72" cy="438.4" r="1.5"/><circle cx="180.12" cy="439.03" r="1.5"/><circle cx="179.35" cy="439.97" r="1.5"/><circle cx="179.67" cy="441.85" r="1.5"/><circle cx="189.02" cy="437.93" r="1.5"/><circle cx="191.38" cy="440.2" r="1.5"/><circle cx="189.06" cy="441.44" r="1.5"/><circle cx="186.97" cy="444.23" r="1.5"/><circle cx="187.39" cy="444.25" r="1.5"/><circle cx="196.91" cy="442.71" r="1.5"/><circle cx="161.99" cy="447.05" r="1.5"/><circle cx="160.47" cy="447.72" r="1.5"/><circle cx="170.84" cy="448.02" r="1.5"/><circle cx="174.74" cy="447.47" r="1.5"/><circle cx="183.01" cy="445.75" r="1.5"/><circle cx="183.82" cy="450.21" r="1.5"/><circle cx="188.72" cy="448.02" r="1.5"/><circle cx="192.55" cy="456.34" r="1.5"/><circle cx="151.43" cy="453.97" r="1.5"/><circle cx="159.44" cy="453.73" r="1.5"/><circle cx="157.46" cy="455.47" r="1.5"/><circle cx="163.47" cy="455.1" r="1.5"/><circle cx="183.13" cy="452.71" r="1.5"/><circle cx="181.45" cy="454.6" r="1.5"/><circle cx="154.14" cy="457.85" r="1.5"/><circle cx="155.75" cy="458.3" r="1.5"/><circle cx="166.4" cy="459.75" r="1.5"/><circle cx="170.87" cy="459.91" r="1.5"/><circle cx="181.05" cy="458.06" r="1.5"/><circle cx="179.15" cy="457.74" r="1.5"/><circle cx="148.69" cy="462.1" r="1.5"/><circle cx="150.59" cy="463.75" r="1.5"/><circle cx="150.85" cy="462.57" r="1.5"/><circle cx="164.85" cy="462.38" r="1.5"/><circle cx="180.45" cy="466.84" r="1.5"/><circle cx="181.14" cy="466.9" r="1.5"/><circle cx="156.39" cy="465.46" r="1.5"/><circle cx="171.57" cy="467.06" r="1.5"/><circle cx="171.87" cy="468.62" r="1.5"/><circle cx="140.4" cy="470.63" r="1.5"/><circle cx="145.19" cy="470.37" r="1.5"/><circle cx="150.79" cy="469" r="1.5"/><circle cx="155.93" cy="469.08" r="1.5"/><circle cx="155.46" cy="470.27" r="1.5"/><circle cx="147.16" cy="472.97" r="1.5"/><circle cx="147.02" cy="473.95" r="1.5"/><circle cx="147.83" cy="476.42" r="1.5"/><circle cx="152.48" cy="472.36" r="1.5"/><circle cx="151.72" cy="473.33" r="1.5"/><circle cx="155.85" cy="475.61" r="1.5"/><circle cx="156.98" cy="474.52" r="1.5"/><circle cx="145.26" cy="479.86" r="1.5"/><circle cx="143.57" cy="485.91" r="1.5"/><circle cx="143.24" cy="485.72" r="1.5"/><circle cx="133.66" cy="488.41" r="1.5"/><circle cx="144.25" cy="489.61" r="1.5"/><circle cx="145.03" cy="491.42" r="1.5"/><circle cx="145.17" cy="491.47" r="1.5"/></g><g fill="#FB6593"><circle cx="214.6" cy="409" r="1.5"/><circle cx="187.4" cy="419.6" r="1.5"/><circle cx="187.4" cy="422" r="1.5"/><circle cx="183" cy="426.6" r="1.5"/><circle cx="186" cy="429" r="1.5"/><circle cx="195" cy="430" r="1.5"/><circle cx="204" cy="426.6" r="1.5"/><circle cx="170.4" cy="433" r="1.5"/><circle cx="188" cy="432" r="1.5"/><circle cx="181" cy="435" r="1.5"/><circle cx="199.6" cy="433" r="1.5"/><circle cx="204" cy="436" r="1.5"/><circle cx="166" cy="438.6" r="1.5"/><circle cx="164" cy="440" r="1.5"/><circle cx="170" cy="438" r="1.5"/><circle cx="180" cy="439" r="1.5"/><circle cx="179" cy="442" r="1.5"/><circle cx="189" cy="438" r="1.5"/><circle cx="190" cy="441" r="1.5"/><circle cx="187" cy="444" r="1.5"/><circle cx="196.6" cy="443" r="1.5"/><circle cx="161" cy="447" r="1.5"/><circle cx="171" cy="447" r="1.5"/><circle cx="176" cy="446" r="1.5"/><circle cx="182" cy="446" r="1.5"/><circle cx="184" cy="450" r="1.5"/><circle cx="187" cy="449" r="1.5"/><circle cx="193" cy="452" r="1.5"/><circle cx="193.4" cy="455" r="1.5"/><circle cx="151.6" cy="453.4" r="1.5"/><circle cx="160.6" cy="452" r="1.5"/><circle cx="159" cy="454" r="1.5"/><circle cx="156" cy="456" r="1.5"/><circle cx="164" cy="454.6" r="1.5"/><circle cx="182" cy="453.4" r="1.5"/><circle cx="155" cy="458" r="1.5"/><circle cx="167" cy="460" r="1.5"/><circle cx="170" cy="459" r="1.5"/><circle cx="181" cy="457.4" r="1.5"/><circle cx="148" cy="462" r="1.5"/><circle cx="151" cy="463" r="1.5"/><circle cx="166" cy="462" r="1.5"/><circle cx="178" cy="461" r="1.5"/><circle cx="182" cy="466" r="1.5"/><circle cx="180" cy="464" r="1.5"/><circle cx="157" cy="464" r="1.5"/><circle cx="172" cy="466" r="1.5"/><circle cx="173" cy="468" r="1.5"/><circle cx="140.6" cy="470" r="1.5"/><circle cx="144" cy="471" r="1.5"/><circle cx="150" cy="470" r="1.5"/><circle cx="155" cy="470" r="1.5"/><circle cx="147" cy="473" r="1.5"/><circle cx="148" cy="476" r="1.5"/><circle cx="152" cy="472" r="1.5"/><circle cx="157" cy="474" r="1.5"/><circle cx="160.6" cy="476.6" r="1.5"/><circle cx="146" cy="479" r="1.5"/><circle cx="157" cy="478" r="1.5"/><circle cx="127.4" cy="481.6" r="1.5"/><circle cx="127.4" cy="484.6" r="1.5"/><circle cx="145" cy="482" r="1.5"/><circle cx="144" cy="485" r="1.5"/><circle cx="133.6" cy="488" r="1.5"/><circle cx="144" cy="489.4" r="1.5"/><circle cx="145" cy="491" r="1.5"/></g></g>
<g><g fill="#EA8331"><circle cx="231.6" cy="369" r="1.5"/><circle cx="266.4" cy="390.4" r="1.5"/></g><g fill="#ABA300"><circle cx="252.6" cy="313.6" r="1.5"/><circle cx="261.6" cy="352" r="1.5"/><circle cx="264" cy="358.4" r="1.5"/><circle cx="267" cy="364" r="1.5"/></g><g fill="#00BE8A"><circle cx="296.99" cy="332.6" r="1.5"/><circle cx="261.12" cy="336.49" r="1.5"/><circle cx="281.6" cy="334.19" r="1.5"/><circle cx="246.76" cy="337.34" r="1.5"/><circle cx="243.72" cy="338.98" r="1.5"/><circle cx="290.27" cy="341.98" r="1.5"/><circle cx="291.92" cy="345.09" r="1.5"/><circle cx="261.15" cy="345.48" r="1.5"/><circle cx="272.47" cy="345.47" r="1.5"/><circle cx="252.97" cy="352.33" r="1.5"/><circle cx="257.6" cy="356" r="1.5"/><circle cx="234.04" cy="365.91" r="1.5"/><circle cx="261.79" cy="368.6" r="1.5"/><circle cx="255.75" cy="377.26" r="1.5"/><circle cx="246.7" cy="380.47" r="1.5"/><circle cx="264.62" cy="386.13" r="1.5"/><circle cx="256.6" cy="316" r="1.5"/><circle cx="252" cy="335" r="1.5"/><circle cx="274" cy="335" r="1.5"/><circle cx="229.6" cy="341.6" r="1.5"/><circle cx="250" cy="340" r="1.5"/><circle cx="280" cy="343" r="1.5"/><circle cx="255.6" cy="347" r="1.5"/><circle cx="268.6" cy="348" r="1.5"/><circle cx="284" cy="357" r="1.5"/><circle cx="279" cy="360" r="1.5"/><circle cx="269" cy="369" r="1.5"/><circle cx="276" cy="375.6" r="1.5"/><circle cx="266" cy="391.2" r="1.5"/></g><g fill="#0FA6FA"><circle cx="255.88" cy="318.93" r="1.5"/><circle cx="253.86" cy="320.33" r="1.5"/><circle cx="236.06" cy="329.66" r="1.5"/><circle cx="251.95" cy="334.12" r="1.5"/><circle cx="285.99" cy="337.7" r="1.5"/><circle cx="296.35" cy="334.46" r="1.5"/><circle cx="296.4" cy="333.86" r="1.5"/><circle cx="266.75" cy="334.02" r="1.5"/><circle cx="259.85" cy="338.61" r="1.5"/><circle cx="266.11" cy="336.32" r="1.5"/><circle cx="266.95" cy="337.04" r="1.5"/><circle cx="244.57" cy="340.56" r="1.5"/><circle cx="262.05" cy="343.96" r="1.5"/><circle cx="270.86" cy="342.5" r="1.5"/><circle cx="280.95" cy="344.29" r="1.5"/><circle cx="281.07" cy="345.99" r="1.5"/><circle cx="247.03" cy="346.35" r="1.5"/><circle cx="252.26" cy="349.19" r="1.5"/><circle cx="256.48" cy="348.59" r="1.5"/><circle cx="262.71" cy="350.57" r="1.5"/><circle cx="273.32" cy="344.23" r="1.5"/><circle cx="275.07" cy="349.66" r="1.5"/><circle cx="289.71" cy="353.25" r="1.5"/><circle cx="296.55" cy="358.91" r="1.5"/><circle cx="245.4" cy="352.93" r="1.5"/><circle cx="260.4" cy="356.48" r="1.5"/><circle cx="261.35" cy="354.55" r="1.5"/><circle cx="312.09" cy="353.04" r="1.5"/><circle cx="319.43" cy="353.56" r="1.5"/><circle cx="317.71" cy="355.13" r="1.5"/><circle cx="320.33" cy="357.25" r="1.5"/><circle cx="319.69" cy="362.92" r="1.5"/><circle cx="251.12" cy="362.34" r="1.5"/><circle cx="263.44" cy="356.37" r="1.5"/><circle cx="266.52" cy="358.86" r="1.5"/><circle cx="286.76" cy="360.87" r="1.5"/><circle cx="263.39" cy="363.27" r="1.5"/><circle cx="268.52" cy="363.58" r="1.5"/><circle cx="275.7" cy="365.78" r="1.5"/><circle cx="244.75" cy="369.11" r="1.5"/><circle cx="248.77" cy="363.79" r="1.5"/><circle cx="250.08" cy="365.86" r="1.5"/><circle cx="261.57" cy="366.54" r="1.5"/><circle cx="262.6" cy="369.76" r="1.5"/><circle cx="270.24" cy="368.64" r="1.5"/><circle cx="273.57" cy="370.79" r="1.5"/><circle cx="254.26" cy="371.73" r="1.5"/><circle cx="258.02" cy="376.86" r="1.5"/><circle cx="250.72" cy="375.61" r="1.5"/><circle cx="256.01" cy="375.17" r="1.5"/><circle cx="256.11" cy="373.83" r="1.5"/><circle cx="263.3" cy="377.03" r="1.5"/><circle cx="266.1" cy="375.92" r="1.5"/><circle cx="263.96" cy="381.89" r="1.5"/><circle cx="280.84" cy="393.44" r="1.5"/><circle cx="286.02" cy="390.64" r="1.5"/><circle cx="263" cy="316" r="1.5"/><circle cx="237.6" cy="334" r="1.5"/><circle cx="281" cy="329.6" r="1.5"/><circle cx="287.6" cy="333.6" r="1.5"/><circle cx="258" cy="335.6" r="1.5"/><circle cx="272.4" cy="336" r="1.5"/><circle cx="281" cy="339" r="1.5"/><circle cx="249" cy="339" r="1.5"/><circle cx="241" cy="343" r="1.5"/><circle cx="297" cy="338" r="1.5"/><circle cx="291" cy="341" r="1.5"/><circle cx="296" cy="342" r="1.5"/><circle cx="259" cy="341" r="1.5"/><circle cx="293" cy="350" r="1.5"/><circle cx="247" cy="355" r="1.5"/><circle cx="255" cy="354" r="1.5"/><circle cx="259" cy="355" r="1.5"/><circle cx="272" cy="354" r="1.5"/><circle cx="311" cy="355" r="1.5"/><circle cx="320" cy="363.4" r="1.5"/><circle cx="241" cy="356.6" r="1.5"/><circle cx="242" cy="359" r="1.5"/><circle cx="245" cy="359" r="1.5"/><circle cx="259" cy="364" r="1.5"/><circle cx="255" cy="367" r="1.5"/><circle cx="263" cy="371.6" r="1.5"/><circle cx="251" cy="371" r="1.5"/><circle cx="253" cy="373" r="1.5"/><circle cx="266" cy="372" r="1.5"/><circle cx="268" cy="373" r="1.5"/><circle cx="253" cy="377" r="1.5"/><circle cx="262" cy="376" r="1.5"/><circle cx="267" cy="377" r="1.5"/><circle cx="274" cy="375.6" r="1.5"/><circle cx="261" cy="379" r="1.5"/><circle cx="266" cy="379" r="1.5"/><circle cx="261" cy="382" r="1.5"/><circle cx="266" cy="397.4" r="1.5"/></g><g fill="#8B93FF"><circle cx="229.71" cy="331.64" r="1.5"/><circle cx="259.86" cy="336.85" r="1.5"/><circle cx="267.46" cy="351.17" r="1.5"/><circle cx="248.28" cy="378.85" r="1.5"/><circle cx="264" cy="387.23" r="1.5"/><circle cx="252" cy="320.6" r="1.5"/><circle cx="285.6" cy="325" r="1.5"/><circle cx="300" cy="331.6" r="1.5"/><circle cx="249" cy="343" r="1.5"/><circle cx="264" cy="345" r="1.5"/><circle cx="293.6" cy="354.6" r="1.5"/><circle cx="308.6" cy="358.4" r="1.5"/><circle cx="244" cy="363" r="1.5"/><circle cx="233.6" cy="370" r="1.5"/><circle cx="273" cy="372" r="1.5"/><circle cx="271.4" cy="397.4" r="1.5"/></g><g fill="#F266E6"><circle cx="280.44" cy="334.28" r="1.5"/><circle cx="296.86" cy="332.19" r="1.5"/><circle cx="268.21" cy="340.8" r="1.5"/><circle cx="279.63" cy="335.29" r="1.5"/><circle cx="293.82" cy="338.55" r="1.5"/><circle cx="280.38" cy="347.62" r="1.5"/><circle cx="296.71" cy="358.05" r="1.5"/><circle cx="244.43" cy="353.37" r="1.5"/><circle cx="277.72" cy="354.66" r="1.5"/><circle cx="279.04" cy="358.1" r="1.5"/><circle cx="319.33" cy="355.36" r="1.5"/><circle cx="318.37" cy="356.77" r="1.5"/><circle cx="258.24" cy="357.56" r="1.5"/><circle cx="261.99" cy="355.8" r="1.5"/><circle cx="269.79" cy="360.92" r="1.5"/><circle cx="264" cy="369.38" r="1.5"/><circle cx="266.11" cy="369.89" r="1.5"/><circle cx="270.54" cy="366.12" r="1.5"/><circle cx="229.6" cy="321.6" r="1.5"/><circle cx="237" cy="332" r="1.5"/><circle cx="274.4" cy="333" r="1.5"/><circle cx="253.6" cy="342" r="1.5"/><circle cx="283" cy="348" r="1.5"/><circle cx="291" cy="353" r="1.5"/><circle cx="268" cy="354" r="1.5"/><circle cx="250.6" cy="362" r="1.5"/><circle cx="241.6" cy="366" r="1.5"/><circle cx="276" cy="372" r="1.5"/><circle cx="255" cy="379" r="1.5"/><circle cx="264" cy="383" r="1.5"/><circle cx="279.4" cy="397.6" r="1.5"/></g><g fill="#FF63B6"><circle cx="239.28" cy="316.95" r="1.5"/><circle cx="254.82" cy="318.77" r="1.5"/><circle cx="263.1" cy="328.03" r="1.5"/><circle cx="236.27" cy="333.24" r="1.5"/><circle cx="251.21" cy="331.46" r="1.5"/><circle cx="280.8" cy="333.58" r="1.5"/><circle cx="281" cy="331.45" r="1.5"/><circle cx="287.06" cy="333.54" r="1.5"/><circle cx="287.43" cy="334.73" r="1.5"/><circle cx="295.44" cy="334.66" r="1.5"/><circle cx="296.6" cy="335.27" r="1.5"/><circle cx="266.56" cy="335.17" r="1.5"/><circle cx="266.63" cy="336.14" r="1.5"/><circle cx="267.15" cy="336.22" r="1.5"/><circle cx="282.24" cy="335.64" r="1.5"/><circle cx="281.27" cy="336.12" r="1.5"/><circle cx="243.14" cy="338.7" r="1.5"/><circle cx="247.19" cy="336.13" r="1.5"/><circle cx="290.34" cy="338.92" r="1.5"/><circle cx="289.71" cy="336.97" r="1.5"/><circle cx="292.76" cy="340.18" r="1.5"/><circle cx="292.76" cy="343.65" r="1.5"/><circle cx="260.86" cy="340.96" r="1.5"/><circle cx="261.75" cy="343.45" r="1.5"/><circle cx="280.14" cy="343.84" r="1.5"/><circle cx="284.13" cy="342.52" r="1.5"/><circle cx="246.44" cy="349" r="1.5"/><circle cx="251.89" cy="347.82" r="1.5"/><circle cx="253" cy="346.77" r="1.5"/><circle cx="257.89" cy="346.52" r="1.5"/><circle cx="263.5" cy="348.8" r="1.5"/><circle cx="274.08" cy="344.11" r="1.5"/><circle cx="274.71" cy="349.74" r="1.5"/><circle cx="278.37" cy="346.85" r="1.5"/><circle cx="279.15" cy="348.65" r="1.5"/><circle cx="243.65" cy="355.11" r="1.5"/><circle cx="244.24" cy="355.52" r="1.5"/><circle cx="253.94" cy="351.34" r="1.5"/><circle cx="253" cy="352.54" r="1.5"/><circle cx="259.9" cy="353.81" r="1.5"/><circle cx="267.08" cy="355.54" r="1.5"/><circle cx="266.68" cy="350.14" r="1.5"/><circle cx="274.32" cy="356.89" r="1.5"/><circle cx="273.96" cy="356.93" r="1.5"/><circle cx="278.58" cy="352.4" r="1.5"/><circle cx="279.2" cy="355.78" r="1.5"/><circle cx="310.86" cy="353.06" r="1.5"/><circle cx="310.59" cy="355.84" r="1.5"/><circle cx="311.31" cy="359.61" r="1.5"/><circle cx="319.11" cy="353.83" r="1.5"/><circle cx="318.34" cy="358.48" r="1.5"/><circle cx="320.62" cy="360.71" r="1.5"/><circle cx="250.29" cy="359.61" r="1.5"/><circle cx="250.87" cy="356.99" r="1.5"/><circle cx="257.35" cy="358.92" r="1.5"/><circle cx="285.67" cy="357.76" r="1.5"/><circle cx="286.2" cy="361.61" r="1.5"/><circle cx="280.17" cy="362.72" r="1.5"/><circle cx="280.96" cy="360.75" r="1.5"/><circle cx="255.71" cy="363.2" r="1.5"/><circle cx="261.45" cy="364.35" r="1.5"/><circle cx="262.97" cy="362.81" r="1.5"/><circle cx="264.65" cy="359.59" r="1.5"/><circle cx="268.19" cy="363.74" r="1.5"/><circle cx="268.87" cy="365.73" r="1.5"/><circle cx="271.56" cy="361.36" r="1.5"/><circle cx="271.45" cy="360.57" r="1.5"/><circle cx="275.1" cy="361.82" r="1.5"/><circle cx="273.47" cy="366.22" r="1.5"/><circle cx="245.47" cy="368.77" r="1.5"/><circle cx="249.2" cy="365.62" r="1.5"/><circle cx="252.34" cy="367.02" r="1.5"/><circle cx="251.24" cy="367.85" r="1.5"/><circle cx="260.32" cy="368.36" r="1.5"/><circle cx="266.82" cy="369.35" r="1.5"/><circle cx="271.11" cy="366.38" r="1.5"/><circle cx="256.17" cy="367.02" r="1.5"/><circle cx="258.76" cy="374.9" r="1.5"/><circle cx="259.15" cy="373.48" r="1.5"/><circle cx="250.35" cy="378.12" r="1.5"/><circle cx="255.47" cy="378.1" r="1.5"/><circle cx="246.86" cy="382.66" r="1.5"/><circle cx="246.75" cy="379.66" r="1.5"/><circle cx="264.19" cy="385.71" r="1.5"/><circle cx="264.21" cy="388.26" r="1.5"/><circle cx="279.18" cy="387.96" r="1.5"/><circle cx="286.17" cy="387.9" r="1.5"/><circle cx="286.51" cy="390.62" r="1.5"/></g><g fill="#FB6593"><circle cx="239.4" cy="318" r="1.5"/><circle cx="255" cy="319" r="1.5"/><circle cx="263" cy="325.4" r="1.5"/><circle cx="229.6" cy="331.6" r="1.5"/><circle cx="236" cy="330.4" r="1.5"/><circle cx="252" cy="331.6" r="1.5"/><circle cx="281" cy="332" r="1.5"/><circle cx="286" cy="335.6" r="1.5"/><circle cx="296.6" cy="333" r="1.5"/><circle cx="267" cy="332" r="1.5"/><circle cx="260" cy="337.6" r="1.5"/><circle cx="267" cy="336" r="1.5"/><circle cx="268" cy="338" r="1.5"/><circle cx="281" cy="336" r="1.5"/><circle cx="242.6" cy="339" r="1.5"/><circle cx="247" cy="337" r="1.5"/><circle cx="244" cy="341" r="1.5"/><circle cx="289" cy="338" r="1.5"/><circle cx="294" cy="338" r="1.5"/><circle cx="293" cy="345" r="1.5"/><circle cx="262" cy="342" r="1.5"/><circle cx="271" cy="342" r="1.5"/><circle cx="281" cy="345" r="1.5"/><circle cx="284" cy="344" r="1.5"/><circle cx="247" cy="348" r="1.5"/><circle cx="252" cy="349" r="1.5"/><circle cx="257" cy="348" r="1.5"/><circle cx="262.6" cy="347.6" r="1.5"/><circle cx="273" cy="346" r="1.5"/><circle cx="275" cy="348" r="1.5"/><circle cx="278.6" cy="347" r="1.5"/><circle cx="290" cy="351" r="1.5"/><circle cx="296.6" cy="357" r="1.5"/><circle cx="246" cy="352.4" r="1.5"/><circle cx="244" cy="354" r="1.5"/><circle cx="253" cy="351" r="1.5"/><circle cx="261" cy="354" r="1.5"/><circle cx="267" cy="351" r="1.5"/><circle cx="274" cy="356" r="1.5"/><circle cx="279" cy="353" r="1.5"/><circle cx="279" cy="356" r="1.5"/><circle cx="311" cy="352" r="1.5"/><circle cx="311" cy="358" r="1.5"/><circle cx="320" cy="352" r="1.5"/><circle cx="318" cy="357.4" r="1.5"/><circle cx="320" cy="358.4" r="1.5"/><circle cx="320" cy="361" r="1.5"/><circle cx="250.6" cy="358.4" r="1.5"/><circle cx="258" cy="357.6" r="1.5"/><circle cx="263" cy="356" r="1.5"/><circle cx="267" cy="358.4" r="1.5"/><circle cx="285" cy="359" r="1.5"/><circle cx="286" cy="362" r="1.5"/><circle cx="280" cy="362" r="1.5"/><circle cx="256" cy="361" r="1.5"/><circle cx="263" cy="362" r="1.5"/><circle cx="265" cy="361" r="1.5"/><circle cx="269" cy="363" r="1.5"/><circle cx="271" cy="361" r="1.5"/><circle cx="275" cy="362" r="1.5"/><circle cx="233.6" cy="366" r="1.5"/><circle cx="246" cy="367" r="1.5"/><circle cx="249" cy="365.6" r="1.5"/><circle cx="248" cy="369" r="1.5"/><circle cx="252" cy="368" r="1.5"/><circle cx="261" cy="367" r="1.5"/><circle cx="263" cy="369" r="1.5"/><circle cx="266" cy="368" r="1.5"/><circle cx="271" cy="367" r="1.5"/><circle cx="273" cy="369" r="1.5"/><circle cx="255" cy="371" r="1.5"/><circle cx="257" cy="372" r="1.5"/><circle cx="259" cy="373" r="1.5"/><circle cx="250" cy="375" r="1.5"/><circle cx="256" cy="375" r="1.5"/><circle cx="265" cy="375" r="1.5"/><circle cx="247" cy="379" r="1.5"/><circle cx="263" cy="380" r="1.5"/><circle cx="264" cy="386" r="1.5"/><circle cx="264" cy="388" r="1.5"/><circle cx="279.4" cy="389.4" r="1.5"/><circle cx="285.6" cy="389.6" r="1.5"/></g></g>
<g><g fill="#EA8331"><circle cx="245" cy="484.6" r="1.5"/><circle cx="266" cy="488" r="1.5"/><circle cx="231.6" cy="491.4" r="1.5"/></g><g fill="#ABA300"><circle cx="241.6" cy="477.4" r="1.5"/></g><g fill="#00BE8A"><circle cx="319.06" cy="421.7" r="1.5"/><circle cx="311.64" cy="432.31" r="1.5"/><circle cx="285.91" cy="439.58" r="1.5"/><circle cx="297.32" cy="446.41" r="1.5"/><circle cx="273.92" cy="455.54" r="1.5"/><circle cx="266.78" cy="461.59" r="1.5"/><circle cx="247.16" cy="467.59" r="1.5"/><circle cx="275.3" cy="471.06" r="1.5"/><circle cx="296.6" cy="411" r="1.5"/><circle cx="320" cy="424" r="1.5"/><circle cx="279" cy="435.4" r="1.5"/><circle cx="284" cy="447.4" r="1.5"/><circle cx="256.6" cy="450" r="1.5"/><circle cx="268" cy="451" r="1.5"/><circle cx="252" cy="454" r="1.5"/><circle cx="275" cy="459" r="1.5"/><circle cx="262" cy="464" r="1.5"/><circle cx="267" cy="474" r="1.5"/><circle cx="229.6" cy="481" r="1.5"/></g><g fill="#0FA6FA"><circle cx="320.71" cy="420.28" r="1.5"/><circle cx="318.15" cy="422.88" r="1.5"/><circle cx="319.97" cy="422.76" r="1.5"/><circle cx="288.23" cy="427.67" r="1.5"/><circle cx="310.85" cy="427.61" r="1.5"/><circle cx="311.02" cy="427.15" r="1.5"/><circle cx="311.06" cy="431.94" r="1.5"/><circle cx="281.08" cy="432.95" r="1.5"/><circle cx="286.27" cy="439.06" r="1.5"/><circle cx="293.08" cy="438.33" r="1.5"/><circle cx="293.87" cy="441.39" r="1.5"/><circle cx="296.58" cy="446.47" r="1.5"/><circle cx="260.5" cy="441.85" r="1.5"/><circle cx="260.26" cy="442.95" r="1.5"/><circle cx="276.81" cy="443.13" r="1.5"/><circle cx="279.89" cy="441.37" r="1.5"/><circle cx="265.25" cy="447.99" r="1.5"/><circle cx="264.85" cy="447.82" r="1.5"/><circle cx="284.79" cy="448.87" r="1.5"/><circle cx="257.77" cy="453.66" r="1.5"/><circle cx="263.26" cy="450.44" r="1.5"/><circle cx="265.89" cy="453.25" r="1.5"/><circle cx="269.15" cy="454.27" r="1.5"/><circle cx="240.52" cy="455.47" r="1.5"/><circle cx="246.48" cy="458.53" r="1.5"/><circle cx="256.07" cy="456.74" r="1.5"/><circle cx="255.91" cy="457.27" r="1.5"/><circle cx="261.09" cy="456.59" r="1.5"/><circle cx="269.76" cy="456.65" r="1.5"/><circle cx="272.63" cy="454.49" r="1.5"/><circle cx="285.31" cy="453.58" r="1.5"/><circle cx="254.84" cy="461.08" r="1.5"/><circle cx="253.89" cy="461.08" r="1.5"/><circle cx="266.17" cy="461.04" r="1.5"/><circle cx="240.46" cy="463.01" r="1.5"/><circle cx="265.65" cy="464.51" r="1.5"/><circle cx="239.85" cy="470.51" r="1.5"/><circle cx="243.66" cy="469.25" r="1.5"/><circle cx="246.27" cy="468.93" r="1.5"/><circle cx="248.14" cy="468.19" r="1.5"/><circle cx="247.39" cy="470.66" r="1.5"/><circle cx="268.54" cy="471.91" r="1.5"/><circle cx="275.43" cy="471.52" r="1.5"/><circle cx="274.8" cy="471.19" r="1.5"/><circle cx="229.07" cy="477.78" r="1.5"/><circle cx="229.35" cy="477.04" r="1.5"/><circle cx="229.12" cy="479.29" r="1.5"/><circle cx="241.61" cy="475.98" r="1.5"/><circle cx="246.18" cy="472.72" r="1.5"/><circle cx="252.54" cy="477.49" r="1.5"/><circle cx="243.54" cy="478.41" r="1.5"/><circle cx="243.94" cy="483.06" r="1.5"/><circle cx="244.03" cy="484.24" r="1.5"/><circle cx="255.42" cy="478.88" r="1.5"/><circle cx="257.92" cy="483.22" r="1.5"/><circle cx="284.9" cy="482.32" r="1.5"/><circle cx="287.6" cy="426" r="1.5"/><circle cx="296.6" cy="427" r="1.5"/><circle cx="292" cy="430.6" r="1.5"/><circle cx="309" cy="429" r="1.5"/><circle cx="263" cy="437" r="1.5"/><circle cx="296" cy="438.6" r="1.5"/><circle cx="265" cy="443" r="1.5"/><circle cx="263" cy="446" r="1.5"/><circle cx="273" cy="450" r="1.5"/><circle cx="241" cy="459" r="1.5"/><circle cx="250" cy="458" r="1.5"/><circle cx="252" cy="457" r="1.5"/><circle cx="275" cy="455" r="1.5"/><circle cx="279.6" cy="456" r="1.5"/><circle cx="250" cy="461" r="1.5"/><circle cx="256.6" cy="460" r="1.5"/><circle cx="269" cy="458" r="1.5"/><circle cx="252" cy="465" r="1.5"/><circle cx="257.6" cy="466" r="1.5"/><circle cx="266" cy="466.6" r="1.5"/><circle cx="269" cy="466" r="1.5"/><circle cx="272.4" cy="466.6" r="1.5"/><circle cx="238" cy="471" r="1.5"/><circle cx="259" cy="470.6" r="1.5"/><circle cx="262" cy="472" r="1.5"/><circle cx="273" cy="473" r="1.5"/><circle cx="251" cy="475" r="1.5"/><circle cx="252" cy="478" r="1.5"/><circle cx="261" cy="474.6" r="1.5"/><circle cx="274" cy="474.6" r="1.5"/><circle cx="241" cy="481" r="1.5"/><circle cx="244.6" cy="480.6" r="1.5"/><circle cx="256" cy="481" r="1.5"/><circle cx="266" cy="490.6" r="1.5"/><circle cx="233.6" cy="493" r="1.5"/></g><g fill="#8B93FF"><circle cx="319.76" cy="420.55" r="1.5"/><circle cx="258.43" cy="452.34" r="1.5"/><circle cx="265.35" cy="452.23" r="1.5"/><circle cx="270.91" cy="455.99" r="1.5"/><circle cx="239.9" cy="463.85" r="1.5"/><circle cx="300" cy="432.6" r="1.5"/><circle cx="286" cy="436.6" r="1.5"/><circle cx="293" cy="443.6" r="1.5"/><circle cx="279.4" cy="459" r="1.5"/><circle cx="239.4" cy="466" r="1.5"/><circle cx="271.4" cy="488" r="1.5"/></g><g fill="#F266E6"><circle cx="294.04" cy="426.6" r="1.5"/><circle cx="270.43" cy="442.82" r="1.5"/><circle cx="267.5" cy="447.86" r="1.5"/><circle cx="263.07" cy="451.5" r="1.5"/><circle cx="260.3" cy="457.23" r="1.5"/><circle cx="277.93" cy="455" r="1.5"/><circle cx="254.51" cy="460.64" r="1.5"/><circle cx="273.76" cy="462.82" r="1.5"/><circle cx="235.43" cy="472.11" r="1.5"/><circle cx="230.11" cy="477.48" r="1.5"/><circle cx="240.23" cy="474.42" r="1.5"/><circle cx="279.2" cy="485.09" r="1.5"/><circle cx="271" cy="444" r="1.5"/><circle cx="245" cy="460" r="1.5"/><circle cx="284.6" cy="455.4" r="1.5"/><circle cx="229.6" cy="474" r="1.5"/><circle cx="258" cy="475" r="1.5"/><circle cx="279.4" cy="487.4" r="1.5"/></g><g fill="#FF63B6"><circle cx="296.86" cy="409.87" r="1.5"/><circle cx="320.34" cy="419.63" r="1.5"/><circle cx="317.09" cy="422.33" r="1.5"/><circle cx="318.69" cy="422.03" r="1.5"/><circle cx="320.47" cy="422.08" r="1.5"/><circle cx="321.14" cy="421.86" r="1.5"/><circle cx="282.44" cy="426.7" r="1.5"/><circle cx="288.65" cy="428.03" r="1.5"/><circle cx="290.14" cy="426.84" r="1.5"/><circle cx="290.43" cy="429.36" r="1.5"/><circle cx="290.11" cy="429.37" r="1.5"/><circle cx="309.84" cy="427.32" r="1.5"/><circle cx="310.26" cy="428.01" r="1.5"/><circle cx="311.16" cy="432.82" r="1.5"/><circle cx="311.57" cy="433.88" r="1.5"/><circle cx="278.81" cy="431.38" r="1.5"/><circle cx="285.5" cy="439.55" r="1.5"/><circle cx="293.48" cy="438" r="1.5"/><circle cx="293.12" cy="441.79" r="1.5"/><circle cx="260.33" cy="441.94" r="1.5"/><circle cx="259.1" cy="443.14" r="1.5"/><circle cx="277.03" cy="443.38" r="1.5"/><circle cx="265.47" cy="448.48" r="1.5"/><circle cx="265.71" cy="447.04" r="1.5"/><circle cx="266.43" cy="448.01" r="1.5"/><circle cx="274.52" cy="448.35" r="1.5"/><circle cx="285.24" cy="448.84" r="1.5"/><circle cx="258.97" cy="452.2" r="1.5"/><circle cx="255.15" cy="453.72" r="1.5"/><circle cx="263.81" cy="450.89" r="1.5"/><circle cx="264.61" cy="450.6" r="1.5"/><circle cx="266.34" cy="451.21" r="1.5"/><circle cx="269.36" cy="453.74" r="1.5"/><circle cx="240.88" cy="455.88" r="1.5"/><circle cx="240.67" cy="455.87" r="1.5"/><circle cx="247.29" cy="457.71" r="1.5"/><circle cx="255.97" cy="458.17" r="1.5"/><circle cx="260.15" cy="456.95" r="1.5"/><circle cx="260.5" cy="456.09" r="1.5"/><circle cx="261.59" cy="458.37" r="1.5"/><circle cx="269.32" cy="456.6" r="1.5"/><circle cx="271.91" cy="456.08" r="1.5"/><circle cx="284.43" cy="454" r="1.5"/><circle cx="254.85" cy="460.46" r="1.5"/><circle cx="267.38" cy="460.55" r="1.5"/><circle cx="267.59" cy="460.28" r="1.5"/><circle cx="273.89" cy="463.13" r="1.5"/><circle cx="239.83" cy="463.28" r="1.5"/><circle cx="257.3" cy="464.87" r="1.5"/><circle cx="257.38" cy="464.63" r="1.5"/><circle cx="235.74" cy="471.07" r="1.5"/><circle cx="243.82" cy="469.71" r="1.5"/><circle cx="247.86" cy="467.18" r="1.5"/><circle cx="247.71" cy="470.78" r="1.5"/><circle cx="264.72" cy="471.77" r="1.5"/><circle cx="265.5" cy="471.21" r="1.5"/><circle cx="268.45" cy="471.64" r="1.5"/><circle cx="267.32" cy="472.54" r="1.5"/><circle cx="274.11" cy="472.08" r="1.5"/><circle cx="229.32" cy="478.53" r="1.5"/><circle cx="229.43" cy="479.64" r="1.5"/><circle cx="239.77" cy="474.49" r="1.5"/><circle cx="241.27" cy="475.32" r="1.5"/><circle cx="246.48" cy="473.7" r="1.5"/><circle cx="253.63" cy="477.49" r="1.5"/><circle cx="264.12" cy="474.05" r="1.5"/><circle cx="244.54" cy="477.61" r="1.5"/><circle cx="245.01" cy="483.26" r="1.5"/><circle cx="244.3" cy="483.26" r="1.5"/><circle cx="254.2" cy="480.16" r="1.5"/><circle cx="256.19" cy="478.62" r="1.5"/><circle cx="258.96" cy="482.59" r="1.5"/><circle cx="285.45" cy="482.65" r="1.5"/><circle cx="285.67" cy="481.84" r="1.5"/><circle cx="279.75" cy="484.29" r="1.5"/><circle cx="279.09" cy="484.47" r="1.5"/></g><g fill="#FB6593"><circle cx="296.6" cy="409" r="1.5"/><circle cx="320" cy="419.6" r="1.5"/><circle cx="318" cy="422" r="1.5"/><circle cx="320" cy="422" r="1.5"/><circle cx="282" cy="426.6" r="1.5"/><circle cx="289" cy="427" r="1.5"/><circle cx="294" cy="426.6" r="1.5"/><circle cx="290" cy="429.4" r="1.5"/><circle cx="311" cy="426.6" r="1.5"/><circle cx="311" cy="432" r="1.5"/><circle cx="311" cy="434" r="1.5"/><circle cx="279.4" cy="431" r="1.5"/><circle cx="281" cy="433" r="1.5"/><circle cx="263" cy="435" r="1.5"/><circle cx="285.6" cy="439" r="1.5"/><circle cx="293" cy="438" r="1.5"/><circle cx="293.6" cy="441" r="1.5"/><circle cx="296.6" cy="446.6" r="1.5"/><circle cx="260" cy="442" r="1.5"/><circle cx="270" cy="443" r="1.5"/><circle cx="276.4" cy="442.6" r="1.5"/><circle cx="280" cy="440" r="1.5"/><circle cx="265" cy="448" r="1.5"/><circle cx="268" cy="447" r="1.5"/><circle cx="274" cy="448" r="1.5"/><circle cx="285" cy="448.6" r="1.5"/><circle cx="259" cy="452" r="1.5"/><circle cx="255" cy="453.4" r="1.5"/><circle cx="263" cy="451" r="1.5"/><circle cx="266" cy="452" r="1.5"/><circle cx="269" cy="453.4" r="1.5"/><circle cx="241.6" cy="455" r="1.5"/><circle cx="247" cy="458" r="1.5"/><circle cx="256" cy="457" r="1.5"/><circle cx="261" cy="456" r="1.5"/><circle cx="261" cy="458.6" r="1.5"/><circle cx="270" cy="456" r="1.5"/><circle cx="273" cy="455" r="1.5"/><circle cx="279" cy="454" r="1.5"/><circle cx="284.6" cy="453.4" r="1.5"/><circle cx="254" cy="461" r="1.5"/><circle cx="258" cy="462" r="1.5"/><circle cx="267" cy="460" r="1.5"/><circle cx="274" cy="463" r="1.5"/><circle cx="240" cy="463.4" r="1.5"/><circle cx="257" cy="465" r="1.5"/><circle cx="265" cy="465" r="1.5"/><circle cx="236" cy="471" r="1.5"/><circle cx="240" cy="470" r="1.5"/><circle cx="243" cy="470" r="1.5"/><circle cx="247" cy="468" r="1.5"/><circle cx="247" cy="470.6" r="1.5"/><circle cx="252" cy="470" r="1.5"/><circle cx="265" cy="471" r="1.5"/><circle cx="268" cy="472" r="1.5"/><circle cx="275" cy="471" r="1.5"/><circle cx="229.6" cy="477" r="1.5"/><circle cx="229.6" cy="478.6" r="1.5"/><circle cx="240" cy="474" r="1.5"/><circle cx="241.6" cy="475.4" r="1.5"/><circle cx="246" cy="473.4" r="1.5"/><circle cx="253" cy="477" r="1.5"/><circle cx="263" cy="473.4" r="1.5"/><circle cx="244" cy="478" r="1.5"/><circle cx="244.4" cy="483" r="1.5"/><circle cx="255.6" cy="479" r="1.5"/><circle cx="258" cy="482.6" r="1.5"/><circle cx="285" cy="482" r="1.5"/><circle cx="279.4" cy="484.6" r="1.5"/><circle cx="233.6" cy="489" r="1.5"/></g></g>
<g><g fill="#EA8331"><circle cx="359.6" cy="458" r="1.5"/><circle cx="340" cy="488" r="1.5"/></g><g fill="#ABA300"><circle cx="385" cy="434" r="1.5"/><circle cx="422.6" cy="453.4" r="1.5"/><circle cx="369" cy="453.4" r="1.5"/></g><g fill="#00BE8A"><circle cx="378.94" cy="430.83" r="1.5"/><circle cx="403" cy="434.27" r="1.5"/><circle cx="390.28" cy="439.94" r="1.5"/><circle cx="396.51" cy="440.83" r="1.5"/><circle cx="377.79" cy="447.07" r="1.5"/><circle cx="357.54" cy="451.68" r="1.5"/><circle cx="378.32" cy="451.22" r="1.5"/><circle cx="387.45" cy="453.6" r="1.5"/><circle cx="377.63" cy="462.65" r="1.5"/><circle cx="356.58" cy="466.05" r="1.5"/><circle cx="359.08" cy="465.11" r="1.5"/><circle cx="345.52" cy="473.12" r="1.5"/><circle cx="402.48" cy="471.06" r="1.5"/><circle cx="404.53" cy="469.83" r="1.5"/><circle cx="363.63" cy="492.6" r="1.5"/><circle cx="396.4" cy="411" r="1.5"/><circle cx="401" cy="426.2" r="1.5"/><circle cx="393" cy="430" r="1.5"/><circle cx="373" cy="436" r="1.5"/><circle cx="364.6" cy="443.4" r="1.5"/><circle cx="419.6" cy="451" r="1.5"/><circle cx="398.4" cy="453.4" r="1.5"/><circle cx="387" cy="459" r="1.5"/><circle cx="374.6" cy="463.4" r="1.5"/><circle cx="393" cy="465" r="1.5"/><circle cx="351.6" cy="470" r="1.5"/><circle cx="393" cy="468" r="1.5"/><circle cx="372" cy="476" r="1.5"/><circle cx="392.4" cy="481" r="1.5"/><circle cx="364" cy="490" r="1.5"/></g><g fill="#0FA6FA"><circle cx="375.05" cy="421.01" r="1.5"/><circle cx="384.61" cy="426.87" r="1.5"/><circle cx="384.67" cy="427.15" r="1.5"/><circle cx="399.4" cy="425.97" r="1.5"/><circle cx="402.97" cy="433.9" r="1.5"/><circle cx="379.54" cy="433.74" r="1.5"/><circle cx="389.65" cy="434.83" r="1.5"/><circle cx="371.78" cy="435.81" r="1.5"/><circle cx="385.59" cy="439.82" r="1.5"/><circle cx="399.81" cy="438.27" r="1.5"/><circle cx="392.88" cy="444.33" r="1.5"/><circle cx="387.1" cy="444.78" r="1.5"/><circle cx="397.97" cy="446.23" r="1.5"/><circle cx="399.96" cy="447.42" r="1.5"/><circle cx="396.96" cy="455.26" r="1.5"/><circle cx="377.02" cy="446.87" r="1.5"/><circle cx="371.98" cy="449.68" r="1.5"/><circle cx="374.97" cy="448.14" r="1.5"/><circle cx="371.99" cy="452.17" r="1.5"/><circle cx="386.02" cy="447.92" r="1.5"/><circle cx="359.93" cy="451.71" r="1.5"/><circle cx="354.39" cy="452.34" r="1.5"/><circle cx="363.42" cy="452.55" r="1.5"/><circle cx="377.49" cy="456.37" r="1.5"/><circle cx="382.41" cy="453.83" r="1.5"/><circle cx="388.94" cy="456.2" r="1.5"/><circle cx="392.22" cy="452.91" r="1.5"/><circle cx="363.17" cy="457.37" r="1.5"/><circle cx="364.62" cy="458.56" r="1.5"/><circle cx="392.06" cy="459.27" r="1.5"/><circle cx="353.33" cy="463.13" r="1.5"/><circle cx="371.27" cy="461.01" r="1.5"/><circle cx="383.31" cy="463.07" r="1.5"/><circle cx="417.58" cy="463.22" r="1.5"/><circle cx="359.62" cy="463.73" r="1.5"/><circle cx="348.57" cy="471.86" r="1.5"/><circle cx="359.29" cy="469.54" r="1.5"/><circle cx="360.6" cy="469.58" r="1.5"/><circle cx="366.32" cy="472.18" r="1.5"/><circle cx="365.16" cy="470.94" r="1.5"/><circle cx="393.02" cy="469.67" r="1.5"/><circle cx="381.21" cy="470.93" r="1.5"/><circle cx="412.57" cy="473.92" r="1.5"/><circle cx="354.18" cy="474.37" r="1.5"/><circle cx="364.74" cy="476.32" r="1.5"/><circle cx="368.41" cy="475.04" r="1.5"/><circle cx="380.98" cy="476.57" r="1.5"/><circle cx="340.63" cy="482.7" r="1.5"/><circle cx="362.47" cy="481.04" r="1.5"/><circle cx="366.72" cy="488.7" r="1.5"/><circle cx="369.4" cy="423" r="1.5"/><circle cx="378" cy="426.6" r="1.5"/><circle cx="393.4" cy="427" r="1.5"/><circle cx="375" cy="429" r="1.5"/><circle cx="394" cy="432" r="1.5"/><circle cx="387" cy="436.6" r="1.5"/><circle cx="392" cy="439" r="1.5"/><circle cx="391" cy="443" r="1.5"/><circle cx="419.6" cy="448" r="1.5"/><circle cx="402" cy="446" r="1.5"/><circle cx="395" cy="449" r="1.5"/><circle cx="371" cy="450" r="1.5"/><circle cx="384" cy="446.6" r="1.5"/><circle cx="362" cy="449.4" r="1.5"/><circle cx="356" cy="453.4" r="1.5"/><circle cx="376" cy="455" r="1.5"/><circle cx="355.6" cy="456.6" r="1.5"/><circle cx="385" cy="459" r="1.5"/><circle cx="398.4" cy="459" r="1.5"/><circle cx="354" cy="461" r="1.5"/><circle cx="380" cy="464.6" r="1.5"/><circle cx="387" cy="465" r="1.5"/><circle cx="352" cy="465" r="1.5"/><circle cx="364" cy="464" r="1.5"/><circle cx="370.6" cy="466" r="1.5"/><circle cx="362" cy="470" r="1.5"/><circle cx="368" cy="472" r="1.5"/><circle cx="381" cy="472" r="1.5"/><circle cx="394.6" cy="469" r="1.5"/><circle cx="399" cy="472" r="1.5"/><circle cx="357" cy="475" r="1.5"/><circle cx="360" cy="475" r="1.5"/><circle cx="366" cy="473" r="1.5"/><circle cx="373" cy="477.4" r="1.5"/><circle cx="390" cy="475" r="1.5"/><circle cx="392" cy="476" r="1.5"/><circle cx="355" cy="482" r="1.5"/><circle cx="360" cy="481" r="1.5"/><circle cx="373" cy="482.6" r="1.5"/><circle cx="332" cy="490.6" r="1.5"/><circle cx="361.6" cy="493.6" r="1.5"/></g><g fill="#8B93FF"><circle cx="400.64" cy="434.82" r="1.5"/><circle cx="400" cy="447.43" r="1.5"/><circle cx="396.97" cy="454.16" r="1.5"/><circle cx="393.69" cy="452.33" r="1.5"/><circle cx="369.57" cy="461.83" r="1.5"/><circle cx="377.53" cy="478.17" r="1.5"/><circle cx="396.4" cy="409" r="1.5"/><circle cx="406" cy="429.6" r="1.5"/><circle cx="410" cy="435.4" r="1.5"/><circle cx="378" cy="444" r="1.5"/><circle cx="419.6" cy="444" r="1.5"/><circle cx="353" cy="458" r="1.5"/><circle cx="415" cy="466" r="1.5"/><circle cx="418" cy="466.6" r="1.5"/><circle cx="364" cy="483" r="1.5"/><circle cx="369" cy="482.6" r="1.5"/><circle cx="332" cy="488" r="1.5"/></g><g fill="#F266E6"><circle cx="375.35" cy="421.42" r="1.5"/><circle cx="378" cy="428.06" r="1.5"/><circle cx="388.2" cy="425.82" r="1.5"/><circle cx="382.76" cy="431.91" r="1.5"/><circle cx="388.73" cy="435.3" r="1.5"/><circle cx="367.3" cy="440.02" r="1.5"/><circle cx="387.6" cy="443.95" r="1.5"/><circle cx="385.01" cy="455.51" r="1.5"/><circle cx="388.81" cy="456.67" r="1.5"/><circle cx="394.04" cy="458.21" r="1.5"/><circle cx="372.73" cy="461.16" r="1.5"/><circle cx="421.08" cy="461.81" r="1.5"/><circle cx="347.46" cy="472.37" r="1.5"/><circle cx="353.04" cy="469.36" r="1.5"/><circle cx="391.11" cy="470" r="1.5"/><circle cx="355.2" cy="478.3" r="1.5"/><circle cx="360" cy="477.18" r="1.5"/><circle cx="363.58" cy="473.75" r="1.5"/><circle cx="363.14" cy="480.52" r="1.5"/><circle cx="370" cy="459" r="1.5"/><circle cx="395.4" cy="460" r="1.5"/><circle cx="360" cy="479.4" r="1.5"/></g><g fill="#FF63B6"><circle cx="401.16" cy="410.36" r="1.5"/><circle cx="376.67" cy="421.19" r="1.5"/><circle cx="373.69" cy="421.57" r="1.5"/><circle cx="370.78" cy="421.74" r="1.5"/><circle cx="380.59" cy="427.6" r="1.5"/><circle cx="381.59" cy="428.03" r="1.5"/><circle cx="386.08" cy="426.16" r="1.5"/><circle cx="387.24" cy="426.47" r="1.5"/><circle cx="398.15" cy="426.61" r="1.5"/><circle cx="399.61" cy="425.87" r="1.5"/><circle cx="380.92" cy="430.64" r="1.5"/><circle cx="406.07" cy="432.52" r="1.5"/><circle cx="402.07" cy="434.01" r="1.5"/><circle cx="379" cy="433.37" r="1.5"/><circle cx="384.3" cy="436.03" r="1.5"/><circle cx="389.22" cy="436.27" r="1.5"/><circle cx="397.84" cy="435.66" r="1.5"/><circle cx="369.81" cy="436.94" r="1.5"/><circle cx="367.77" cy="440.38" r="1.5"/><circle cx="385.79" cy="441.7" r="1.5"/><circle cx="387.62" cy="441.04" r="1.5"/><circle cx="392.05" cy="438.91" r="1.5"/><circle cx="393.91" cy="439.17" r="1.5"/><circle cx="396.11" cy="441.29" r="1.5"/><circle cx="395.68" cy="441.02" r="1.5"/><circle cx="395.31" cy="442.18" r="1.5"/><circle cx="388.58" cy="443.92" r="1.5"/><circle cx="380.89" cy="448.13" r="1.5"/><circle cx="382.21" cy="446.13" r="1.5"/><circle cx="419" cy="452.46" r="1.5"/><circle cx="410.98" cy="450.98" r="1.5"/><circle cx="393.93" cy="449.13" r="1.5"/><circle cx="396.5" cy="455.28" r="1.5"/><circle cx="396.26" cy="455.05" r="1.5"/><circle cx="375.06" cy="450.72" r="1.5"/><circle cx="386.27" cy="448.01" r="1.5"/><circle cx="358.75" cy="451.73" r="1.5"/><circle cx="358.94" cy="451.09" r="1.5"/><circle cx="362.21" cy="452.6" r="1.5"/><circle cx="377.04" cy="452.97" r="1.5"/><circle cx="376.72" cy="452.15" r="1.5"/><circle cx="377.53" cy="456.41" r="1.5"/><circle cx="384.55" cy="454.09" r="1.5"/><circle cx="387.87" cy="453.96" r="1.5"/><circle cx="388.95" cy="454.08" r="1.5"/><circle cx="392.14" cy="453.78" r="1.5"/><circle cx="360.52" cy="457.65" r="1.5"/><circle cx="363.94" cy="455.98" r="1.5"/><circle cx="367.88" cy="458.68" r="1.5"/><circle cx="392.97" cy="458.03" r="1.5"/><circle cx="358.77" cy="460.72" r="1.5"/><circle cx="360.72" cy="461.44" r="1.5"/><circle cx="369.19" cy="461.81" r="1.5"/><circle cx="371.25" cy="461.38" r="1.5"/><circle cx="384.4" cy="462.42" r="1.5"/><circle cx="392.33" cy="463.45" r="1.5"/><circle cx="355.42" cy="465.52" r="1.5"/><circle cx="351.4" cy="467" r="1.5"/><circle cx="356.55" cy="465.95" r="1.5"/><circle cx="367.56" cy="464.88" r="1.5"/><circle cx="365.21" cy="466.11" r="1.5"/><circle cx="370.36" cy="468.11" r="1.5"/><circle cx="343.86" cy="474.77" r="1.5"/><circle cx="345.48" cy="473.11" r="1.5"/><circle cx="343.77" cy="472.86" r="1.5"/><circle cx="348.8" cy="472.4" r="1.5"/><circle cx="350.55" cy="471.11" r="1.5"/><circle cx="350.11" cy="470.26" r="1.5"/><circle cx="366.86" cy="471.18" r="1.5"/><circle cx="389.95" cy="469.68" r="1.5"/><circle cx="393.25" cy="468.22" r="1.5"/><circle cx="388.97" cy="471.6" r="1.5"/><circle cx="382.18" cy="471.59" r="1.5"/><circle cx="404.67" cy="470.29" r="1.5"/><circle cx="404.55" cy="469.71" r="1.5"/><circle cx="404.36" cy="471.3" r="1.5"/><circle cx="415.99" cy="473.49" r="1.5"/><circle cx="355.36" cy="474.6" r="1.5"/><circle cx="355.97" cy="474.88" r="1.5"/><circle cx="352.64" cy="479.62" r="1.5"/><circle cx="369.11" cy="474.78" r="1.5"/><circle cx="377.66" cy="475.45" r="1.5"/><circle cx="380.76" cy="476.65" r="1.5"/><circle cx="341.39" cy="482.5" r="1.5"/><circle cx="339.65" cy="484.78" r="1.5"/><circle cx="340.51" cy="484.89" r="1.5"/><circle cx="355.31" cy="482.01" r="1.5"/><circle cx="356.55" cy="482.48" r="1.5"/><circle cx="367.04" cy="478.55" r="1.5"/><circle cx="367.06" cy="488.91" r="1.5"/><circle cx="359.61" cy="492.49" r="1.5"/><circle cx="361.76" cy="492.31" r="1.5"/></g><g fill="#FB6593"><circle cx="401.4" cy="409" r="1.5"/><circle cx="381" cy="419.4" r="1.5"/><circle cx="375" cy="421.4" r="1.5"/><circle cx="372" cy="422" r="1.5"/><circle cx="381" cy="427" r="1.5"/><circle cx="384" cy="427" r="1.5"/><circle cx="387" cy="426" r="1.5"/><circle cx="397" cy="426.6" r="1.5"/><circle cx="400" cy="425.6" r="1.5"/><circle cx="380" cy="430" r="1.5"/><circle cx="397" cy="432" r="1.5"/><circle cx="405.6" cy="432.6" r="1.5"/><circle cx="402" cy="434" r="1.5"/><circle cx="380" cy="433" r="1.5"/><circle cx="384" cy="436" r="1.5"/><circle cx="390" cy="435" r="1.5"/><circle cx="399" cy="435" r="1.5"/><circle cx="370" cy="436.6" r="1.5"/><circle cx="366" cy="441" r="1.5"/><circle cx="385" cy="440" r="1.5"/><circle cx="386" cy="442" r="1.5"/><circle cx="394" cy="438" r="1.5"/><circle cx="399" cy="439" r="1.5"/><circle cx="396" cy="441" r="1.5"/><circle cx="394" cy="443" r="1.5"/><circle cx="387" cy="444" r="1.5"/><circle cx="384" cy="446" r="1.5"/><circle cx="416.6" cy="453" r="1.5"/><circle cx="409.4" cy="451" r="1.5"/><circle cx="396" cy="447.4" r="1.5"/><circle cx="400" cy="446.6" r="1.5"/><circle cx="396" cy="455" r="1.5"/><circle cx="376" cy="447" r="1.5"/><circle cx="373" cy="449" r="1.5"/><circle cx="375" cy="451" r="1.5"/><circle cx="388" cy="447" r="1.5"/><circle cx="360" cy="451" r="1.5"/><circle cx="357" cy="452" r="1.5"/><circle cx="363" cy="452" r="1.5"/><circle cx="377" cy="452" r="1.5"/><circle cx="378" cy="456" r="1.5"/><circle cx="383" cy="453.4" r="1.5"/><circle cx="387" cy="454" r="1.5"/><circle cx="389" cy="456" r="1.5"/><circle cx="392" cy="453.4" r="1.5"/><circle cx="362" cy="457" r="1.5"/><circle cx="364" cy="456.6" r="1.5"/><circle cx="366" cy="458" r="1.5"/><circle cx="383" cy="458" r="1.5"/><circle cx="391" cy="458" r="1.5"/><circle cx="394" cy="458" r="1.5"/><circle cx="356" cy="462" r="1.5"/><circle cx="361" cy="461" r="1.5"/><circle cx="371" cy="461" r="1.5"/><circle cx="379" cy="462" r="1.5"/><circle cx="385" cy="462" r="1.5"/><circle cx="392" cy="463" r="1.5"/><circle cx="417.6" cy="463" r="1.5"/><circle cx="355" cy="466" r="1.5"/><circle cx="358" cy="465" r="1.5"/><circle cx="365" cy="466" r="1.5"/><circle cx="372" cy="467" r="1.5"/><circle cx="343" cy="474" r="1.5"/><circle cx="346" cy="472.6" r="1.5"/><circle cx="349" cy="472" r="1.5"/><circle cx="353" cy="469" r="1.5"/><circle cx="360" cy="469" r="1.5"/><circle cx="366.6" cy="471" r="1.5"/><circle cx="391" cy="469" r="1.5"/><circle cx="389" cy="471" r="1.5"/><circle cx="383" cy="471" r="1.5"/><circle cx="402" cy="471" r="1.5"/><circle cx="404.6" cy="470" r="1.5"/><circle cx="403" cy="477" r="1.5"/><circle cx="413.6" cy="474" r="1.5"/><circle cx="354" cy="475" r="1.5"/><circle cx="355" cy="478" r="1.5"/><circle cx="361" cy="477" r="1.5"/><circle cx="363" cy="474" r="1.5"/><circle cx="371" cy="474" r="1.5"/><circle cx="378" cy="474.6" r="1.5"/><circle cx="379" cy="477" r="1.5"/><circle cx="340.6" cy="482" r="1.5"/><circle cx="340.6" cy="484.6" r="1.5"/><circle cx="357" cy="481" r="1.5"/><circle cx="363" cy="480" r="1.5"/><circle cx="366" cy="488.6" r="1.5"/><circle cx="362" cy="492" r="1.5"/></g></g>
<g><text x="172.54" y="37.1" text-anchor="middle" font-size="6.4" fill="#4d4d4d">Corr: 0.031</text><text y="47.8" font-size="6.4" fill="#F8766D" stroke="#F8766D" stroke-width="0.18"><tspan x="133.6">a: </tspan><tspan x="140.72">0.013</tspan></text><text y="52.52" font-size="6.4" fill="#E18A00" stroke="#E18A00" stroke-width="0.18"><tspan x="133.78">c: </tspan><tspan x="140.72">0.008</tspan></text><text y="57.24" font-size="6.4" fill="#BE9C00" stroke="#BE9C00" stroke-width="0.18"><tspan x="133.6">e: </tspan><tspan x="140.72">0.008</tspan></text><text y="61.96" font-size="6.4" fill="#8CAB00" stroke="#8CAB00" stroke-width="0.18"><tspan x="133.6">g: </tspan><tspan x="140.72">0.008</tspan></text><text y="66.68" font-size="6.4" fill="#24B700" stroke="#24B700" stroke-width="0.18"><tspan x="134.67">i: </tspan><tspan x="140.72">0.008</tspan></text><text y="71.4" font-size="6.4" fill="#00BE70" stroke="#00BE70" stroke-width="0.18"><tspan x="133.78">k: </tspan><tspan x="140.72">0.008</tspan></text><text y="76.12" font-size="6.4" fill="#00C1AB" stroke="#00C1AB" stroke-width="0.18"><tspan x="132.71">m: </tspan><tspan x="140.72">0.103</tspan></text><text y="80.84" font-size="6.4" fill="#00BBDA" stroke="#00BBDA" stroke-width="0.18"><tspan x="133.6">o: </tspan><tspan x="140.72">0.078</tspan></text><text y="85.56" font-size="6.4" fill="#00ACFC" stroke="#00ACFC" stroke-width="0.18"><tspan x="133.6">q: </tspan><tspan x="140.72">0.113</tspan></text><text y="90.28" font-size="6.4" fill="#8B93FF" stroke="#8B93FF" stroke-width="0.18"><tspan x="133.78">s: </tspan><tspan x="140.72">−0.004</tspan></text><text y="95" font-size="6.4" fill="#D575FE" stroke="#D575FE" stroke-width="0.18"><tspan x="133.6">u: </tspan><tspan x="140.72">0.065</tspan></text><text y="99.72" font-size="6.4" fill="#F962DD" stroke="#F962DD" stroke-width="0.18"><tspan x="133.07">w: </tspan><tspan x="140.72">0.054</tspan></text><text y="104.44" font-size="6.4" fill="#FF65AC" stroke="#FF65AC" stroke-width="0.18"><tspan x="133.78">y: </tspan><tspan x="140.72">0.006</tspan></text><text y="47.8" font-size="6.4" fill="#EE8043" stroke="#EE8043" stroke-width="0.18"><tspan x="169.6">b: </tspan><tspan x="176.72">0.008</tspan></text><text y="52.52" font-size="6.4" fill="#D19300" stroke="#D19300" stroke-width="0.18"><tspan x="169.6">d: </tspan><tspan x="176.72">0.008</tspan></text><text y="57.24" font-size="6.4" fill="#A8A400" stroke="#A8A400" stroke-width="0.18"><tspan x="170.49">f: </tspan><tspan x="176.72">0.190</tspan></text><text y="61.96" font-size="6.4" fill="#68B100" stroke="#68B100" stroke-width="0.18"><tspan x="169.6">h: </tspan><tspan x="176.72">0.008</tspan></text><text y="66.68" font-size="6.4" fill="#00BB49" stroke="#00BB49" stroke-width="0.18"><tspan x="170.67">j: </tspan><tspan x="176.72">0.008</tspan></text><text y="71.4" font-size="6.4" fill="#00C090" stroke="#00C090" stroke-width="0.18"><tspan x="170.67">l: </tspan><tspan x="176.72">0.037</tspan></text><text y="76.12" font-size="6.4" fill="#00BFC4" stroke="#00BFC4" stroke-width="0.18"><tspan x="169.6">n: </tspan><tspan x="176.72">0.005</tspan></text><text y="80.84" font-size="6.4" fill="#00B5ED" stroke="#00B5ED" stroke-width="0.18"><tspan x="169.6">p: </tspan><tspan x="176.72">0.070</tspan></text><text y="85.56" font-size="6.4" fill="#42A0FF" stroke="#42A0FF" stroke-width="0.18"><tspan x="170.31">r: </tspan><tspan x="176.72">−0.010</tspan></text><text y="90.28" font-size="6.4" fill="#B684FF" stroke="#B684FF" stroke-width="0.18"><tspan x="170.49">t: </tspan><tspan x="176.72">0.013</tspan></text><text y="95" font-size="6.4" fill="#EB69F0" stroke="#EB69F0" stroke-width="0.18"><tspan x="169.78">v: </tspan><tspan x="176.72">−0.157</tspan></text><text y="99.72" font-size="6.4" fill="#FF61C6" stroke="#FF61C6" stroke-width="0.18"><tspan x="169.78">x: </tspan><tspan x="176.72">0.067</tspan></text><text y="104.44" font-size="6.4" fill="#FF6D8E" stroke="#FF6D8E" stroke-width="0.18"><tspan x="169.78">z: </tspan><tspan x="176.72">0.088</tspan></text></g>
<g><text x="274.98" y="37.1" text-anchor="middle" font-size="6.4" fill="#4d4d4d">Corr: −0.167***</text><text y="43.8" font-size="6.4" fill="#F8766D" stroke="#F8766D" stroke-width="0.18"><tspan x="243">a: </tspan><tspan x="250.12">−0.195</tspan></text><text y="48.4" font-size="6.4" fill="#E18A00" stroke="#E18A00" stroke-width="0.18"><tspan x="243.18">c: </tspan><tspan x="250.12">−0.199</tspan></text><text y="53.2" font-size="6.4" fill="#BE9C00" stroke="#BE9C00" stroke-width="0.18"><tspan x="243">e: </tspan><tspan x="250.12">−0.199</tspan></text><text y="58.4" font-size="6.4" fill="#8CAB00" stroke="#8CAB00" stroke-width="0.18"><tspan x="243">g: </tspan><tspan x="250.12">−0.199.</tspan></text><text y="65.2" font-size="6.4" fill="#24B700" stroke="#24B700" stroke-width="0.18"><tspan x="244.07">i: </tspan><tspan x="250.12">−0.199.</tspan></text><text y="70.8" font-size="6.4" fill="#00C090" stroke="#00C090" stroke-width="0.18"><tspan x="244.07">l: </tspan><tspan x="250.12">−0.103</tspan></text><text y="75.2" font-size="6.4" fill="#00BFC4" stroke="#00BFC4" stroke-width="0.18"><tspan x="243">n: </tspan><tspan x="250.12">−0.192</tspan></text><text y="80.8" font-size="6.4" fill="#00B5ED" stroke="#00B5ED" stroke-width="0.18"><tspan x="243">p: </tspan><tspan x="250.12">−0.114</tspan></text><text y="87.2" font-size="6.4" fill="#8B93FF" stroke="#8B93FF" stroke-width="0.18"><tspan x="243.18">s: </tspan><tspan x="250.12">−0.200.</tspan></text><text y="93.2" font-size="6.4" fill="#D575FE" stroke="#D575FE" stroke-width="0.18"><tspan x="243">u: </tspan><tspan x="250.12">−0.111</tspan></text><text y="97.8" font-size="6.4" fill="#F962DD" stroke="#F962DD" stroke-width="0.18"><tspan x="242.47">w: </tspan><tspan x="250.12">−0.111</tspan></text><text y="102.8" font-size="6.4" fill="#FF65AC" stroke="#FF65AC" stroke-width="0.18"><tspan x="243.18">y: </tspan><tspan x="250.12">−0.196.</tspan></text><text y="108.8" font-size="6.4" fill="#00BE70" stroke="#00BE70" stroke-width="0.18"><tspan x="243.18">k: </tspan><tspan x="250.12">−0.199.</tspan></text><text y="43.8" font-size="6.4" fill="#EE8043" stroke="#EE8043" stroke-width="0.18"><tspan x="284.4">b: </tspan><tspan x="291.52">−0.199</tspan></text><text y="48.4" font-size="6.4" fill="#D19300" stroke="#D19300" stroke-width="0.18"><tspan x="284.4">d: </tspan><tspan x="291.52">−0.199</tspan></text><text y="53.2" font-size="6.4" fill="#A8A400" stroke="#A8A400" stroke-width="0.18"><tspan x="285.29">f: </tspan><tspan x="291.52">−0.095</tspan></text><text y="58.4" font-size="6.4" fill="#68B100" stroke="#68B100" stroke-width="0.18"><tspan x="284.4">h: </tspan><tspan x="291.52">−0.199</tspan></text><text y="65.2" font-size="6.4" fill="#00BE70" stroke="#00BE70" stroke-width="0.18"><tspan x="284.58">k: </tspan><tspan x="291.52">−0.199</tspan></text><text y="70.8" font-size="6.4" fill="#00C1AB" stroke="#00C1AB" stroke-width="0.18"><tspan x="283.51">m: </tspan><tspan x="291.52">−0.091</tspan></text><text y="75.2" font-size="6.4" fill="#00BBDA" stroke="#00BBDA" stroke-width="0.18"><tspan x="284.4">o: </tspan><tspan x="291.52">−0.110</tspan></text><text y="80.8" font-size="6.4" fill="#00ACFC" stroke="#00ACFC" stroke-width="0.18"><tspan x="284.4">q: </tspan><tspan x="291.52">−0.088</tspan></text><text y="87.2" font-size="6.4" fill="#B684FF" stroke="#B684FF" stroke-width="0.18"><tspan x="285.29">t: </tspan><tspan x="291.52">−0.187.</tspan></text><text y="93.2" font-size="6.4" fill="#EB69F0" stroke="#EB69F0" stroke-width="0.18"><tspan x="284.58">v: </tspan><tspan x="291.52">−0.082</tspan></text><text y="97.8" font-size="6.4" fill="#FF61C6" stroke="#FF61C6" stroke-width="0.18"><tspan x="284.58">x: </tspan><tspan x="291.52">−0.113</tspan></text><text y="102.8" font-size="6.4" fill="#FF6D8E" stroke="#FF6D8E" stroke-width="0.18"><tspan x="284.58">z: </tspan><tspan x="291.52">−0.107</tspan></text><text y="108.8" font-size="6.4" fill="#42A0FF" stroke="#42A0FF" stroke-width="0.18"><tspan x="285.11">r: </tspan><tspan x="291.52">−0.205.</tspan></text></g>
<g><text x="377.42" y="37.1" text-anchor="middle" font-size="6.4" fill="#4d4d4d">Corr: 0.102***</text><text y="43.8" font-size="6.4" fill="#F8766D" stroke="#F8766D" stroke-width="0.18"><tspan x="344">a: </tspan><tspan x="351.12">0.062</tspan></text><text y="48.38" font-size="6.4" fill="#E18A00" stroke="#E18A00" stroke-width="0.18"><tspan x="344.18">c: </tspan><tspan x="351.12">0.061</tspan></text><text y="52.96" font-size="6.4" fill="#BE9C00" stroke="#BE9C00" stroke-width="0.18"><tspan x="344">e: </tspan><tspan x="351.12">0.061</tspan></text><text y="57.54" font-size="6.4" fill="#8CAB00" stroke="#8CAB00" stroke-width="0.18"><tspan x="344">g: </tspan><tspan x="351.12">0.061</tspan></text><text y="62.12" font-size="6.4" fill="#24B700" stroke="#24B700" stroke-width="0.18"><tspan x="345.07">i: </tspan><tspan x="351.12">0.062</tspan></text><text y="66.7" font-size="6.4" fill="#00BE70" stroke="#00BE70" stroke-width="0.18"><tspan x="344.18">k: </tspan><tspan x="351.12">0.061</tspan></text><text y="71.28" font-size="6.4" fill="#00C1AB" stroke="#00C1AB" stroke-width="0.18"><tspan x="343.11">m: </tspan><tspan x="351.12">0.208.</tspan></text><text y="75.86" font-size="6.4" fill="#00BBDA" stroke="#00BBDA" stroke-width="0.18"><tspan x="344">o: </tspan><tspan x="351.12">0.174</tspan></text><text y="80.44" font-size="6.4" fill="#00ACFC" stroke="#00ACFC" stroke-width="0.18"><tspan x="344">q: </tspan><tspan x="351.12">0.233</tspan></text><text y="85.02" font-size="6.4" fill="#8B93FF" stroke="#8B93FF" stroke-width="0.18"><tspan x="344.18">s: </tspan><tspan x="351.12">0.057</tspan></text><text y="89.6" font-size="6.4" fill="#D575FE" stroke="#D575FE" stroke-width="0.18"><tspan x="344">u: </tspan><tspan x="351.12">0.185</tspan></text><text y="94.18" font-size="6.4" fill="#F962DD" stroke="#F962DD" stroke-width="0.18"><tspan x="343.47">w: </tspan><tspan x="351.12">0.187</tspan></text><text y="98.76" font-size="6.4" fill="#FF65AC" stroke="#FF65AC" stroke-width="0.18"><tspan x="344.18">y: </tspan><tspan x="351.12">0.064</tspan></text><text y="43.8" font-size="6.4" fill="#EE8043" stroke="#EE8043" stroke-width="0.18"><tspan x="384">b: </tspan><tspan x="391.12">0.061</tspan></text><text y="48.38" font-size="6.4" fill="#D19300" stroke="#D19300" stroke-width="0.18"><tspan x="384">d: </tspan><tspan x="391.12">0.062</tspan></text><text y="52.96" font-size="6.4" fill="#A8A400" stroke="#A8A400" stroke-width="0.18"><tspan x="384.89">f: </tspan><tspan x="391.12">0.054</tspan></text><text y="57.54" font-size="6.4" fill="#68B100" stroke="#68B100" stroke-width="0.18"><tspan x="384">h: </tspan><tspan x="391.12">0.062</tspan></text><text y="62.12" font-size="6.4" fill="#00BB49" stroke="#00BB49" stroke-width="0.18"><tspan x="385.07">j: </tspan><tspan x="391.12">0.062</tspan></text><text y="66.7" font-size="6.4" fill="#00C090" stroke="#00C090" stroke-width="0.18"><tspan x="385.07">l: </tspan><tspan x="391.12">0.106</tspan></text><text y="71.28" font-size="6.4" fill="#00BFC4" stroke="#00BFC4" stroke-width="0.18"><tspan x="384">n: </tspan><tspan x="391.12">0.053</tspan></text><text y="75.86" font-size="6.4" fill="#00B5ED" stroke="#00B5ED" stroke-width="0.18"><tspan x="384">p: </tspan><tspan x="391.12">0.158</tspan></text><text y="80.44" font-size="6.4" fill="#42A0FF" stroke="#42A0FF" stroke-width="0.18"><tspan x="384.71">r: </tspan><tspan x="391.12">0.050</tspan></text><text y="85.02" font-size="6.4" fill="#B684FF" stroke="#B684FF" stroke-width="0.18"><tspan x="384.89">t: </tspan><tspan x="391.12">0.061</tspan></text><text y="89.6" font-size="6.4" fill="#EB69F0" stroke="#EB69F0" stroke-width="0.18"><tspan x="384.18">v: </tspan><tspan x="391.12">0.019</tspan></text><text y="94.18" font-size="6.4" fill="#FF61C6" stroke="#FF61C6" stroke-width="0.18"><tspan x="384.18">x: </tspan><tspan x="391.12">0.174</tspan></text><text y="98.76" font-size="6.4" fill="#FF6D8E" stroke="#FF6D8E" stroke-width="0.18"><tspan x="384.18">z: </tspan><tspan x="391.12">0.161</tspan></text></g>
<g><text x="479.86" y="37.1" text-anchor="middle" font-size="6.4" fill="#4d4d4d">Corr: −0.036</text><text y="42.8" font-size="6.4" fill="#F8766D" stroke="#F8766D" stroke-width="0.18"><tspan x="445">a: </tspan><tspan x="452.12">−0.073</tspan></text><text y="47.43" font-size="6.4" fill="#E18A00" stroke="#E18A00" stroke-width="0.18"><tspan x="445.18">c: </tspan><tspan x="452.12">−0.078</tspan></text><text y="52.06" font-size="6.4" fill="#BE9C00" stroke="#BE9C00" stroke-width="0.18"><tspan x="445">e: </tspan><tspan x="452.12">−0.078</tspan></text><text y="56.69" font-size="6.4" fill="#8CAB00" stroke="#8CAB00" stroke-width="0.18"><tspan x="445">g: </tspan><tspan x="452.12">−0.078</tspan></text><text y="61.32" font-size="6.4" fill="#24B700" stroke="#24B700" stroke-width="0.18"><tspan x="446.07">i: </tspan><tspan x="452.12">−0.078</tspan></text><text y="65.95" font-size="6.4" fill="#00BE70" stroke="#00BE70" stroke-width="0.18"><tspan x="445.18">k: </tspan><tspan x="452.12">−0.075</tspan></text><text y="70.58" font-size="6.4" fill="#00C1AB" stroke="#00C1AB" stroke-width="0.18"><tspan x="444.11">m: </tspan><tspan x="452.12">0.087</tspan></text><text y="75.21" font-size="6.4" fill="#00BBDA" stroke="#00BBDA" stroke-width="0.18"><tspan x="445">o: </tspan><tspan x="452.12">0.056</tspan></text><text y="79.84" font-size="6.4" fill="#00ACFC" stroke="#00ACFC" stroke-width="0.18"><tspan x="445">q: </tspan><tspan x="452.12">0.039</tspan></text><text y="84.47" font-size="6.4" fill="#8B93FF" stroke="#8B93FF" stroke-width="0.18"><tspan x="445.18">s: </tspan><tspan x="452.12">−0.084</tspan></text><text y="89.1" font-size="6.4" fill="#D575FE" stroke="#D575FE" stroke-width="0.18"><tspan x="445">u: </tspan><tspan x="452.12">0.058</tspan></text><text y="93.73" font-size="6.4" fill="#F962DD" stroke="#F962DD" stroke-width="0.18"><tspan x="444.47">w: </tspan><tspan x="452.12">0.046</tspan></text><text y="98.36" font-size="6.4" fill="#FF65AC" stroke="#FF65AC" stroke-width="0.18"><tspan x="445.18">y: </tspan><tspan x="452.12">−0.072</tspan></text><text y="42.8" font-size="6.4" fill="#EE8043" stroke="#EE8043" stroke-width="0.18"><tspan x="487.4">b: </tspan><tspan x="494.52">−0.078</tspan></text><text y="47.43" font-size="6.4" fill="#D19300" stroke="#D19300" stroke-width="0.18"><tspan x="487.4">d: </tspan><tspan x="494.52">−0.078</tspan></text><text y="52.06" font-size="6.4" fill="#A8A400" stroke="#A8A400" stroke-width="0.18"><tspan x="488.29">f: </tspan><tspan x="494.52">0.074</tspan></text><text y="56.69" font-size="6.4" fill="#68B100" stroke="#68B100" stroke-width="0.18"><tspan x="487.4">h: </tspan><tspan x="494.52">−0.078</tspan></text><text y="61.32" font-size="6.4" fill="#00BB49" stroke="#00BB49" stroke-width="0.18"><tspan x="488.47">j: </tspan><tspan x="494.52">−0.078</tspan></text><text y="65.95" font-size="6.4" fill="#00C090" stroke="#00C090" stroke-width="0.18"><tspan x="488.47">l: </tspan><tspan x="494.52">0.082</tspan></text><text y="70.58" font-size="6.4" fill="#00BFC4" stroke="#00BFC4" stroke-width="0.18"><tspan x="487.4">n: </tspan><tspan x="494.52">−0.080</tspan></text><text y="75.21" font-size="6.4" fill="#00B5ED" stroke="#00B5ED" stroke-width="0.18"><tspan x="487.4">p: </tspan><tspan x="494.52">0.037</tspan></text><text y="79.84" font-size="6.4" fill="#42A0FF" stroke="#42A0FF" stroke-width="0.18"><tspan x="488.11">r: </tspan><tspan x="494.52">−0.091</tspan></text><text y="84.47" font-size="6.4" fill="#B684FF" stroke="#B684FF" stroke-width="0.18"><tspan x="488.29">t: </tspan><tspan x="494.52">−0.094</tspan></text><text y="89.1" font-size="6.4" fill="#EB69F0" stroke="#EB69F0" stroke-width="0.18"><tspan x="487.58">v: </tspan><tspan x="494.52">−0.113</tspan></text><text y="93.73" font-size="6.4" fill="#FF61C6" stroke="#FF61C6" stroke-width="0.18"><tspan x="487.58">x: </tspan><tspan x="494.52">0.035</tspan></text><text y="98.36" font-size="6.4" fill="#FF6D8E" stroke="#FF6D8E" stroke-width="0.18"><tspan x="487.58">z: </tspan><tspan x="494.52">0.050</tspan></text></g>
<g><text x="274.98" y="132.75" text-anchor="middle" font-size="6.4" fill="#4d4d4d">Corr: 0.357***</text><text y="138.05" font-size="6.4" fill="#F8766D" stroke="#F8766D" stroke-width="0.18"><tspan x="240">a: </tspan><tspan x="247.12">0.377**</tspan></text><text y="142.68" font-size="6.4" fill="#E18A00" stroke="#E18A00" stroke-width="0.18"><tspan x="240.18">c: </tspan><tspan x="247.12">0.381***</tspan></text><text y="147.31" font-size="6.4" fill="#BE9C00" stroke="#BE9C00" stroke-width="0.18"><tspan x="240">e: </tspan><tspan x="247.12">0.381***</tspan></text><text y="151.94" font-size="6.4" fill="#8CAB00" stroke="#8CAB00" stroke-width="0.18"><tspan x="240">g: </tspan><tspan x="247.12">0.381***</tspan></text><text y="156.57" font-size="6.4" fill="#24B700" stroke="#24B700" stroke-width="0.18"><tspan x="241.07">i: </tspan><tspan x="247.12">0.381***</tspan></text><text y="161.2" font-size="6.4" fill="#00BE70" stroke="#00BE70" stroke-width="0.18"><tspan x="240.18">k: </tspan><tspan x="247.12">0.381***</tspan></text><text y="165.83" font-size="6.4" fill="#00C1AB" stroke="#00C1AB" stroke-width="0.18"><tspan x="239.11">m: </tspan><tspan x="247.12">0.312**</tspan></text><text y="170.46" font-size="6.4" fill="#00BBDA" stroke="#00BBDA" stroke-width="0.18"><tspan x="240">o: </tspan><tspan x="247.12">0.319**</tspan></text><text y="175.09" font-size="6.4" fill="#00ACFC" stroke="#00ACFC" stroke-width="0.18"><tspan x="240">q: </tspan><tspan x="247.12">0.316**</tspan></text><text y="179.72" font-size="6.4" fill="#8B93FF" stroke="#8B93FF" stroke-width="0.18"><tspan x="240.18">s: </tspan><tspan x="247.12">0.384***</tspan></text><text y="184.35" font-size="6.4" fill="#D575FE" stroke="#D575FE" stroke-width="0.18"><tspan x="240">u: </tspan><tspan x="247.12">0.353**</tspan></text><text y="188.98" font-size="6.4" fill="#F962DD" stroke="#F962DD" stroke-width="0.18"><tspan x="239.47">w: </tspan><tspan x="247.12">0.289*</tspan></text><text y="193.61" font-size="6.4" fill="#FF65AC" stroke="#FF65AC" stroke-width="0.18"><tspan x="240.18">y: </tspan><tspan x="247.12">0.329**</tspan></text><text y="138.05" font-size="6.4" fill="#EE8043" stroke="#EE8043" stroke-width="0.18"><tspan x="280">b: </tspan><tspan x="287.12">0.381***</tspan></text><text y="142.68" font-size="6.4" fill="#D19300" stroke="#D19300" stroke-width="0.18"><tspan x="280">d: </tspan><tspan x="287.12">0.381***</tspan></text><text y="147.31" font-size="6.4" fill="#A8A400" stroke="#A8A400" stroke-width="0.18"><tspan x="280.89">f: </tspan><tspan x="287.12">0.368**</tspan></text><text y="151.94" font-size="6.4" fill="#68B100" stroke="#68B100" stroke-width="0.18"><tspan x="280">h: </tspan><tspan x="287.12">0.381***</tspan></text><text y="156.57" font-size="6.4" fill="#00BB49" stroke="#00BB49" stroke-width="0.18"><tspan x="281.07">j: </tspan><tspan x="287.12">0.381***</tspan></text><text y="161.2" font-size="6.4" fill="#00C090" stroke="#00C090" stroke-width="0.18"><tspan x="281.07">l: </tspan><tspan x="287.12">0.342**</tspan></text><text y="165.83" font-size="6.4" fill="#00BFC4" stroke="#00BFC4" stroke-width="0.18"><tspan x="280">n: </tspan><tspan x="287.12">0.378**</tspan></text><text y="170.46" font-size="6.4" fill="#00B5ED" stroke="#00B5ED" stroke-width="0.18"><tspan x="280">p: </tspan><tspan x="287.12">0.336**</tspan></text><text y="175.09" font-size="6.4" fill="#42A0FF" stroke="#42A0FF" stroke-width="0.18"><tspan x="280.71">r: </tspan><tspan x="287.12">0.403***</tspan></text><text y="179.72" font-size="6.4" fill="#B684FF" stroke="#B684FF" stroke-width="0.18"><tspan x="280.89">t: </tspan><tspan x="287.12">0.332**</tspan></text><text y="184.35" font-size="6.4" fill="#EB69F0" stroke="#EB69F0" stroke-width="0.18"><tspan x="280.18">v: </tspan><tspan x="287.12">0.386***</tspan></text><text y="188.98" font-size="6.4" fill="#FF61C6" stroke="#FF61C6" stroke-width="0.18"><tspan x="280.18">x: </tspan><tspan x="287.12">0.270*</tspan></text><text y="193.61" font-size="6.4" fill="#FF6D8E" stroke="#FF6D8E" stroke-width="0.18"><tspan x="280.18">z: </tspan><tspan x="287.12">0.285*</tspan></text></g>
<g><text x="377.42" y="132.75" text-anchor="middle" font-size="6.4" fill="#4d4d4d">Corr: 0.093***</text><text y="138.05" font-size="6.4" fill="#F8766D" stroke="#F8766D" stroke-width="0.18"><tspan x="345">a: </tspan><tspan x="352.12">0.078</tspan></text><text y="142.68" font-size="6.4" fill="#E18A00" stroke="#E18A00" stroke-width="0.18"><tspan x="345.18">c: </tspan><tspan x="352.12">0.081</tspan></text><text y="147.31" font-size="6.4" fill="#BE9C00" stroke="#BE9C00" stroke-width="0.18"><tspan x="345">e: </tspan><tspan x="352.12">0.081</tspan></text><text y="151.94" font-size="6.4" fill="#8CAB00" stroke="#8CAB00" stroke-width="0.18"><tspan x="345">g: </tspan><tspan x="352.12">0.081</tspan></text><text y="156.57" font-size="6.4" fill="#24B700" stroke="#24B700" stroke-width="0.18"><tspan x="346.07">i: </tspan><tspan x="352.12">0.081</tspan></text><text y="161.2" font-size="6.4" fill="#00BE70" stroke="#00BE70" stroke-width="0.18"><tspan x="345.18">k: </tspan><tspan x="352.12">0.081</tspan></text><text y="165.83" font-size="6.4" fill="#00C1AB" stroke="#00C1AB" stroke-width="0.18"><tspan x="344.11">m: </tspan><tspan x="352.12">0.113</tspan></text><text y="170.46" font-size="6.4" fill="#00BBDA" stroke="#00BBDA" stroke-width="0.18"><tspan x="345">o: </tspan><tspan x="352.12">0.099</tspan></text><text y="175.09" font-size="6.4" fill="#00ACFC" stroke="#00ACFC" stroke-width="0.18"><tspan x="345">q: </tspan><tspan x="352.12">0.075</tspan></text><text y="179.72" font-size="6.4" fill="#8B93FF" stroke="#8B93FF" stroke-width="0.18"><tspan x="345.18">s: </tspan><tspan x="352.12">0.114</tspan></text><text y="184.35" font-size="6.4" fill="#D575FE" stroke="#D575FE" stroke-width="0.18"><tspan x="345">u: </tspan><tspan x="352.12">0.142</tspan></text><text y="188.98" font-size="6.4" fill="#F962DD" stroke="#F962DD" stroke-width="0.18"><tspan x="344.47">w: </tspan><tspan x="352.12">0.130</tspan></text><text y="193.61" font-size="6.4" fill="#FF65AC" stroke="#FF65AC" stroke-width="0.18"><tspan x="345.18">y: </tspan><tspan x="352.12">0.099</tspan></text><text y="138.05" font-size="6.4" fill="#EE8043" stroke="#EE8043" stroke-width="0.18"><tspan x="382.6">b: </tspan><tspan x="389.72">0.081</tspan></text><text y="142.68" font-size="6.4" fill="#D19300" stroke="#D19300" stroke-width="0.18"><tspan x="382.6">d: </tspan><tspan x="389.72">0.081</tspan></text><text y="147.31" font-size="6.4" fill="#A8A400" stroke="#A8A400" stroke-width="0.18"><tspan x="383.49">f: </tspan><tspan x="389.72">0.054</tspan></text><text y="151.94" font-size="6.4" fill="#68B100" stroke="#68B100" stroke-width="0.18"><tspan x="382.6">h: </tspan><tspan x="389.72">0.081</tspan></text><text y="156.57" font-size="6.4" fill="#00BB49" stroke="#00BB49" stroke-width="0.18"><tspan x="383.67">j: </tspan><tspan x="389.72">0.081</tspan></text><text y="161.2" font-size="6.4" fill="#00C090" stroke="#00C090" stroke-width="0.18"><tspan x="383.67">l: </tspan><tspan x="389.72">0.111</tspan></text><text y="165.83" font-size="6.4" fill="#00BFC4" stroke="#00BFC4" stroke-width="0.18"><tspan x="382.6">n: </tspan><tspan x="389.72">0.094</tspan></text><text y="170.46" font-size="6.4" fill="#00B5ED" stroke="#00B5ED" stroke-width="0.18"><tspan x="382.6">p: </tspan><tspan x="389.72">0.100</tspan></text><text y="175.09" font-size="6.4" fill="#42A0FF" stroke="#42A0FF" stroke-width="0.18"><tspan x="383.31">r: </tspan><tspan x="389.72">0.123</tspan></text><text y="179.72" font-size="6.4" fill="#B684FF" stroke="#B684FF" stroke-width="0.18"><tspan x="383.49">t: </tspan><tspan x="389.72">0.106</tspan></text><text y="184.35" font-size="6.4" fill="#EB69F0" stroke="#EB69F0" stroke-width="0.18"><tspan x="382.78">v: </tspan><tspan x="389.72">0.105</tspan></text><text y="188.98" font-size="6.4" fill="#FF61C6" stroke="#FF61C6" stroke-width="0.18"><tspan x="382.78">x: </tspan><tspan x="389.72">0.105</tspan></text><text y="193.61" font-size="6.4" fill="#FF6D8E" stroke="#FF6D8E" stroke-width="0.18"><tspan x="382.78">z: </tspan><tspan x="389.72">0.031</tspan></text></g>
<g><text x="479.86" y="132.75" text-anchor="middle" font-size="6.4" fill="#4d4d4d">Corr: 0.794***</text><text y="138.05" font-size="6.4" fill="#F8766D" stroke="#F8766D" stroke-width="0.18"><tspan x="441">a: </tspan><tspan x="448.12">0.796***</tspan></text><text y="142.68" font-size="6.4" fill="#E18A00" stroke="#E18A00" stroke-width="0.18"><tspan x="441.18">c: </tspan><tspan x="448.12">0.799***</tspan></text><text y="147.31" font-size="6.4" fill="#BE9C00" stroke="#BE9C00" stroke-width="0.18"><tspan x="441">e: </tspan><tspan x="448.12">0.799***</tspan></text><text y="151.94" font-size="6.4" fill="#8CAB00" stroke="#8CAB00" stroke-width="0.18"><tspan x="441">g: </tspan><tspan x="448.12">0.799***</tspan></text><text y="156.57" font-size="6.4" fill="#24B700" stroke="#24B700" stroke-width="0.18"><tspan x="442.07">i: </tspan><tspan x="448.12">0.799***</tspan></text><text y="161.2" font-size="6.4" fill="#00BE70" stroke="#00BE70" stroke-width="0.18"><tspan x="441.18">k: </tspan><tspan x="448.12">0.799***</tspan></text><text y="165.83" font-size="6.4" fill="#00C1AB" stroke="#00C1AB" stroke-width="0.18"><tspan x="440.11">m: </tspan><tspan x="448.12">0.784***</tspan></text><text y="170.46" font-size="6.4" fill="#00BBDA" stroke="#00BBDA" stroke-width="0.18"><tspan x="441">o: </tspan><tspan x="448.12">0.775***</tspan></text><text y="175.09" font-size="6.4" fill="#00ACFC" stroke="#00ACFC" stroke-width="0.18"><tspan x="441">q: </tspan><tspan x="448.12">0.772***</tspan></text><text y="179.72" font-size="6.4" fill="#8B93FF" stroke="#8B93FF" stroke-width="0.18"><tspan x="441.18">s: </tspan><tspan x="448.12">0.801***</tspan></text><text y="184.35" font-size="6.4" fill="#D575FE" stroke="#D575FE" stroke-width="0.18"><tspan x="441">u: </tspan><tspan x="448.12">0.797***</tspan></text><text y="188.98" font-size="6.4" fill="#F962DD" stroke="#F962DD" stroke-width="0.18"><tspan x="440.47">w: </tspan><tspan x="448.12">0.790***</tspan></text><text y="193.61" font-size="6.4" fill="#FF65AC" stroke="#FF65AC" stroke-width="0.18"><tspan x="441.18">y: </tspan><tspan x="448.12">0.796***</tspan></text><text y="138.05" font-size="6.4" fill="#EE8043" stroke="#EE8043" stroke-width="0.18"><tspan x="482">b: </tspan><tspan x="489.12">0.799***</tspan></text><text y="142.68" font-size="6.4" fill="#D19300" stroke="#D19300" stroke-width="0.18"><tspan x="482">d: </tspan><tspan x="489.12">0.799***</tspan></text><text y="147.31" font-size="6.4" fill="#A8A400" stroke="#A8A400" stroke-width="0.18"><tspan x="482.89">f: </tspan><tspan x="489.12">0.793***</tspan></text><text y="151.94" font-size="6.4" fill="#68B100" stroke="#68B100" stroke-width="0.18"><tspan x="482">h: </tspan><tspan x="489.12">0.799***</tspan></text><text y="156.57" font-size="6.4" fill="#00BB49" stroke="#00BB49" stroke-width="0.18"><tspan x="483.07">j: </tspan><tspan x="489.12">0.799***</tspan></text><text y="161.2" font-size="6.4" fill="#00C090" stroke="#00C090" stroke-width="0.18"><tspan x="483.07">l: </tspan><tspan x="489.12">0.793***</tspan></text><text y="165.83" font-size="6.4" fill="#00BFC4" stroke="#00BFC4" stroke-width="0.18"><tspan x="482">n: </tspan><tspan x="489.12">0.786***</tspan></text><text y="170.46" font-size="6.4" fill="#00B5ED" stroke="#00B5ED" stroke-width="0.18"><tspan x="482">p: </tspan><tspan x="489.12">0.780***</tspan></text><text y="175.09" font-size="6.4" fill="#42A0FF" stroke="#42A0FF" stroke-width="0.18"><tspan x="482.71">r: </tspan><tspan x="489.12">0.809***</tspan></text><text y="179.72" font-size="6.4" fill="#B684FF" stroke="#B684FF" stroke-width="0.18"><tspan x="482.89">t: </tspan><tspan x="489.12">0.796***</tspan></text><text y="184.35" font-size="6.4" fill="#EB69F0" stroke="#EB69F0" stroke-width="0.18"><tspan x="482.18">v: </tspan><tspan x="489.12">0.800***</tspan></text><text y="188.98" font-size="6.4" fill="#FF61C6" stroke="#FF61C6" stroke-width="0.18"><tspan x="482.18">x: </tspan><tspan x="489.12">0.785***</tspan></text><text y="193.61" font-size="6.4" fill="#FF6D8E" stroke="#FF6D8E" stroke-width="0.18"><tspan x="482.18">z: </tspan><tspan x="489.12">0.780***</tspan></text></g>
<g><text x="377.42" y="228.4" text-anchor="middle" font-size="6.4" fill="#4d4d4d">Corr: 0.072**</text><text y="233.5" font-size="6.4" fill="#F8766D" stroke="#F8766D" stroke-width="0.18"><tspan x="347">a: </tspan><tspan x="354.12">0.076</tspan></text><text y="238.1" font-size="6.4" fill="#E18A00" stroke="#E18A00" stroke-width="0.18"><tspan x="347.18">c: </tspan><tspan x="354.12">0.074</tspan></text><text y="242.7" font-size="6.4" fill="#BE9C00" stroke="#BE9C00" stroke-width="0.18"><tspan x="347">e: </tspan><tspan x="354.12">0.074</tspan></text><text y="247.3" font-size="6.4" fill="#8CAB00" stroke="#8CAB00" stroke-width="0.18"><tspan x="347">g: </tspan><tspan x="354.12">0.074</tspan></text><text y="251.9" font-size="6.4" fill="#24B700" stroke="#24B700" stroke-width="0.18"><tspan x="348.07">i: </tspan><tspan x="354.12">0.074</tspan></text><text y="256.5" font-size="6.4" fill="#00BE70" stroke="#00BE70" stroke-width="0.18"><tspan x="347.18">k: </tspan><tspan x="354.12">0.074</tspan></text><text y="261.1" font-size="6.4" fill="#00C1AB" stroke="#00C1AB" stroke-width="0.18"><tspan x="346.11">m: </tspan><tspan x="354.12">0.060</tspan></text><text y="265.7" font-size="6.4" fill="#00BBDA" stroke="#00BBDA" stroke-width="0.18"><tspan x="347">o: </tspan><tspan x="354.12">0.059</tspan></text><text y="270.3" font-size="6.4" fill="#00ACFC" stroke="#00ACFC" stroke-width="0.18"><tspan x="347">q: </tspan><tspan x="354.12">0.051</tspan></text><text y="274.9" font-size="6.4" fill="#8B93FF" stroke="#8B93FF" stroke-width="0.18"><tspan x="347.18">s: </tspan><tspan x="354.12">0.136</tspan></text><text y="279.5" font-size="6.4" fill="#D575FE" stroke="#D575FE" stroke-width="0.18"><tspan x="347">u: </tspan><tspan x="354.12">0.108</tspan></text><text y="284.1" font-size="6.4" fill="#F962DD" stroke="#F962DD" stroke-width="0.18"><tspan x="346.47">w: </tspan><tspan x="354.12">−0.008</tspan></text><text y="288.7" font-size="6.4" fill="#FF65AC" stroke="#FF65AC" stroke-width="0.18"><tspan x="347.18">y: </tspan><tspan x="354.12">0.062</tspan></text><text y="233.5" font-size="6.4" fill="#EE8043" stroke="#EE8043" stroke-width="0.18"><tspan x="385.4">b: </tspan><tspan x="392.52">0.074</tspan></text><text y="238.1" font-size="6.4" fill="#D19300" stroke="#D19300" stroke-width="0.18"><tspan x="385.4">d: </tspan><tspan x="392.52">0.074</tspan></text><text y="242.7" font-size="6.4" fill="#A8A400" stroke="#A8A400" stroke-width="0.18"><tspan x="386.29">f: </tspan><tspan x="392.52">0.043</tspan></text><text y="247.3" font-size="6.4" fill="#68B100" stroke="#68B100" stroke-width="0.18"><tspan x="385.4">h: </tspan><tspan x="392.52">0.074</tspan></text><text y="251.9" font-size="6.4" fill="#00BB49" stroke="#00BB49" stroke-width="0.18"><tspan x="386.47">j: </tspan><tspan x="392.52">0.074</tspan></text><text y="256.5" font-size="6.4" fill="#00C090" stroke="#00C090" stroke-width="0.18"><tspan x="386.47">l: </tspan><tspan x="392.52">0.062</tspan></text><text y="261.1" font-size="6.4" fill="#00BFC4" stroke="#00BFC4" stroke-width="0.18"><tspan x="385.4">n: </tspan><tspan x="392.52">0.113</tspan></text><text y="265.7" font-size="6.4" fill="#00B5ED" stroke="#00B5ED" stroke-width="0.18"><tspan x="385.4">p: </tspan><tspan x="392.52">0.071</tspan></text><text y="270.3" font-size="6.4" fill="#42A0FF" stroke="#42A0FF" stroke-width="0.18"><tspan x="386.11">r: </tspan><tspan x="392.52">0.130</tspan></text><text y="274.9" font-size="6.4" fill="#B684FF" stroke="#B684FF" stroke-width="0.18"><tspan x="386.29">t: </tspan><tspan x="392.52">0.069</tspan></text><text y="279.5" font-size="6.4" fill="#EB69F0" stroke="#EB69F0" stroke-width="0.18"><tspan x="385.58">v: </tspan><tspan x="392.52">0.115</tspan></text><text y="284.1" font-size="6.4" fill="#FF61C6" stroke="#FF61C6" stroke-width="0.18"><tspan x="385.58">x: </tspan><tspan x="392.52">0.038</tspan></text><text y="288.7" font-size="6.4" fill="#FF6D8E" stroke="#FF6D8E" stroke-width="0.18"><tspan x="385.58">z: </tspan><tspan x="392.52">−0.012</tspan></text></g>
<g><text x="479.86" y="228.4" text-anchor="middle" font-size="6.4" fill="#4d4d4d">Corr: 0.755***</text><text y="233.5" font-size="6.4" fill="#F8766D" stroke="#F8766D" stroke-width="0.18"><tspan x="443.4">a: </tspan><tspan x="450.52">0.765***</tspan></text><text y="238.1" font-size="6.4" fill="#E18A00" stroke="#E18A00" stroke-width="0.18"><tspan x="443.58">c: </tspan><tspan x="450.52">0.764***</tspan></text><text y="242.7" font-size="6.4" fill="#BE9C00" stroke="#BE9C00" stroke-width="0.18"><tspan x="443.4">e: </tspan><tspan x="450.52">0.764***</tspan></text><text y="247.3" font-size="6.4" fill="#8CAB00" stroke="#8CAB00" stroke-width="0.18"><tspan x="443.4">g: </tspan><tspan x="450.52">0.764***</tspan></text><text y="251.9" font-size="6.4" fill="#24B700" stroke="#24B700" stroke-width="0.18"><tspan x="444.47">i: </tspan><tspan x="450.52">0.764***</tspan></text><text y="256.5" font-size="6.4" fill="#00BE70" stroke="#00BE70" stroke-width="0.18"><tspan x="443.58">k: </tspan><tspan x="450.52">0.764***</tspan></text><text y="261.1" font-size="6.4" fill="#00C1AB" stroke="#00C1AB" stroke-width="0.18"><tspan x="442.51">m: </tspan><tspan x="450.52">0.747***</tspan></text><text y="265.7" font-size="6.4" fill="#00BBDA" stroke="#00BBDA" stroke-width="0.18"><tspan x="443.4">o: </tspan><tspan x="450.52">0.746***</tspan></text><text y="270.3" font-size="6.4" fill="#00ACFC" stroke="#00ACFC" stroke-width="0.18"><tspan x="443.4">q: </tspan><tspan x="450.52">0.749***</tspan></text><text y="274.9" font-size="6.4" fill="#8B93FF" stroke="#8B93FF" stroke-width="0.18"><tspan x="443.58">s: </tspan><tspan x="450.52">0.774***</tspan></text><text y="279.5" font-size="6.4" fill="#D575FE" stroke="#D575FE" stroke-width="0.18"><tspan x="443.4">u: </tspan><tspan x="450.52">0.746***</tspan></text><text y="284.1" font-size="6.4" fill="#F962DD" stroke="#F962DD" stroke-width="0.18"><tspan x="442.87">w: </tspan><tspan x="450.52">0.717***</tspan></text><text y="288.7" font-size="6.4" fill="#FF65AC" stroke="#FF65AC" stroke-width="0.18"><tspan x="443.58">y: </tspan><tspan x="450.52">0.741***</tspan></text><text y="233.5" font-size="6.4" fill="#EE8043" stroke="#EE8043" stroke-width="0.18"><tspan x="482">b: </tspan><tspan x="489.12">0.764***</tspan></text><text y="238.1" font-size="6.4" fill="#D19300" stroke="#D19300" stroke-width="0.18"><tspan x="482">d: </tspan><tspan x="489.12">0.764***</tspan></text><text y="242.7" font-size="6.4" fill="#A8A400" stroke="#A8A400" stroke-width="0.18"><tspan x="482.89">f: </tspan><tspan x="489.12">0.753***</tspan></text><text y="247.3" font-size="6.4" fill="#68B100" stroke="#68B100" stroke-width="0.18"><tspan x="482">h: </tspan><tspan x="489.12">0.764***</tspan></text><text y="251.9" font-size="6.4" fill="#00BB49" stroke="#00BB49" stroke-width="0.18"><tspan x="483.07">j: </tspan><tspan x="489.12">0.764***</tspan></text><text y="256.5" font-size="6.4" fill="#00C090" stroke="#00C090" stroke-width="0.18"><tspan x="483.07">l: </tspan><tspan x="489.12">0.770***</tspan></text><text y="261.1" font-size="6.4" fill="#00BFC4" stroke="#00BFC4" stroke-width="0.18"><tspan x="482">n: </tspan><tspan x="489.12">0.769***</tspan></text><text y="265.7" font-size="6.4" fill="#00B5ED" stroke="#00B5ED" stroke-width="0.18"><tspan x="482">p: </tspan><tspan x="489.12">0.751***</tspan></text><text y="270.3" font-size="6.4" fill="#42A0FF" stroke="#42A0FF" stroke-width="0.18"><tspan x="482.71">r: </tspan><tspan x="489.12">0.777***</tspan></text><text y="274.9" font-size="6.4" fill="#B684FF" stroke="#B684FF" stroke-width="0.18"><tspan x="482.89">t: </tspan><tspan x="489.12">0.746***</tspan></text><text y="279.5" font-size="6.4" fill="#EB69F0" stroke="#EB69F0" stroke-width="0.18"><tspan x="482.18">v: </tspan><tspan x="489.12">0.769***</tspan></text><text y="284.1" font-size="6.4" fill="#FF61C6" stroke="#FF61C6" stroke-width="0.18"><tspan x="482.18">x: </tspan><tspan x="489.12">0.722***</tspan></text><text y="288.7" font-size="6.4" fill="#FF6D8E" stroke="#FF6D8E" stroke-width="0.18"><tspan x="482.18">z: </tspan><tspan x="489.12">0.722***</tspan></text></g>
<g><text x="479.86" y="324.05" text-anchor="middle" font-size="6.4" fill="#4d4d4d">Corr: 0.432***</text><text y="329.15" font-size="6.4" fill="#F8766D" stroke="#F8766D" stroke-width="0.18"><tspan x="444">a: </tspan><tspan x="451.12">0.425***</tspan></text><text y="333.75" font-size="6.4" fill="#E18A00" stroke="#E18A00" stroke-width="0.18"><tspan x="444.18">c: </tspan><tspan x="451.12">0.424***</tspan></text><text y="338.35" font-size="6.4" fill="#BE9C00" stroke="#BE9C00" stroke-width="0.18"><tspan x="444">e: </tspan><tspan x="451.12">0.424***</tspan></text><text y="342.95" font-size="6.4" fill="#8CAB00" stroke="#8CAB00" stroke-width="0.18"><tspan x="444">g: </tspan><tspan x="451.12">0.424***</tspan></text><text y="347.55" font-size="6.4" fill="#24B700" stroke="#24B700" stroke-width="0.18"><tspan x="445.07">i: </tspan><tspan x="451.12">0.424***</tspan></text><text y="352.15" font-size="6.4" fill="#00BE70" stroke="#00BE70" stroke-width="0.18"><tspan x="444.18">k: </tspan><tspan x="451.12">0.424***</tspan></text><text y="356.75" font-size="6.4" fill="#00C1AB" stroke="#00C1AB" stroke-width="0.18"><tspan x="443.11">m: </tspan><tspan x="451.12">0.436***</tspan></text><text y="361.35" font-size="6.4" fill="#00BBDA" stroke="#00BBDA" stroke-width="0.18"><tspan x="444">o: </tspan><tspan x="451.12">0.440***</tspan></text><text y="365.95" font-size="6.4" fill="#00ACFC" stroke="#00ACFC" stroke-width="0.18"><tspan x="444">q: </tspan><tspan x="451.12">0.422***</tspan></text><text y="370.55" font-size="6.4" fill="#8B93FF" stroke="#8B93FF" stroke-width="0.18"><tspan x="444.18">s: </tspan><tspan x="451.12">0.460***</tspan></text><text y="375.15" font-size="6.4" fill="#D575FE" stroke="#D575FE" stroke-width="0.18"><tspan x="444">u: </tspan><tspan x="451.12">0.474***</tspan></text><text y="379.75" font-size="6.4" fill="#F962DD" stroke="#F962DD" stroke-width="0.18"><tspan x="443.47">w: </tspan><tspan x="451.12">0.437***</tspan></text><text y="384.35" font-size="6.4" fill="#FF65AC" stroke="#FF65AC" stroke-width="0.18"><tspan x="444.18">y: </tspan><tspan x="451.12">0.423***</tspan></text><text y="329.15" font-size="6.4" fill="#EE8043" stroke="#EE8043" stroke-width="0.18"><tspan x="489.4">b: </tspan><tspan x="496.52">0.425***</tspan></text><text y="333.75" font-size="6.4" fill="#D19300" stroke="#D19300" stroke-width="0.18"><tspan x="489.4">d: </tspan><tspan x="496.52">0.424***</tspan></text><text y="338.35" font-size="6.4" fill="#A8A400" stroke="#A8A400" stroke-width="0.18"><tspan x="490.29">f: </tspan><tspan x="496.52">0.405***</tspan></text><text y="342.95" font-size="6.4" fill="#68B100" stroke="#68B100" stroke-width="0.18"><tspan x="489.4">h: </tspan><tspan x="496.52">0.424***</tspan></text><text y="347.55" font-size="6.4" fill="#00BB49" stroke="#00BB49" stroke-width="0.18"><tspan x="490.47">j: </tspan><tspan x="496.52">0.424***</tspan></text><text y="352.15" font-size="6.4" fill="#00C090" stroke="#00C090" stroke-width="0.18"><tspan x="490.47">l: </tspan><tspan x="496.52">0.437***</tspan></text><text y="356.75" font-size="6.4" fill="#00BFC4" stroke="#00BFC4" stroke-width="0.18"><tspan x="489.4">n: </tspan><tspan x="496.52">0.441***</tspan></text><text y="361.35" font-size="6.4" fill="#00B5ED" stroke="#00B5ED" stroke-width="0.18"><tspan x="489.4">p: </tspan><tspan x="496.52">0.443***</tspan></text><text y="365.95" font-size="6.4" fill="#42A0FF" stroke="#42A0FF" stroke-width="0.18"><tspan x="490.11">r: </tspan><tspan x="496.52">0.470***</tspan></text><text y="370.55" font-size="6.4" fill="#B684FF" stroke="#B684FF" stroke-width="0.18"><tspan x="490.29">t: </tspan><tspan x="496.52">0.425***</tspan></text><text y="375.15" font-size="6.4" fill="#EB69F0" stroke="#EB69F0" stroke-width="0.18"><tspan x="489.58">v: </tspan><tspan x="496.52">0.458***</tspan></text><text y="379.75" font-size="6.4" fill="#FF61C6" stroke="#FF61C6" stroke-width="0.18"><tspan x="489.58">x: </tspan><tspan x="496.52">0.395***</tspan></text><text y="384.35" font-size="6.4" fill="#FF6D8E" stroke="#FF6D8E" stroke-width="0.18"><tspan x="489.58">z: </tspan><tspan x="496.52">0.360**</tspan></text></g>
<rect x="20.7" y="22.4" width="98.8" height="92.1" fill="none" stroke="#b4b4b4" stroke-width="1.1"/>
<rect x="123.14" y="22.4" width="98.8" height="92.1" fill="none" stroke="#b4b4b4" stroke-width="1.1"/>
<rect x="225.58" y="22.4" width="98.8" height="92.1" fill="none" stroke="#b4b4b4" stroke-width="1.1"/>
<rect x="328.02" y="22.4" width="98.8" height="92.1" fill="none" stroke="#b4b4b4" stroke-width="1.1"/>
<rect x="430.46" y="22.4" width="98.8" height="92.1" fill="none" stroke="#b4b4b4" stroke-width="1.1"/>
<rect x="20.7" y="118.05" width="98.8" height="92.1" fill="none" stroke="#b4b4b4" stroke-width="1.1"/>
<rect x="123.14" y="118.05" width="98.8" height="92.1" fill="none" stroke="#b4b4b4" stroke-width="1.1"/>
<rect x="225.58" y="118.05" width="98.8" height="92.1" fill="none" stroke="#b4b4b4" stroke-width="1.1"/>
<rect x="328.02" y="118.05" width="98.8" height="92.1" fill="none" stroke="#b4b4b4" stroke-width="1.1"/>
<rect x="430.46" y="118.05" width="98.8" height="92.1" fill="none" stroke="#b4b4b4" stroke-width="1.1"/>
<rect x="20.7" y="213.7" width="98.8" height="92.1" fill="none" stroke="#b4b4b4" stroke-width="1.1"/>
<rect x="123.14" y="213.7" width="98.8" height="92.1" fill="none" stroke="#b4b4b4" stroke-width="1.1"/>
<rect x="225.58" y="213.7" width="98.8" height="92.1" fill="none" stroke="#b4b4b4" stroke-width="1.1"/>
<rect x="328.02" y="213.7" width="98.8" height="92.1" fill="none" stroke="#b4b4b4" stroke-width="1.1"/>
<rect x="430.46" y="213.7" width="98.8" height="92.1" fill="none" stroke="#b4b4b4" stroke-width="1.1"/>
<rect x="20.7" y="309.35" width="98.8" height="92.1" fill="none" stroke="#b4b4b4" stroke-width="1.1"/>
<rect x="123.14" y="309.35" width="98.8" height="92.1" fill="none" stroke="#b4b4b4" stroke-width="1.1"/>
<rect x="225.58" y="309.35" width="98.8" height="92.1" fill="none" stroke="#b4b4b4" stroke-width="1.1"/>
<rect x="328.02" y="309.35" width="98.8" height="92.1" fill="none" stroke="#b4b4b4" stroke-width="1.1"/>
<rect x="430.46" y="309.35" width="98.8" height="92.1" fill="none" stroke="#b4b4b4" stroke-width="1.1"/>
<rect x="20.7" y="405" width="98.8" height="92.1" fill="none" stroke="#b4b4b4" stroke-width="1.1"/>
<rect x="123.14" y="405" width="98.8" height="92.1" fill="none" stroke="#b4b4b4" stroke-width="1.1"/>
<rect x="225.58" y="405" width="98.8" height="92.1" fill="none" stroke="#b4b4b4" stroke-width="1.1"/>
<rect x="328.02" y="405" width="98.8" height="92.1" fill="none" stroke="#b4b4b4" stroke-width="1.1"/>
<rect x="430.46" y="405" width="98.8" height="92.1" fill="none" stroke="#b4b4b4" stroke-width="1.1"/>
<rect x="20.6" y="6" width="99" height="16.3" fill="#F33D28"/>
<text x="70.1" y="18.4" text-anchor="middle" font-size="11.9" fill="#fff">codon.No.</text>
<rect x="123.04" y="6" width="99" height="16.3" fill="#F33D28"/>
<text x="172.54" y="18.4" text-anchor="middle" font-size="11.9" fill="#fff">GC1</text>
<rect x="225.48" y="6" width="99" height="16.3" fill="#F33D28"/>
<text x="274.98" y="18.4" text-anchor="middle" font-size="11.9" fill="#fff">GC2</text>
<rect x="327.92" y="6" width="99" height="16.3" fill="#F33D28"/>
<text x="377.42" y="18.4" text-anchor="middle" font-size="11.9" fill="#fff">GC3</text>
<rect x="430.36" y="6" width="99" height="16.3" fill="#F33D28"/>
<text x="479.86" y="18.4" text-anchor="middle" font-size="11.9" fill="#fff">GC_all</text>
<rect x="529.26" y="22.3" width="16.8" height="92.3" fill="#F33D28"/>
<text transform="translate(533.56,68.45) rotate(90)" text-anchor="middle" font-size="11.9" fill="#fff">codon.No.</text>
<rect x="529.26" y="117.95" width="16.8" height="92.3" fill="#F33D28"/>
<text transform="translate(533.56,164.1) rotate(90)" text-anchor="middle" font-size="11.9" fill="#fff">GC1</text>
<rect x="529.26" y="213.6" width="16.8" height="92.3" fill="#F33D28"/>
<text transform="translate(533.56,259.75) rotate(90)" text-anchor="middle" font-size="11.9" fill="#fff">GC2</text>
<rect x="529.26" y="309.25" width="16.8" height="92.3" fill="#F33D28"/>
<text transform="translate(533.56,355.4) rotate(90)" text-anchor="middle" font-size="11.9" fill="#fff">GC3</text>
<rect x="529.26" y="404.9" width="16.8" height="92.3" fill="#F33D28"/>
<text transform="translate(533.56,451.05) rotate(90)" text-anchor="middle" font-size="11.9" fill="#fff">GC_all</text>
<line x1="23.4" y1="497.6" x2="23.4" y2="499.1" stroke="#555" stroke-width="0.5"/>
<text x="23.4" y="504" text-anchor="middle" font-size="5.6" fill="#4d4d4d">0</text>
<line x1="43.45" y1="497.6" x2="43.45" y2="499.1" stroke="#555" stroke-width="0.5"/>
<text x="43.45" y="504" text-anchor="middle" font-size="5.6" fill="#4d4d4d">500</text>
<line x1="63.5" y1="497.6" x2="63.5" y2="499.1" stroke="#555" stroke-width="0.5"/>
<text x="63.5" y="504" text-anchor="middle" font-size="5.6" fill="#4d4d4d">1000</text>
<line x1="83.55" y1="497.6" x2="83.55" y2="499.1" stroke="#555" stroke-width="0.5"/>
<text x="83.55" y="504" text-anchor="middle" font-size="5.6" fill="#4d4d4d">1500</text>
<line x1="103.6" y1="497.6" x2="103.6" y2="499.1" stroke="#555" stroke-width="0.5"/>
<text x="103.6" y="504" text-anchor="middle" font-size="5.6" fill="#4d4d4d">2000</text>
<line x1="130.7" y1="497.6" x2="130.7" y2="499.1" stroke="#555" stroke-width="0.5"/>
<text x="130.7" y="504" text-anchor="middle" font-size="5.6" fill="#4d4d4d">30</text>
<line x1="156.63" y1="497.6" x2="156.63" y2="499.1" stroke="#555" stroke-width="0.5"/>
<text x="156.63" y="504" text-anchor="middle" font-size="5.6" fill="#4d4d4d">40</text>
<line x1="182.56" y1="497.6" x2="182.56" y2="499.1" stroke="#555" stroke-width="0.5"/>
<text x="182.56" y="504" text-anchor="middle" font-size="5.6" fill="#4d4d4d">50</text>
<line x1="208.49" y1="497.6" x2="208.49" y2="499.1" stroke="#555" stroke-width="0.5"/>
<text x="208.49" y="504" text-anchor="middle" font-size="5.6" fill="#4d4d4d">60</text>
<line x1="242.4" y1="497.6" x2="242.4" y2="499.1" stroke="#555" stroke-width="0.5"/>
<text x="242.4" y="504" text-anchor="middle" font-size="5.6" fill="#4d4d4d">30</text>
<line x1="271.3" y1="497.6" x2="271.3" y2="499.1" stroke="#555" stroke-width="0.5"/>
<text x="271.3" y="504" text-anchor="middle" font-size="5.6" fill="#4d4d4d">40</text>
<line x1="300.2" y1="497.6" x2="300.2" y2="499.1" stroke="#555" stroke-width="0.5"/>
<text x="300.2" y="504" text-anchor="middle" font-size="5.6" fill="#4d4d4d">50</text>
<line x1="347.5" y1="497.6" x2="347.5" y2="499.1" stroke="#555" stroke-width="0.5"/>
<text x="347.5" y="504" text-anchor="middle" font-size="5.6" fill="#4d4d4d">20</text>
<line x1="368.3" y1="497.6" x2="368.3" y2="499.1" stroke="#555" stroke-width="0.5"/>
<text x="368.3" y="504" text-anchor="middle" font-size="5.6" fill="#4d4d4d">25</text>
<line x1="389.1" y1="497.6" x2="389.1" y2="499.1" stroke="#555" stroke-width="0.5"/>
<text x="389.1" y="504" text-anchor="middle" font-size="5.6" fill="#4d4d4d">30</text>
<line x1="409.9" y1="497.6" x2="409.9" y2="499.1" stroke="#555" stroke-width="0.5"/>
<text x="409.9" y="504" text-anchor="middle" font-size="5.6" fill="#4d4d4d">35</text>
<line x1="444.4" y1="497.6" x2="444.4" y2="499.1" stroke="#555" stroke-width="0.5"/>
<text x="444.4" y="504" text-anchor="middle" font-size="5.6" fill="#4d4d4d">30</text>
<line x1="466.6" y1="497.6" x2="466.6" y2="499.1" stroke="#555" stroke-width="0.5"/>
<text x="466.6" y="504" text-anchor="middle" font-size="5.6" fill="#4d4d4d">35</text>
<line x1="488.8" y1="497.6" x2="488.8" y2="499.1" stroke="#555" stroke-width="0.5"/>
<text x="488.8" y="504" text-anchor="middle" font-size="5.6" fill="#4d4d4d">40</text>
<line x1="511" y1="497.6" x2="511" y2="499.1" stroke="#555" stroke-width="0.5"/>
<text x="511" y="504" text-anchor="middle" font-size="5.6" fill="#4d4d4d">45</text>
<line x1="18.7" y1="110.6" x2="20.2" y2="110.6" stroke="#555" stroke-width="0.5"/>
<text x="17.8" y="112.6" text-anchor="end" font-size="5.6" fill="#4d4d4d">0.000</text>
<line x1="18.7" y1="81.5" x2="20.2" y2="81.5" stroke="#555" stroke-width="0.5"/>
<text x="17.8" y="83.5" text-anchor="end" font-size="5.6" fill="#4d4d4d">0.001</text>
<line x1="18.7" y1="52.4" x2="20.2" y2="52.4" stroke="#555" stroke-width="0.5"/>
<text x="17.8" y="54.4" text-anchor="end" font-size="5.6" fill="#4d4d4d">0.002</text>
<line x1="18.7" y1="23.3" x2="20.2" y2="23.3" stroke="#555" stroke-width="0.5"/>
<text x="17.8" y="25.3" text-anchor="end" font-size="5.6" fill="#4d4d4d">0.003</text>
<line x1="18.7" y1="202.7" x2="20.2" y2="202.7" stroke="#555" stroke-width="0.5"/>
<text x="17.8" y="204.7" text-anchor="end" font-size="5.6" fill="#4d4d4d">30</text>
<line x1="18.7" y1="178.33" x2="20.2" y2="178.33" stroke="#555" stroke-width="0.5"/>
<text x="17.8" y="180.33" text-anchor="end" font-size="5.6" fill="#4d4d4d">40</text>
<line x1="18.7" y1="153.96" x2="20.2" y2="153.96" stroke="#555" stroke-width="0.5"/>
<text x="17.8" y="155.96" text-anchor="end" font-size="5.6" fill="#4d4d4d">50</text>
<line x1="18.7" y1="129.59" x2="20.2" y2="129.59" stroke="#555" stroke-width="0.5"/>
<text x="17.8" y="131.59" text-anchor="end" font-size="5.6" fill="#4d4d4d">60</text>
<line x1="18.7" y1="290" x2="20.2" y2="290" stroke="#555" stroke-width="0.5"/>
<text x="17.8" y="292" text-anchor="end" font-size="5.6" fill="#4d4d4d">30</text>
<line x1="18.7" y1="263.25" x2="20.2" y2="263.25" stroke="#555" stroke-width="0.5"/>
<text x="17.8" y="265.25" text-anchor="end" font-size="5.6" fill="#4d4d4d">40</text>
<line x1="18.7" y1="236.5" x2="20.2" y2="236.5" stroke="#555" stroke-width="0.5"/>
<text x="17.8" y="238.5" text-anchor="end" font-size="5.6" fill="#4d4d4d">50</text>
<line x1="18.7" y1="383" x2="20.2" y2="383" stroke="#555" stroke-width="0.5"/>
<text x="17.8" y="385" text-anchor="end" font-size="5.6" fill="#4d4d4d">20</text>
<line x1="18.7" y1="363.55" x2="20.2" y2="363.55" stroke="#555" stroke-width="0.5"/>
<text x="17.8" y="365.55" text-anchor="end" font-size="5.6" fill="#4d4d4d">25</text>
<line x1="18.7" y1="344.1" x2="20.2" y2="344.1" stroke="#555" stroke-width="0.5"/>
<text x="17.8" y="346.1" text-anchor="end" font-size="5.6" fill="#4d4d4d">30</text>
<line x1="18.7" y1="324.65" x2="20.2" y2="324.65" stroke="#555" stroke-width="0.5"/>
<text x="17.8" y="326.65" text-anchor="end" font-size="5.6" fill="#4d4d4d">35</text>
<line x1="18.7" y1="484" x2="20.2" y2="484" stroke="#555" stroke-width="0.5"/>
<text x="17.8" y="486" text-anchor="end" font-size="5.6" fill="#4d4d4d">30</text>
<line x1="18.7" y1="463.33" x2="20.2" y2="463.33" stroke="#555" stroke-width="0.5"/>
<text x="17.8" y="465.33" text-anchor="end" font-size="5.6" fill="#4d4d4d">35</text>
<line x1="18.7" y1="442.66" x2="20.2" y2="442.66" stroke="#555" stroke-width="0.5"/>
<text x="17.8" y="444.66" text-anchor="end" font-size="5.6" fill="#4d4d4d">40</text>
<line x1="18.7" y1="421.99" x2="20.2" y2="421.99" stroke="#555" stroke-width="0.5"/>
<text x="17.8" y="423.99" text-anchor="end" font-size="5.6" fill="#4d4d4d">45</text>
</svg>
</body></html>
